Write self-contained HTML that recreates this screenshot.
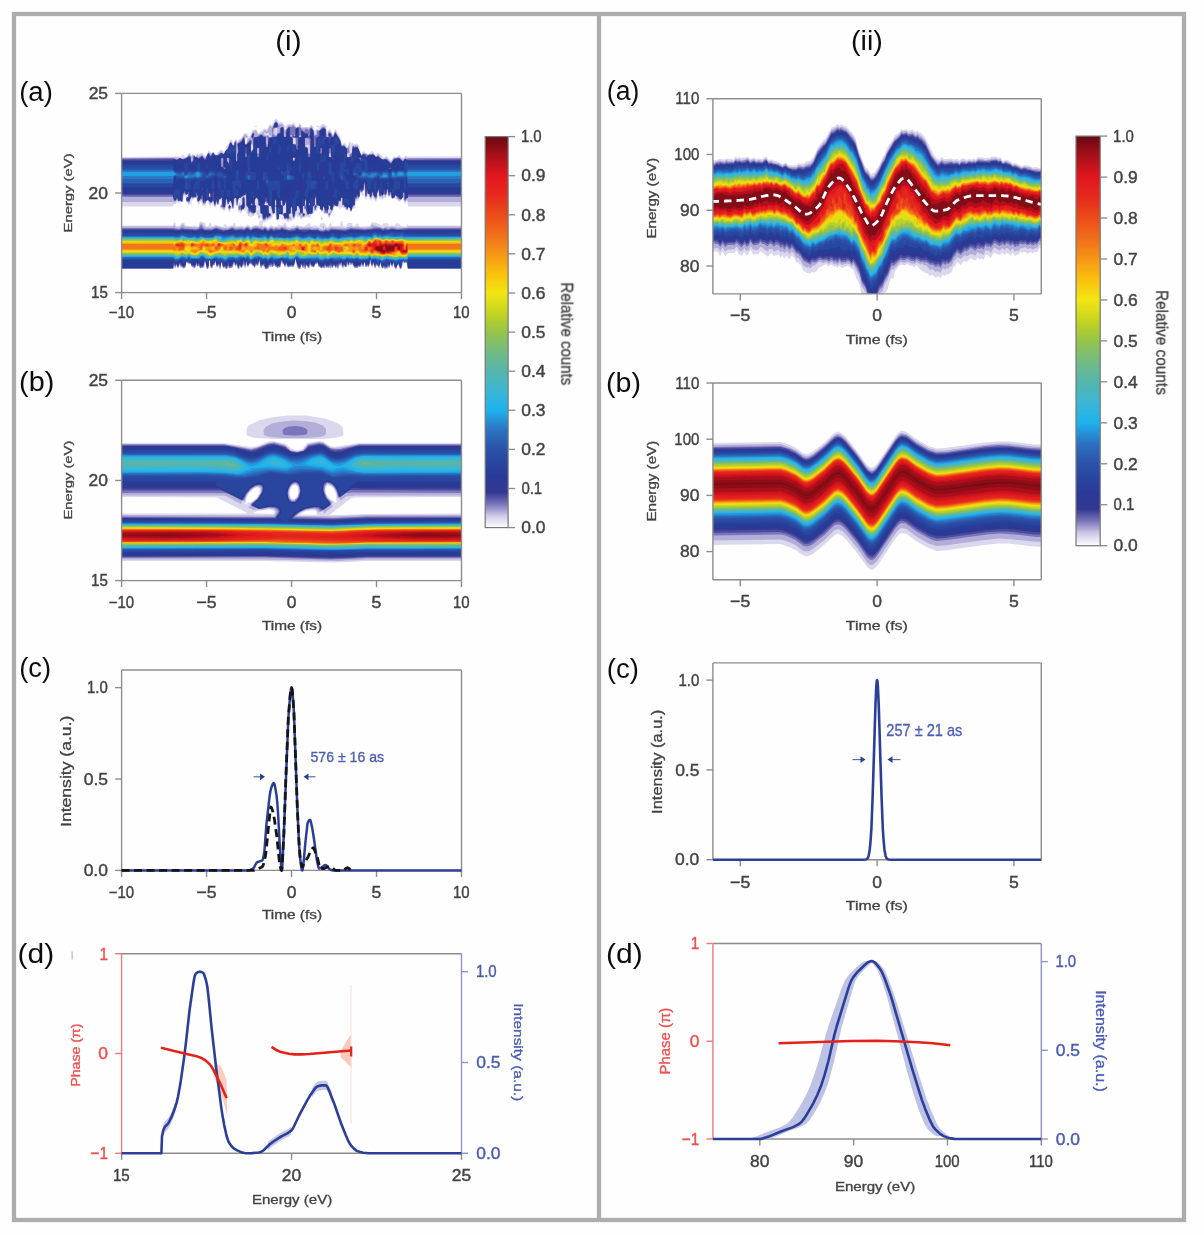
<!DOCTYPE html>
<html><head><meta charset="utf-8"><style>
html,body{margin:0;padding:0;background:#fff;width:1204px;height:1235px;overflow:hidden}
svg{display:block}
text{font-family:"Liberation Sans",sans-serif}
</style></head><body>
<svg width="1204" height="1235" viewBox="0 0 1204 1235">
<rect x="0" y="0" width="1204" height="1235" fill="#fefefe"/>
<defs><clipPath id="hiib"><rect x="712.9" y="383.0" width="328.40" height="196.70"/></clipPath><filter id="fhiib" x="-2%" y="-2%" width="104%" height="104%"><feGaussianBlur stdDeviation="0.7"/></filter></defs><g clip-path="url(#hiib)"><g filter="url(#fhiib)"><path fill="#dbd8ee" fill-rule="evenodd" d="M872.5 570l-2 -0.5 -3 -2 -10 -14 -11 -13.5 -4 -4 -4 -2 -2 0 -3 2 -9 8.5 -11 9 -4 2 -3 1 -3 -1 -8 -5.5 -9 -4 -6 -2 -70 1 -1 -12.5 0 -48 0 -35 1 -6.5 70 -1 6 1.5 9 4 8 6 3 0.5 3 -0.5 4 -2.5 11 -8.5 9 -9 3 -1.5 2 -0.5 3 1.5 4 3.5 12 15 9 13 3 2.5 2 0.5 2 -0.5 3 -2.5 19 -28.5 3 -3.5 3 -2 5 1.5 10 7 12 7 8 2.5 8 -0.5 40 -5.5 14 -1 11 0 24 3 11 0 1 6 0 35 0 49 -1 12.5 -11 -0.5 -25 -3 -10 0 -14 1.5 -40 5.5 -8 0.5 -8 -3 -12 -6.5 -10 -7.5 -5 -1 -2 1 -3 3 -19 28.5 -3 3 -2 1.5z"/><path fill="#b2add9" fill-rule="evenodd" d="M873.5 564.5l-3 0.5 -3 -2 -10 -14.5 -11 -13.5 -4 -4 -4 -2 -2 0.5 -3 1.5 -9 9 -11 8.5 -4 2.5 -3 0.5 -3 -0.5 -8 -6 -9 -4 -6 -1.5 -70 1 -1 -14 0 -42 0 -32 1 -7.5 70 -1 6 2 9 4 8 5.5 3 1 3 -1 4 -2 11 -9 9 -8.5 3 -2 2 0 3 1 4 3.5 12 15 9 13 3 2.5 2 1 2 -0.5 3 -3 19 -28 3 -4 3 -1.5 5 1 10 7.5 12 6.5 8 2.5 8 0 40 -5.5 14 -1.5 10 0 25 3 11 0.5 0.5 7.5 0.5 31 -0.5 43 -0.5 13.5 -11 -0.5 -25 -2.5 -10 -0.5 -14 1.5 -40 5.5 -8 0.5 -8 -2.5 -12 -7 -10 -7.5 -5 -1 -2 1 -3 3 -19 28.5 -4 4z"/><path fill="#7a74ba" fill-rule="evenodd" d="M872.5 560l-2 0 -3.5 -2.5 -9.5 -14 -9 -11 -5 -5.5 -4 -2.5 -3 0 -2.5 1 -9.5 9.5 -9 7 -4 3 -4 1.5 -4 -0.5 -9 -6.5 -9 -4 -4 -1 -71 1 -1 -12 0 -39 0 -29 1 -8.5 70 -1 10 3 6 3 7 5.5 3 0.5 2.5 -0.5 3.5 -2 11.5 -9 9.5 -9 2 -1.5 3 -0.5 3 1.5 4 3.5 11.5 14 9.5 13.5 3 3 2 0.5 2 -0.5 3 -2.5 18.5 -28 3.5 -4 3 -2 3 0.5 3 1 9.5 7.5 11.5 6.5 8 2.5 10 -0.5 40 -6 12 -1 10 0.5 22 2.5 14 0.5 0.5 9 0.5 28 -0.5 39 -0.5 12.5 -8 0 -21 -2.5 -15 -1 -13.5 1 -39.5 5.5 -11 1 -4 -1 -6 -3 -9 -5 -12 -8.5 -4 -0.5 -2.5 1.5 -3.5 4 -17.5 26 -2.5 3.5 -3 2z"/><path fill="#4a4c9f" fill-rule="evenodd" d="M872.5 557.5l-2 0 -3 -2 -10 -14.5 -11 -13.5 -4 -4 -4 -2 -2 0.5 -3 1.5 -9 9 -11 8.5 -4 2.5 -3 0.5 -3 -0.5 -8 -6 -9 -4 -6 -1.5 -70 1 -1 -48.5 0 -28 1 -8.5 70 -1 6 1.5 9 4.5 8 5.5 3 1 3 -1 4 -2 11 -9 9 -8.5 3 -2 2 0 3 1 4 3.5 12 15 9 13 3 2.5 2 1 2 -0.5 3 -3 19 -28.5 3 -3.5 3 -1.5 5 1 10 7.5 12 6.5 8 2.5 8 0 40 -6 14 -1 10 0 25 3 11 0.5 0.5 8.5 0.5 27 -1 49 -11 0 -25 -3 -10 0 -14 1 -40 5.5 -8 0.5 -8 -2.5 -12 -7 -10 -7 -5 -1.5 -2 1 -3 3 -19 28.5 -3 3.5 -2 1z"/><path fill="#303892" fill-rule="evenodd" d="M873.5 555l-3 0 -3 -2 -10 -14 -11 -13.5 -4 -4 -4 -2 -2 0 -3 2 -9 8.5 -11 9 -4 2 -3 1 -3 -1 -8 -5.5 -9 -4 -6 -2 -70 1 -1 -46 0 -25 1 -10 70 -1 6 1.5 9 4 7.5 5.5 3.5 1 3.5 -1 3.5 -2 10 -8 10 -9.5 3 -1.5 2 -0.5 3 1 4 4 12.5 15.5 7.5 11 3 3 3 1.5 2 -0.5 3 -2.5 19.5 -29.5 3.5 -3.5 2 -1 5 1 10 7.5 12 7 8 2.5 8 -0.5 39 -5.5 14 -1 12 0 22 2.5 13 0.5 0.5 10.5 0.5 24 -1 47 -11 -0.5 -25 -3 -10 0 -14 1.5 -40 5.5 -8 0 -8 -2.5 -12 -6.5 -10 -7.5 -5 -1 -2 1 -3 3 -19 28.5 -4 4z"/><path fill="#2a3a95" fill-rule="evenodd" d="M873.5 552.5l-3 0.5 -3 -2 -10 -14.5 -11 -13.5 -4 -4 -4 -2 -2 0.5 -3 1.5 -9 9 -11 8.5 -4 2.5 -3 0.5 -3 -0.5 -8 -6 -9 -4 -6 -1.5 -70 1 -1 -44 1 -34 70 -1 6 1.5 9 4 8 6 3 0.5 3 -0.5 4 -2.5 11 -8.5 9 -9 3 -1.5 2 -0.5 3 1 4 4 12 14.5 9 13 3 3 2 0.5 2 -0.5 3 -2.5 19 -28.5 3 -3.5 3 -2 5 1 10 7.5 12 7 8 2.5 8 -0.5 40 -5.5 14 -1.5 10 0.5 25 2.5 11 0.5 1 33.5 -1 44.5 -11 -0.5 -25 -2.5 -10 0 -14 1 -40 5.5 -8 0.5 -8 -2.5 -12 -7 -10 -7.5 -5 -1 -2 1 -3 3 -19 28.5 -4 4z"/><path fill="#283d99" fill-rule="evenodd" d="M872.5 551l-2 -0.5 -3 -2 -10 -14 -11 -13.5 -4 -4 -4 -2 -2 0 -3 2 -9 8.5 -11 9 -4 2 -3 1 -3 -1 -8 -5.5 -9 -4 -6 -2 -70 1 -1 -41.5 1 -33.5 70 -1 6 2 9 4 8 6 3 0.5 3 -1 4 -2 11 -9 9 -8.5 3 -1.5 2 -0.5 3 1 4 4 12 14.5 9 13 3 3 2 0.5 2 -0.5 3 -3 19 -28 3 -3.5 3 -2 5 1 10 7.5 12 6.5 8 3 8 -0.5 40 -5.5 14 -1.5 10 0.5 25 2.5 11 0.5 1 32.5 -1 42.5 -11 -0.5 -25 -3 -10 0 -14 1.5 -40 5.5 -8 0.5 -8 -3 -12 -6.5 -10 -7.5 -5 -1 -2 1 -3 3 -19 28.5 -3 3 -2 1.5z"/><path fill="#29449e" fill-rule="evenodd" d="M872.5 548.5l-2 0 -3 -2 -10 -14 -11 -14 -4 -4 -4 -1.5 -2 0 -3 1.5 -9 9 -11 8.5 -4 2.5 -3 1 -3 -1 -8 -6 -9 -4 -6 -1.5 -70 1 -1 -39.5 1 -32.5 70 -1 6 2 9 4 8 5.5 3 1 3 -1 4 -2 11 -9 9 -8.5 3 -2 2 0 3 1 4 3.5 12 15 9 13 3 2.5 2 1 2 -0.5 3 -3 19 -28 3 -3.5 3 -2 5 1 10 7.5 12 6.5 8 3 8 -0.5 40 -5.5 14 -1.5 10 0 25 3 11 0.5 0.5 31.5 -0.5 40 -11 0 -25 -3 -10 0 -14 1 -40 5.5 -8 0.5 -8 -2.5 -12 -7 -10 -7 -5 -1 -2 1 -3 3 -19 28 -3 3.5 -2 1z"/><path fill="#294ba3" fill-rule="evenodd" d="M872.5 546.5l-2 0 -3 -2 -10 -14.5 -11 -13.5 -4 -4 -4 -2 -2 0.5 -3 1.5 -9 9 -11 8.5 -4 2.5 -3 0.5 -3 -0.5 -8 -6 -9 -4 -6 -1.5 -70 1 -1 -37.5 1 -31.5 70 -1 6 1.5 9 4.5 8 5.5 3 1 3 -1 4 -2 11 -9 9 -8.5 3 -2 2 0 3 1 4 3.5 12 15 9 13 3 2.5 2 1 2 -0.5 3 -3 19 -28.5 3 -3.5 3 -1.5 5 1 10 7.5 12 6.5 8 2.5 8 0 40 -6 14 -1 10 0 25 3 11 0.5 0.5 30.5 -0.5 38 -11 -0.5 -25 -2.5 -10 0 -14 1 -40 5.5 -8 0.5 -8 -2.5 -12 -7 -10 -7.5 -5 -1 -2 1 -3 3 -19 28.5 -3 3.5 -2 1z"/><path fill="#2a52a8" fill-rule="evenodd" d="M873.5 544l-3 0.5 -3 -2.5 -10 -14 -11 -13.5 -4 -4 -4 -2 -2 0.5 -3 1.5 -9 8.5 -11 9 -4 2 -3 1 -3 -0.5 -9 -6.5 -9 -4 -5 -1.5 -70 1.5 -1 -35.5 1 -30.5 70 -1 6 1.5 9 4 8 6 3 1 3 -1 4 -2.5 11 -8.5 9 -9 3 -1.5 2 0 3 1 4 3.5 12 15 9 13 3 2.5 2 1 2 -0.5 3 -3 19.5 -29 2.5 -3 3 -1.5 5 1 10 7 12 7 8 2.5 8 -0.5 39 -5 15 -1.5 11 0 24 3 11 0 0.5 30 -0.5 36 -11 -0.5 -25 -2.5 -10 -0.5 -15 1.5 -39 5.5 -8 0.5 -4 -1 -6 -3 -10 -5.5 -10 -7.5 -5 -1 -2 1 -3 3 -19 28.5 -4 4z"/><path fill="#2b5fb3" fill-rule="evenodd" d="M872.5 543l-2 0 -3.5 -2.5 -9.5 -14 -11 -13.5 -4 -4 -4 -2 -2 0.5 -3 1.5 -9 8.5 -11 9 -4 2 -3 1 -3 -0.5 -8 -6 -9 -4 -6 -2 -70 1.5 -1 -34 1 -29.5 70 -1 5 1 10 4.5 7 5.5 4 1 3 -0.5 4 -2.5 10.5 -8.5 9.5 -9 3 -1.5 2 -0.5 3 1.5 4 3.5 12 14.5 9 13 3 3 2 0.5 2 -0.5 3 -2.5 19 -28.5 3 -3.5 3 -2 5 1 10 7.5 12 7 8 2.5 9 -0.5 40 -5.5 13 -1 10 0 24 2.5 12 0.5 0.5 29 -0.5 34.5 -11 -0.5 -25 -2.5 -10 -0.5 -14 1.5 -40 5.5 -8 0.5 -8 -3 -12 -6.5 -10 -7.5 -5 -1 -2 1 -3 3 -19 28.5 -3 3.5 -2 1z"/><path fill="#2c6cbe" fill-rule="evenodd" d="M872.5 541.5l-2 0 -3 -2 -10 -14 -11 -13.5 -4 -4 -4 -2 -2 0 -3 2 -9 8.5 -11 9 -4 2 -3 1 -3 -1 -8 -5.5 -9 -4.5 -6 -1.5 -70 1 -1 -32.5 1 -29 70 -1 6 2 9 4 8 5.5 3 1 3 -1 4 -2 11 -9 9 -8.5 3 -2 2 0 3 1 4 3.5 12 15 9 13 3 2.5 2 1 2 -0.5 3 -3 19 -28 3 -3.5 3 -2 5 1 10 7.5 12 6.5 8 3 8 -0.5 40 -5.5 14 -1.5 10 0 25 3 11 0.5 0.5 28 -0.5 33.5 -11 -0.5 -25 -3 -10 0 -14 1 -40 6 -8 0 -8 -2.5 -12 -6.5 -10 -7.5 -5 -1 -2 1 -3 3 -19 28.5 -3 3 -2 1z"/><path fill="#2a80cc" fill-rule="evenodd" d="M872.5 540.5l-2 0 -3 -2 -10 -14 -11 -14 -4 -4 -4 -1.5 -2 0 -3 1.5 -9 9 -11 8.5 -4 2.5 -3 0.5 -3 -0.5 -8 -6 -9 -4 -6 -1.5 -70 1 -1 -31.5 1 -28 70 -1 6 1.5 9 4 8 6 3 0.5 3 -0.5 4 -2.5 11 -8.5 9 -9 3 -1.5 2 0 3 1 4 3.5 12 15 9 13 3 2.5 2 0.5 2 -0.5 3 -2.5 19 -28.5 3 -3.5 3 -2 5 1.5 10 7 12 7 8 2.5 8 -0.5 40 -5.5 14 -1 10 0 25 3 11 0 0.5 27.5 -0.5 32 -11 0 -25 -3 -10 0 -14 1 -40 5.5 -8 0.5 -8 -2.5 -12 -7 -10 -7 -5 -1.5 -2 1 -3 3.5 -19 28 -3 3.5 -2 1z"/><path fill="#2499dd" fill-rule="evenodd" d="M871.5 539.5l-2 -0.5 -3 -3 -9 -13 -12 -14.5 -4 -3.5 -3 -1.5 -2 0.5 -3 1.5 -9 9 -11 8.5 -4 2.5 -3 0.5 -3 -0.5 -8 -6 -9 -4 -6 -1.5 -70 1 -1 -30.5 1 -27 70 -1 6 1.5 9 4 8 6 3 0.5 3 -0.5 4 -2.5 11 -8.5 9 -9 3 -1.5 2 -0.5 3 1 4 4 12 14.5 9 13 3 3 2 0.5 2 -0.5 3 -2.5 19 -28.5 3 -3.5 3 -2 5 1 10 7.5 12 7 8 2.5 8 -0.5 40 -5.5 14 -1.5 10 0.5 25 2.5 11 0.5 0.5 26.5 -0.5 31 -11 -0.5 -25 -2.5 -10 -0.5 -14 1.5 -40 5.5 -8 0.5 -8 -2.5 -12 -7 -10 -7.5 -5 -1 -3 2 -3 3.5 -19 28.5 -3 2.5 -2 0.5z"/><path fill="#1eb2ee" fill-rule="evenodd" d="M873.5 538l-3 0.5 -3 -2.5 -11 -15.5 -9 -11 -5 -5 -4 -2 -2 0 -3 2 -9 9 -10 7.5 -5 3.5 -3 0.5 -3 -0.5 -6.5 -5 -5.5 -3 -7 -3 -4 -1 -70 1 -1 -29 1 -26.5 70 -1 6 1.5 9 4 7.5 6 3.5 1 3 -1 4 -2.5 11 -8.5 9 -9 3 -1.5 2 0 3 1 4 3.5 11.5 14 9.5 14 3 2.5 2 1 2 -0.5 3 -3 19.5 -29 2.5 -3 3 -1.5 5 1 10.5 7.5 12.5 7 6 2 9 0 39 -5.5 15 -1.5 11 0 24 3 11 0 0.5 26 -0.5 30 -11 -0.5 -22 -2.5 -12 -0.5 -16.5 1.5 -39.5 5.5 -8 0.5 -6 -2 -11 -6.5 -12 -8.5 -5 -1 -2 1 -3 3 -19.5 29 -3.5 3.5z"/><path fill="#2ab4e4" fill-rule="evenodd" d="M872.5 537.5l-2 0 -3 -2 -10 -14 -12 -15 -4 -3.5 -3 -1 -3 0.5 -3 2 -8 8 -12 9.5 -6 2 -4 -1 -7.5 -5.5 -9 -4 -4.5 -1.5 -71 1 -1 -28.5 1 -26 70 -1 6 2 9 4 7 5 4 1.5 3 -1 4 -2 10.5 -8.5 9.5 -9 3 -2 2 0 3 1 4 3.5 12.5 15.5 8.5 12.5 3 3 2 0.5 2 -0.5 3 -3 18.5 -27.5 3.5 -4 3 -2 3 0 3 1.5 9 7 12 6.5 8 3 8 -0.5 41 -6 13 -1 10 0 24 3 12 0.5 0.5 25 -0.5 29.5 -15 -1 -21.5 -2.5 -9.5 0 -13 1 -39 5.5 -10 0.5 -4 -0.5 -6 -3 -9 -5 -12 -8.5 -4 -0.5 -3 1.5 -3 3.5 -17.5 26.5 -2.5 3 -3 2z"/><path fill="#36b5d9" fill-rule="evenodd" d="M873.5 536.5l-3 0.5 -3 -2 -10 -14 -11 -14 -4 -4 -4 -1.5 -2 0 -3 1.5 -9 9 -11 8.5 -4 2.5 -3 0.5 -3 -0.5 -8 -6 -9 -4 -6 -1.5 -70 1 -1 -28 1 -25 70 -1 6 1.5 9 4 8 6 3 0.5 3 -0.5 4 -2.5 11 -8.5 9 -9 3 -1.5 2 -0.5 3 1 4 4 12 14.5 9 13 3 3 2 0.5 2 -0.5 3 -2.5 19 -28.5 3 -3.5 3 -2 5 1 10 7.5 12 7 8 2.5 8 -0.5 40 -5.5 14 -1.5 10 0.5 25 2.5 11 0.5 0.5 24.5 -0.5 28.5 -11 0 -25 -3 -10 0 -14 1 -40 5.5 -8 0.5 -8 -2.5 -12 -7 -10 -7 -5 -1.5 -2 1 -3 3.5 -19 28 -4 4z"/><path fill="#41b6cc" fill-rule="evenodd" d="M872.5 536.5l-2 0 -3 -2 -10 -14 -11 -14 -4 -4 -4 -1.5 -2 0 -3 1.5 -9 9 -11 8.5 -4 2.5 -3 0.5 -3 -0.5 -8 -6 -9 -4 -6 -1.5 -70 1 -0.5 -27.5 0.5 -24.5 70 -1 6 1.5 9 4 8 6 3 0.5 3 -0.5 4 -2.5 11 -8.5 9 -9 3 -1.5 2 -0.5 3 1.5 4 3.5 12 14.5 9 13.5 3 2.5 2 0.5 2 -0.5 3 -2.5 19 -28.5 3 -3.5 3 -2 5 1 10 7.5 12 7 8 2.5 8 -0.5 40 -5.5 14 -1 10 0 25 2.5 11 0.5 0.5 24 -0.5 28 -11 0 -25 -3 -10 0 -14 1 -40 5.5 -8 0.5 -8 -2.5 -12 -7 -10 -7 -5 -1.5 -2 1 -3 3.5 -19 28 -3 3.5 -2 1z"/><path fill="#4bb6bc" fill-rule="evenodd" d="M873.5 535.5l-3 0.5 -3 -2 -10 -14 -11 -14 -4 -4 -4 -1.5 -2 0 -3 1.5 -9 9 -11 8.5 -4 2.5 -3 0.5 -3 -0.5 -8 -6 -9 -4 -6 -1.5 -70 1 -0.5 -27 0.5 -24 70 -1 6 1.5 9 4 8 6 3 0.5 3 -0.5 4 -2.5 11 -8.5 9 -9 3 -1.5 2 0 3 1 4 3.5 12 15 9 13 3 2.5 2 0.5 2 -0.5 3 -2.5 19 -28.5 3 -3.5 3 -2 5 1.5 10 7 12 7 8 2.5 8 -0.5 40 -5.5 14 -1 10 0 25 3 11 0 0.5 23.5 -0.5 27.5 -11 0 -25 -3 -10 0 -14 1 -40 5.5 -8 0.5 -8 -2.5 -12 -7 -10 -7 -5 -1.5 -2 1 -3 3.5 -19 28 -4 4z"/><path fill="#58b6a8" fill-rule="evenodd" d="M872.5 535.5l-2 0 -3 -2 -10 -14 -11 -14 -4 -4 -4 -2 -2 0.5 -3 1.5 -9 9 -11 8.5 -4 2.5 -3 0.5 -3 -0.5 -8 -6 -9 -4 -6 -1.5 -70 1 -0.5 -26.5 0.5 -23.5 70 -1 6 1.5 9 4 8 6 3 1 3 -1 4 -2.5 11 -8.5 9 -9 3 -1.5 2 0 3 1 4 3.5 12 15 9 13 3 2.5 2 1 2 -0.5 3 -3 19 -28.5 3 -3.5 3 -1.5 5 1 10 7 12 7 8 2.5 8 -0.5 40 -5.5 14 -1 10 0 25 3 11 0 0.5 23 -0.5 27 -11 0 -25 -3 -10 0 -14 1 -40 5.5 -8 0.5 -8 -2.5 -12 -7 -10 -7 -5 -1.5 -2 1 -3 3 -19 28.5 -3 3.5 -2 1z"/><path fill="#6aba8f" fill-rule="evenodd" d="M872.5 535l-2 -0.5 -3 -2 -10 -14 -11 -13.5 -4 -4 -4 -2 -2 0 -3 2 -9 8.5 -11 9 -4 2 -3 1 -3 -1 -8 -5.5 -9 -4 -6 -2 -70 1 -0.5 -25.5 0.5 -22.5 70 -1 6 1.5 9 4 8 6 3 0.5 3 -0.5 4 -2.5 11 -8.5 9 -9 3 -1.5 2 -0.5 3 1.5 4 3.5 12 14.5 9 13.5 3 2.5 2 0.5 2 -0.5 3 -2.5 19 -28.5 3 -3.5 3 -2 5 1.5 10 7 12 7 8 2.5 8 -0.5 40 -5.5 14 -1 10 0 25 3 11 0 0.5 22 -0.5 26.5 -11 -0.5 -25 -3 -10 0 -14 1.5 -40 5.5 -8 0.5 -8 -3 -12 -6.5 -10 -7.5 -5 -1 -2 1 -3 3 -19 28.5 -3 3 -2 1.5z"/><path fill="#7dbe71" fill-rule="evenodd" d="M873.5 533.5l-3 0.5 -3 -2 -10 -14.5 -11 -13.5 -4 -4 -4 -2 -2 0.5 -3 1.5 -9 9 -11 8.5 -4 2.5 -3 0.5 -3 -0.5 -8 -6 -9 -4 -6 -1.5 -70 1 -0.5 -25 0.5 -21.5 70 -1 6 1.5 9 4 8 6 3 0.5 3 -0.5 4 -2.5 11 -8.5 9 -9 3 -1.5 2 -0.5 3 1 4 4 12 14.5 9 13 3 3 2 0.5 2 -0.5 3 -2.5 19 -28.5 3 -3.5 3 -2 5 1 10 7.5 12 7 8 2.5 8 -0.5 40 -5.5 14 -1.5 10 0.5 25 2.5 11 0.5 0.5 21 -0.5 25.5 -11 -0.5 -25 -2.5 -10 0 -14 1 -40 5.5 -8 0.5 -8 -2.5 -12 -7 -10 -7.5 -5 -1 -2 1 -3 3 -19 28.5 -4 4z"/><path fill="#91c34e" fill-rule="evenodd" d="M873.5 533l-3 0 -3 -2 -9.5 -13.5 -12.5 -15 -3 -3.5 -4 -1.5 -3 0.5 -2 1.5 -9.5 9 -10.5 8.5 -3 1.5 -4 1.5 -4 -1.5 -7 -5 -9 -4.5 -6 -1.5 -70 1 -0.5 -24 0.5 -21 70 -1 6 2 9 4 7 5 4 1.5 4 -1.5 3 -1.5 10 -8 10 -9.5 3 -2 2 0 3 1 4 3.5 12 15 8.5 12.5 3.5 3.5 2 0.5 2 -0.5 3.5 -3.5 19.5 -29 3 -3 2 -1 5 1 10 7.5 12 6.5 8 3 8 -0.5 39 -5.5 14 -1.5 11 0 24 3 12 0.5 0.5 20 -0.5 25 -13 -0.5 -23 -3 -10 0 -14 1 -40 6 -8 0 -8 -2.5 -12 -6.5 -9 -7 -3 -1.5 -3 0 -2 1 -3 3 -19 28.5 -4 4z"/><path fill="#adcc34" fill-rule="evenodd" d="M873.5 532l-3 0 -3 -2 -10.5 -14.5 -10.5 -13 -4 -4 -4 -2 -2 0 -3 2 -9 8.5 -11 9 -4 2 -3 1 -3 -1 -8 -5.5 -9 -4.5 -6 -1.5 -70 1 -0.5 -23 0.5 -20 70 -1 5 1.5 10 4.5 8 6 3 0.5 3 -1 4 -2 11 -9 9 -8.5 3 -1.5 2 -0.5 3 1 4 4 12 14.5 9 13 3 3 2 0.5 2 -0.5 3 -3 19 -28 3 -3.5 3 -2 5 1 10 7.5 10 5.5 6 3 4 1 8 -0.5 39 -5.5 15 -1.5 10 0.5 25 2.5 11 0.5 0.5 19 -0.5 24 -11 -0.5 -25 -3 -10 0 -14 1 -40 6 -8 0 -8.5 -2.5 -11.5 -6.5 -10 -7.5 -5 -1 -3 1.5 -3 3.5 -18 27.5 -4 4z"/><path fill="#cad61f" fill-rule="evenodd" d="M873.5 530.5l-3 0.5 -3 -2 -10 -14.5 -11 -13.5 -4 -4 -4 -2 -2 0.5 -3 1.5 -9 9 -11 8.5 -4 2.5 -3 0.5 -3 -0.5 -8 -6 -9 -4 -6 -1.5 -70 1 -0.5 -22 0.5 -18.5 70 -1 6 1.5 9 4 8 6 3 0.5 3 -0.5 4 -2.5 11 -8.5 9 -9 3 -1.5 2 -0.5 3 1.5 4 3.5 12 15 9 13 3 2.5 2 0.5 2 -0.5 3 -2.5 19 -28.5 3 -3.5 3 -2 5 1.5 10 7 12 7 8 2.5 8 -0.5 40 -5.5 14 -1 10 0 25 3 11 0 0.5 18 -0.5 22.5 -11 0 -25 -3 -10 0 -14 1 -40 5.5 -8 0.5 -8 -2.5 -12 -7 -10 -7 -5 -1.5 -2 1 -3 3 -19 28.5 -4 4z"/><path fill="#e5e118" fill-rule="evenodd" d="M872.5 530l-2 -0.5 -3 -2 -10 -14 -11 -13.5 -4 -4 -4 -2 -2 0 -3 2 -9 8.5 -11 9 -4 2 -3 1 -3 -1 -8 -5.5 -9 -4 -6 -2 -70 1 0 -38 70 -1 6 2 9 4 8 5.5 3 1 3 -1 4 -2 11 -9 9 -8.5 3 -2 2 0 3 1 3.5 3.5 13 16 8.5 12 3 2.5 2 1 2 -0.5 3 -3 19 -28 3 -3.5 3 -2 5 1 10 7.5 12 6.5 8 3 8 -0.5 40 -5.5 14 -1.5 10 0 25 3 11 0.5 0 38 -12 -0.5 -24 -2.5 -10 -0.5 -14 1.5 -40 5.5 -8 0.5 -8 -3 -12 -6.5 -10 -7.5 -5 -1 -2 1 -3 3 -19 28.5 -3 3.5 -2 1z"/><path fill="#f4de12" fill-rule="evenodd" d="M872.5 529l-2 0 -3.5 -2.5 -9.5 -14 -9 -11 -5 -5.5 -4 -3 -3 0.5 -2.5 1 -9.5 9.5 -9 7 -6 4 -3 0.5 -3 -0.5 -9 -6.5 -13 -5 -71 1 0 -36.5 70 -1 4 1 7 3 6 3 6 4.5 3 1 3 -1 5 -3 10 -8 9 -9 3 -1.5 2 0 3 1 4.5 4.5 11 13 9.5 14 2 2 3 1.5 3 -1.5 2 -2 19.5 -29 3.5 -3.5 2 -1 5 1 12 8.5 11 6 6 2 7.5 0 38.5 -5.5 17 -1.5 13 0.5 22 2.5 11 0 0 36.5 -9 0 -21 -2.5 -14 -1 -13.5 1 -39.5 5.5 -11 1 -4 -1 -5 -2.5 -10 -5.5 -12 -8.5 -4 -0.5 -2.5 1.5 -3.5 4 -17.5 26 -2.5 3.5 -3 2z"/><path fill="#f7cf0f" fill-rule="evenodd" d="M871.5 528.5l-2 -0.5 -3 -3 -9 -13 -12 -14.5 -4 -3.5 -3 -1.5 -2 0.5 -3 1.5 -9 9 -12 9 -6 2.5 -4 -1 -7 -5.5 -9 -4 -6 -1.5 -70 1 0 -35.5 70 -1 6 1.5 9 4 7 5.5 4 1 3 -0.5 4 -2.5 11 -8.5 9 -9 5 -2 3 1.5 4.5 4 12 15 8.5 12.5 3 2.5 2 0.5 2 -0.5 3 -2.5 19.5 -29.5 3.5 -3.5 2 -1 5 1 11.5 8.5 11.5 6.5 6 2 9 -0.5 39 -5.5 15 -1 12 0 22 2.5 12 0.5 0 35.5 -11 -0.5 -25 -2.5 -10 -0.5 -14 1.5 -38 5.5 -10 0.5 -8 -2.5 -12 -7 -9 -7 -3 -1 -3 -0.5 -3 2 -3 3.5 -19 28.5 -3 2.5 -2 0.5z"/><path fill="#fac00c" fill-rule="evenodd" d="M873.5 527.5l-3 0.5 -3 -2 -10 -14.5 -11 -13.5 -4 -4 -4 -2 -2 0.5 -3 1.5 -9 9 -11 8.5 -4 2.5 -3 0.5 -3 -0.5 -8 -6 -9 -4 -6 -1.5 -70 1 0 -34.5 70 -1.5 6 2 9 4 7 5 4 1.5 3 -1 4 -2 11 -9 9 -8.5 3 -1.5 2 -0.5 3 1 4 4 12.5 15 8.5 12.5 3 3 2 0.5 2 -0.5 3 -3 19 -28 3 -3.5 3 -2 5 1 10 7.5 12 6.5 8 3 8 -0.5 40 -5.5 14 -1.5 11 0.5 23 2.5 12 0.5 0 34.5 -11 -0.5 -25 -2.5 -10 0 -14 1 -40 5.5 -8 0.5 -8 -2.5 -12 -7 -10 -7 -5 -1.5 -2 1 -3 3 -19 28.5 -4 4z"/><path fill="#f8af10" fill-rule="evenodd" d="M872.5 527.5l-2 0 -3 -2 -10 -14 -11 -14 -4 -4 -4 -1.5 -2 0 -3 1.5 -9 9 -11 8.5 -4 2.5 -3 1 -3 -1 -8 -6 -9 -4 -6 -1.5 -70 1 0 -34 70 -1 6 1.5 9 4 8 6 3 1 3 -1 4 -2.5 11 -8.5 9 -9 3 -1.5 2 0 3 1 4 3.5 12 15 9 13 3 2.5 2 1 2 -0.5 3 -3 19 -28.5 3 -3.5 3 -1.5 5 1 10 7 12 7 8 2.5 8 -0.5 40 -5.5 14 -1 10 0 25 3 11 0 0 34 -11 0 -25 -3 -10 0 -14 1 -40 5.5 -8 0.5 -8 -2.5 -12 -7 -10 -7 -5 -1 -2 1 -3 3 -19 28 -3 3.5 -2 1z"/><path fill="#f79e14" fill-rule="evenodd" d="M873.5 527l-3 0 -3 -2 -10 -14 -11 -13.5 -4 -4 -4 -2 -2 0 -3 2 -9 8.5 -11 9 -4 2 -3 1 -3 -1 -8 -5.5 -9 -4.5 -6 -1.5 -70 1 0 -33 70 -1 6 1.5 9 4 8 6 3 0.5 3 -0.5 4 -2.5 11 -8.5 9 -9 3 -1.5 2 -0.5 3 1.5 4 3.5 12 14.5 9 13 3 3 2 0.5 2 -0.5 3 -2.5 19 -28.5 3 -3.5 3 -2 5 1 10 7.5 12 7 8 2.5 8 -0.5 40 -5.5 14 -1.5 10 0.5 25 2.5 11 0.5 0 33.5 -11 -0.5 -25 -3 -10 0 -14 1 -40 6 -8 0 -8 -2.5 -12 -6.5 -10 -7.5 -5 -1 -2 1 -3 3 -19 28.5 -4 4z"/><path fill="#f58e17" fill-rule="evenodd" d="M872.5 527l-2 0 -3 -2.5 -10 -14 -11 -13.5 -4 -4 -4 -2 -2 0 -3 2 -9 8.5 -11 9 -4 2 -3 1 -3 -0.5 -8 -6 -9 -4 -6 -2 -70 1 0 -32.5 70 -1 6 1.5 9 4.5 8 5.5 3 1 3 -1 4 -2 11 -9 9 -8.5 3 -2 2 0 3 1 4 3.5 12 15 9 13 3 2.5 2 1 2 -0.5 3 -3 19 -28.5 3 -3.5 3 -1.5 5 1 10 7.5 12 6.5 8 2.5 8 0 40 -6 14 -1 10 0 25 3 11 0.5 0 32.5 -11 -0.5 -25 -2.5 -10 -0.5 -14 1.5 -40 5.5 -8 0.5 -8 -3 -12 -6.5 -10 -7.5 -5 -1 -2 1 -3 3 -19 28.5 -3 3.5 -2 1z"/><path fill="#f37e18" fill-rule="evenodd" d="M871.5 526.5l-2 -0.5 -3 -3 -9 -13 -12 -14.5 -4 -3.5 -3 -1.5 -2 0.5 -3 1.5 -9 9 -11 8.5 -4 2.5 -3 0.5 -3 -0.5 -8 -6 -9 -4 -6 -1.5 -70 1 0 -32 70 -1 6 1.5 9 4 8 6 3 0.5 3 -0.5 4 -2.5 11 -8.5 9 -9 3 -1.5 2 -0.5 3 1.5 4 3.5 12 14.5 9 13.5 3 2.5 2 0.5 2 -0.5 3 -2.5 19 -28.5 3 -3.5 3 -2 5 1.5 10 7 12 7 8 2.5 8 -0.5 40 -5.5 14 -1 10 0 25 3 11 0 0 32 -11 -0.5 -25 -2.5 -10 -0.5 -14 1.5 -40 5.5 -8 0.5 -8 -2.5 -12 -7 -10 -7.5 -5 -1 -3 2 -3 3.5 -19 28.5 -3 2.5 -2 0.5z"/><path fill="#f16e1a" fill-rule="evenodd" d="M873.5 525.5l-3 0.5 -3 -2 -10 -14 -11 -14 -4 -4 -4 -2 -2 0.5 -3 1.5 -9 9 -11 8.5 -4 2.5 -3 0.5 -3 -0.5 -8 -6 -9 -4 -6 -1.5 -70 1 0 -31.5 70 -1 6 2 9 4 8 5.5 3 1 3 -1 4 -2 11 -9 9 -8.5 3 -2 2 0 3 1 4 3.5 12 15 9 13 3 3 2 0.5 2 -0.5 3 -3 19 -28 3 -3.5 3 -2 5 1 10 7.5 12 6.5 8 3 8 -0.5 40 -5.5 14 -1.5 10 0 25 3 11 0.5 0 31 -11 0 -25 -3 -10 0 -14 1 -40 5.5 -8 0.5 -8 -2.5 -12 -7 -10 -7 -5 -1.5 -2 1 -3 3 -19 28.5 -4 4z"/><path fill="#ef601a" fill-rule="evenodd" d="M872.5 525.5l-2 0 -3 -2 -10 -14 -11 -14 -4 -4 -4 -1.5 -2 0 -3 1.5 -9 9 -11 8.5 -4 2.5 -3 1 -3 -1 -8 -6 -9 -4 -6 -1.5 -70 1 0 -30.5 70 -1 6 1.5 9 4 8 6 3 0.5 3 -0.5 4 -2.5 11 -8.5 9 -9 3 -1.5 2 0 3 1 4 3.5 12 15 9 13 3 2.5 2 0.5 2 -0.5 3 -2.5 19 -28.5 3 -3.5 3 -1.5 5 1 10 7 12 7 8 2.5 8 -0.5 40 -5.5 14 -1 10 0 25 3 11 0 0 30.5 -11 0 -25 -3 -10 0 -14 1 -40 5.5 -8 0.5 -8 -2.5 -12 -7 -10 -7 -5 -1 -2 1 -3 3 -19 28 -3 3.5 -2 1z"/><path fill="#ed531a" fill-rule="evenodd" d="M873.5 525l-3 0 -3 -2 -10 -14 -11 -13.5 -4 -4 -4 -2 -2 0 -3 2 -9 8.5 -11 9 -4 2 -3 1 -3 -1 -8 -5.5 -9 -4 -6 -2 -70 1 0 -29.5 70 -1 6 1.5 9 4 8 6 3 0.5 3 -0.5 4 -2.5 11 -8.5 9 -9 3 -1.5 2 -0.5 3 1 4 4 12 14.5 9 13 3 3 2 0.5 2 -0.5 3 -2.5 19 -28.5 3 -3.5 3 -2 5 1 10 7.5 12 7 8 2.5 8 -0.5 40 -5.5 14 -1.5 10 0.5 25 2.5 11 0.5 0 30 -11 -0.5 -25 -3 -10 0 -14 1.5 -40 5.5 -8 0 -8 -2.5 -12 -6.5 -10 -7.5 -5 -1 -2 1 -3 3 -19 28.5 -4 4z"/><path fill="#eb451b" fill-rule="evenodd" d="M872.5 525l-2 0 -3 -2.5 -11 -15 -10 -12.5 -4 -4 -4 -2 -2 0.5 -3 1.5 -9 8.5 -11 9 -4 2 -3 1 -3 -0.5 -8 -6 -9 -4 -6 -1.5 -70 1 0 -29.5 70 -1 5.5 1.5 9.5 4.5 8 5.5 3 1 3 -1 4 -2 11 -9 9 -8.5 3 -2 2 0 3 1 4 3.5 12 15 9 13 3 2.5 2 1 2 -0.5 3 -3 19 -28.5 3 -3.5 3 -1.5 5 1 10 7.5 11 6 5 2.5 4 0.5 8 0 39 -5.5 15 -1.5 12 0.5 22 2.5 12 0.5 0 29 -11 -0.5 -25 -2.5 -10 -0.5 -14 1.5 -40 5.5 -8 0.5 -8 -3 -12 -6.5 -10 -7.5 -5 -1 -2 1 -3 3 -19 28.5 -3 3.5 -2 1z"/><path fill="#e8381c" fill-rule="evenodd" d="M871.5 524.5l-2.5 -1 -3.5 -3.5 -8 -11.5 -13 -16 -3 -2.5 -3 -1.5 -3 0.5 -3 2.5 -8.5 8 -10.5 8.5 -3 2 -4 1 -3 -0.5 -7 -5.5 -6 -3 -10 -3 -70 1 0 -28.5 70 -1 4.5 1 10.5 4.5 8 6 3 0.5 3 -0.5 5 -3 10 -8 9 -9 3 -1.5 2 -0.5 3 1.5 4 3.5 11 13.5 9.5 14 2.5 2.5 3 1 2 -0.5 3.5 -3 18.5 -28 3.5 -4 2.5 -1.5 5 1 12 9 11 6 6 2 8 0 40 -6 15 -1 12 0 23 3 11 0 0 28.5 -13 -0.5 -23 -2.5 -10 -0.5 -13 1.5 -40 5.5 -9 0.5 -8 -2.5 -12 -7 -9 -7 -3 -1 -3 -0.5 -3 2 -3.5 4 -18.5 28 -3 2.5 -2 0.5z"/><path fill="#e62a1e" fill-rule="evenodd" d="M873.5 523.5l-4 0 -2 -1.5 -9.5 -13.5 -11 -14 -4.5 -4.5 -4 -2 -5 2 -10 9.5 -10 8 -3 2 -4 1 -4 -1 -7 -5.5 -4 -2 -8 -3 -4 -1 -69 1.5 0 -27.5 69 -1.5 4.5 1 7.5 3 4 2 7 5.5 4 1 4 -1 3 -2 10 -8 10 -9.5 5 -2 4 2 4 4 12 15 7 11 4 3.5 2 0.5 2 -0.5 3.5 -3.5 19.5 -29 3 -3 2 -1 5 1 10 7.5 12 7 7 2.5 9 -0.5 49 -6.5 17 0 21 2.5 13 0.5 0 27.5 -13 -0.5 -22 -2.5 -13 0 -13 1 -38 5.5 -10 0.5 -7 -2.5 -12 -7 -10 -7.5 -5 -1 -2 1 -3.5 3.5 -18.5 28 -4 4z"/><path fill="#e4221e" fill-rule="evenodd" d="M873.5 522.5l-3 0.5 -3 -2 -10 -14.5 -11 -13.5 -4 -4 -4 -2 -2 0.5 -3 1.5 -9 9 -11 8.5 -4 2.5 -3 0.5 -3 -0.5 -8 -6 -9 -4 -6 -1.5 -70 1 0 -26 70 -1 6 1.5 9 4 7 5.5 4 1 6 -2 12 -9.5 9 -9 3 -1.5 2 0 3 1 4 3.5 12 15 9 13 3 2.5 2 0.5 3 -1 4 -4.5 19 -28.5 3 -2.5 2 -0.5 5 2 9 6.5 10 6 6 2.5 4 1 10 -0.5 38 -5.5 14 -1 10 0 25 3 11 0 0 26 -11 -0.5 -25 -2.5 -10 0 -14 1 -40 5.5 -8 0.5 -8 -2.5 -12 -7 -10 -7.5 -5 -1 -2 1 -3 3 -19 28.5 -4 4z"/><path fill="#e31a1e" fill-rule="evenodd" d="M872.5 521.5l-2 0 -3 -2 -10 -14.5 -11 -13.5 -4 -4 -3 -1.5 -2 -0.5 -3 1.5 -10 9.5 -11 8.5 -4 2.5 -4 0.5 -3 -1 -7 -5.5 -9 -4 -6 -1.5 -70 1 0 -23.5 70 -1 6 1.5 9 4.5 8 5.5 3 1 3 -1 4 -2.5 11 -8.5 9 -9 3 -1.5 2 0 3 1 4 3.5 12 15 9 13 3 2.5 2 1 2 -0.5 3 -3 19 -28.5 3 -3.5 3 -1.5 5 1 10 7 12 7 8 2.5 8 -0.5 40 -5.5 14 -1 10 0 25 3 11 0.5 0 23 -11 0 -25 -3 -10 0 -14 1 -40 5.5 -8 0.5 -8 -2.5 -12 -7 -10 -7 -5 -1.5 -2 1 -3 3 -19 28.5 -3 3.5 -2 1z"/><path fill="#d7151d" fill-rule="evenodd" d="M873.5 519.5l-3 0.5 -3 -2 -10 -14 -11 -14 -4 -4 -3 -1.5 -2 0 -3 1 -10 9.5 -11 8.5 -4 2.5 -4 0.5 -3 -1 -7 -5.5 -9 -4 -6 -1.5 -70 1 0 -21 70 -1 6 2 9 4 8 5.5 3 1 3 -1 4 -2 11 -9 9 -8.5 3 -2 2 0 3 1 4 3.5 12 15 9 13 3 2.5 2 1 2 -0.5 3 -3 19 -28 3 -4 3 -1.5 5 1 10 7.5 12 6.5 8 2.5 8 0 40 -5.5 14 -1.5 10 0 25 3 11 0.5 0 20.5 -11 0 -25 -3 -10 0 -14 1 -40 5.5 -8 0.5 -8 -2.5 -12 -7 -10 -7 -5 -1.5 -2 1 -3 3.5 -19 28 -4 4z"/><path fill="#c0121c" fill-rule="evenodd" d="M872.5 518.5l-2 0 -3 -2 -10 -14 -11 -14 -4 -4 -3 -1.5 -2 0 -3 1 -10 9.5 -11 8.5 -4 2.5 -4 0.5 -3 -1 -7 -5.5 -9 -4 -6 -1.5 -70 1 0 -18.5 70 -1 6 2 9 4 8 5.5 3 1 3 -1 4 -2 11 -9 9 -8.5 3 -2 2 0 3 1 4 3.5 12 15 9 13 3 3 2 0.5 2 -0.5 3 -3 19 -28 3 -3.5 3 -2 5 1 10 7.5 12 6.5 8 3 8 -0.5 40 -5.5 14 -1.5 10 0.5 25 2.5 11 0.5 0 18 -11 0 -25 -3 -10 0 -13 1 -47 6 -4 0 -5 -2 -13 -7.5 -10 -7 -5 -1 -2 1 -3 3 -19 28 -3 3.5 -2 1z"/><path fill="#aa101a" fill-rule="evenodd" d="M872.5 516.5l-3 -0.5 -3 -2.5 -8.5 -12 -12 -15 -3.5 -3.5 -3 -2 -2 0 -3 1 -11 10.5 -10 8 -4 2 -4 1 -3 -1.5 -7 -5 -9 -4.5 -6 -1.5 -70 1 0 -14.5 69 -1.5 4 1 6 2 7 3.5 7 5 3 1 4 -1 3 -2 11 -9 9 -8.5 2 -1.5 3 -0.5 3 1 4 3.5 12 15 8 12 3 3 3 1.5 2 -0.5 3 -3 20 -29.5 3 -3 2 -1 5 1 10 7.5 12 6.5 8 3 9 -0.5 38 -5.5 15 -1.5 10 0.5 23 2.5 13 0.5 0 15 -12 -0.5 -24 -3 -11 0 -60 7 -4 -0.5 -4.5 -1.5 -12.5 -7 -10 -7.5 -5 -1 -2 1 -3 3 -19 28.5 -3 3 -2 1z"/><path fill="#900e16" fill-rule="evenodd" d="M873.5 513l-3 0 -3 -2 -10 -14 -11 -13.5 -4 -4.5 -3 -1.5 -2 0 -3 1 -10 9.5 -10 8 -4 2.5 -4 1.5 -3 -1 -8 -5.5 -9 -4.5 -6 -1.5 -70 1 0 -8 70 -1 6 1.5 9 4 8 6 3 0.5 3 -0.5 4 -2.5 11 -8.5 9 -9 3 -1.5 2 -0.5 3 1 4 4 12 14.5 9 13 3 3 2 0.5 2 -0.5 3 -2.5 19 -28.5 3 -3.5 3 -2 5 1 10 7.5 12 7 8 2.5 8 -0.5 40 -5.5 14 -1.5 10 0.5 25 2.5 11 0.5 0 8.5 -11 -0.5 -25 -3 -10 0 -14 1 -40 6 -8 0 -8 -2.5 -12 -7 -10 -7 -5 -1 -2 1 -3 3 -19 28.5 -4 4z"/><path fill="#760b12" fill-rule="evenodd" d="M911.5 477.5l-5 -3.5 -4 -1.5 -3 1.5 -3 3 -1 -0.5 4 -4.5 3 -1 3 0.5 3 2 4 3 -1 1zM844.5 477.5l-3 -2.5 -3 -1 -3 0.5 -4 3 -1 -1 4 -3 4 -1.5 5 3 1.5 1.5 -0.5 1zM830.5 478.5l-1 -1 1 -1 1 1 -1 1zM847.5 481l-3 -3.5 1 -0.5 3 3.5 -1 0.5zM895.5 478l-0.5 -0.5 0.5 -1 0.5 1 -0.5 0.5zM941.5 490.5l-6 0 -5 -1.5 -13 -7 -6 -4.5 1 -1 4 3 12 7 8 2.5 8 -0.5 40 -5.5 14 -1 10 0 24 2.5 12 0.5 0 1.5 -6 0 -29 -3 -12 0 -56 7zM829.5 479.5l-1 -1 1 -0.5 1 0.5 -1 1zM893.5 481l-0.5 -0.5 1.5 -2.5 0.5 0.5 -1.5 2.5zM828.5 480.5l-0.5 -1 0.5 -0.5 1 0.5 -1 1zM820.5 487.5l-1 1 -1 -1 9 -7.5 1 0.5 -8 7zM848.5 482l-0.5 -0.5 0.5 -1 0.5 1 -0.5 0.5zM892.5 482.5l-0.5 0 0.5 -1.5 0.5 0.5 -0.5 1zM800.5 493.5l-5 -4 -9 -4 -6 -1.5 -70 1 0 -1.5 70 -1 6 1.5 9 4 6 4.5 -1 1zM849.5 483.5l-1 -1 1 -0.5 0.5 0.5 -0.5 1zM851.5 486l-2 -2.5 1 -0.5 1 1.5 0.5 1 -0.5 0.5zM891.5 484.5l-0.5 -1 0.5 -1 0.5 1 -0.5 1zM890.5 486l-0.5 -0.5 0.5 -1 0.5 0 -0.5 1.5zM852.5 487.5l-1 -1 1 -1 0.5 1 -0.5 1zM889.5 487.5l-1 0 1 -1.5 0.5 0.5 -0.5 1zM856.5 492l-4 -4.5 1 -0.5 3 3.5 0.5 1 -0.5 0.5zM815.5 491.5l-1 1 -1 -1 5 -4 1 1 -4 3zM888.5 489l-0.5 -0.5 0.5 -1 0 1.5zM886.5 492l-1 -0.5 2 -2.5 0.5 0.5 -1.5 2.5zM809.5 495.5l-4 0.5 -5 -2.5 1 -1 3 2 2 0 3 -0.5 4 -2.5 1 1 -5 3zM857.5 493.5l-0.5 -1 0.5 -1 0.5 1 -0.5 1zM885.5 493.5l-0.5 -1 0.5 -1 0.5 1 -0.5 1zM858.5 495l-1 -1.5 1 -0.5 0.5 1.5 -0.5 0.5zM883.5 496l-0.5 -0.5 1.5 -2.5 0.5 0.5 -1.5 2.5zM859.5 496l-0.5 -0.5 0.5 -1 0.5 1 -0.5 0.5zM860.5 498l-0.5 -1.5 0.5 -0.5 0.5 1.5 -0.5 0.5zM881.5 499l-0.5 -0.5 1.5 -2.5 0.5 0.5 -1.5 2.5zM861.5 499.5l-0.5 -1 0.5 -1 0.5 1 -0.5 1zM862.5 501l-1 -1.5 1 -0.5 0.5 1.5 -0.5 0.5zM880.5 500.5l-0.5 0 0.5 -1.5 0.5 0.5 -0.5 1zM863.5 502.5l-0.5 -1 0.5 -1 0.5 1 -0.5 1zM879.5 502.5l-0.5 -1 0.5 -1 0.5 1 -0.5 1zM864.5 504l-1 -1.5 1 -0.5 1 1.5 -1 0.5zM878.5 504l-1 -0.5 1 -1.5 0.5 0.5 -0.5 1.5zM865.5 505l-0.5 -0.5 0.5 -1 0.5 1 -0.5 0.5zM877.5 505l-0.5 -0.5 0.5 -1 0.5 1 -0.5 0.5zM866.5 506.5l-1 -1 1 -1 0.5 1 -0.5 1zM872.5 509.5l-2 0 -3 -2 1 -1 2 1.5 2 0 4 -3 0.5 0.5 -2.5 3 -2 1zM867.5 507.5l-1 -1 1 -0.5 0.5 0.5 -0.5 1z"/></g></g>
<defs><clipPath id="hiia"><rect x="712.9" y="98.7" width="328.40" height="195.20"/></clipPath><filter id="fhiia" x="-2%" y="-2%" width="104%" height="104%"><feGaussianBlur stdDeviation="0.7"/></filter></defs><g clip-path="url(#hiia)"><g filter="url(#fhiia)"><path fill="#dbd8ee" fill-rule="evenodd" d="M882.5 297.5l-12 0.5 -8 -1 -1 -3 -2 -9.5 -3 -5.5 -3.5 -10 -1.5 0 -2 -2.5 -2 -0.5 -6 2 -2 -2.5 -2 2.5 -2 -2 -1 1 -1 -0.5 -2 -2 -3 2 -2 -2 -2 0.5 -4 2 -1 0 -3 4 -3 2 -1 -1.5 -2 2 -3 -0.5 -4 -2 -3 -6.5 -1 0 -1 -2 -2 0 -3 -5.5 -2 -1 -2 3.5 -3 -4 -2 3 -2 -3 -2 2 -2 -3.5 -1 1 -2 0 -1 1 -1 0 -1 -2.5 -1 0 -2 0.5 -1 2 -1 0.5 -7 -5.5 -2 3 -2 0.5 -1 -0.5 -2 1 -3 -5 -2 3.5 -2 2 -2 -3.5 -1 0.5 -1 3 -1 0.5 -1 -1.5 -1 0.5 -3 -5 -2 3 -5 0 -2 0.5 -2 2.5 -3 -4.5 -2 4.5 -1 -0.5 -2 -4 -2 0.5 -1 -1 -4 4.5 -1 -11.5 0 -42 0 -37 1 -5 2 -1 2 1.5 5 -1.5 5 0.5 2 -1 2 0.5 3 -0.5 2 1.5 2 -3.5 2 1.5 2 -1 2 1 1 -0.5 3 0 2 -1 3 2.5 3 -1.5 3 1.5 2 -0.5 4 0.5 2 -2 2 -0.5 2 3.5 3 -0.5 6 2 5 3 3 -2 3 2.5 4 0.5 4 -0.5 2 -2 2 1 2 -1 1 1 2 -2 5 -1.5 2 -2.5 1 -0.5 4 -9.5 6 -8 2 -1.5 6 -11 2 -0.5 4 -3 2 1.5 2 -1 5 2 6.5 7.5 2.5 4 3 11.5 5 13.5 2 4 3 2.5 2 4 1 0.5 3 -1.5 5 -7.5 3 -7.5 2 -2.5 2 -6 4 -6.5 2 -2 2 -4.5 5 -4 2 -3 2 1 3 -1 2 2 4 -1.5 3 2.5 2 -1.5 2 2 2 0.5 4 5 9 18 4 3.5 1 0 2 -2.5 3 2 7 -0.5 2 1 4 -0.5 2 1.5 2 -2 3 0 2 1.5 2 -1 4 0.5 1 -1 2 1 3 -2.5 7 1 2 -0.5 2 0.5 2 -1.5 5 0 2 1.5 2 -1 2 3.5 1 0.5 2 -1.5 4 1.5 3 2.5 3 -0.5 6 3 3 -1 6 1 2 1.5 4 -0.5 3 1 4 -2 1 0.5 1 4.5 0 34 0 36 -1 10 -1 -1 -2 0 -1 -2 -1 -0.5 -2 4.5 -1 0.5 -1 -1 -3 2 -2 -1.5 -3 2 -2 -2 -2 0 -1 1 -2 -1 -1 0.5 -1 2.5 -2 -0.5 -1 1.5 -1 -0.5 -1 -2.5 -1 0 -2 2.5 -2 -2 -2 -0.5 -2 2 -2 -2.5 -3 2.5 -3 -1 -2 -1.5 -2 2 -2 4 -1 -2.5 -3 -1 -1 0 -2 5 -2 -1.5 -2 1 -2 -2 -2 3 -5 -2 -4 3.5 -1 -1 -2 0.5 -3 3.5 -3 -3 -3 5 -1 0 -2 5.5 -2 0.5 -1 2 -2 -1 -1 2 -3 -1.5 -2 4 -2 -2 -3 1 -3 -2.5 -2 1 -4 -3 -2 -0.5 -5 -3.5 -2.5 -4 -0.5 0 -2 2.5 -1.5 -1.5 -3.5 -0.5 -2 -1.5 -3 1.5 -4 -1 -5.5 6.5 -1.5 6.5 -1 1.5 -1 -1 -1 1 -3 10.5 -3 4.5 -1 3 -1 0.5z"/><path fill="#b2add9" fill-rule="evenodd" d="M877.5 297.5l-7 0.5 -4 -1 -1 -5 -4 -6 -2 -9 -6 -12 -2 1.5 -2 -2.5 -2 -0.5 -6 1.5 -2 -2.5 -2 3 -2 -2 -1 1 -1 -0.5 -2 -2 -3 2 -2 -2 -3 1 -4 -1.5 -6 4.5 -1 -0.5 -2 3 -2 -1.5 -1 0.5 -4 -1.5 -3 -5.5 -2 -2.5 -2 0 -3 -5 -2 -1.5 -2 3 -2.5 -3.5 -0.5 0 -2 2.5 -2 -2.5 -2 1.5 -2 -3 -4 2 -1 0 -1 -2.5 -3 0 -2 2.5 -7 -5 -2 3 -2 0.5 -2 -0.5 -1 0.5 -3 -4 -2 4 -2 1 -2 -3 -3 3.5 -2 -1 -3 -4 -2 2.5 -3 0.5 -4 0 -2 2 -3 -4 -2 4 -3 -4 -2 1 -1 -1 -4 4 -1 -12.5 0 -37 0 -33 1 -7.5 2 -0.5 2 1.5 2 -1 3 -1 5 1 2 -1.5 2 1 3 -0.5 2 1 2 -3 2 1 2 -0.5 2 1 4 -1 2 -1 3 2.5 3 -1.5 3 2 2 -1 4 1 2 -2 2 -0.5 2 3 3 -0.5 2 1.5 5 0.5 4 2.5 3 -2 3 3 4 0.5 4 0 2 -2 5 1 2 -1.5 5 -1.5 3 -3 4 -10 6 -7.5 2 -1.5 6 -11.5 2 -0.5 4 -2.5 2 1 2 -1 5 2.5 7 8 2 3.5 3 11 7 18 3 2.5 1.5 3 1.5 1.5 2 -0.5 3 -4 14 -27 4 -6.5 5 -4.5 2 -3 2 0.5 3 -0.5 2 2 4 -1 3 2.5 2 -1.5 2 2 2 1 4 5 6 13 3 4.5 4 3 1 0 2 -2 3 1.5 7 -0.5 2 1 4 -0.5 2 1.5 2 -2 3 0 2 1 2 -1 4 0.5 1 -1 2 1 3 -2.5 7 1.5 4 -0.5 2 -1 5 0 2 1 2 -0.5 2 3 1 0 2 -1 5 2 2 2 3 -0.5 6 3 3 -1 6 1 2 1.5 4 0 3 0.5 4 -1.5 1 0 0.5 6 0.5 31 -0.5 32 -0.5 10.5 -1 -1 -1 0.5 -1 -0.5 -1 -2 -1 0 -3 4 -1 -0.5 -3 1.5 -2 -1.5 -3 1 -2 -1.5 -2 0 -1 1 -2 -0.5 -2 3 -2 -0.5 -1 1 -1 0 -1 -2.5 -1 -0.5 -2 2.5 -3 -3 -1 0 -2 2 -2 -2 -3 2.5 -5 -3 -2 2 -2 4 -1 -2.5 -1 -0.5 -1 0.5 -2 -1 -2 5 -2 -1.5 -2 0 -2 -1.5 -2 3.5 -1 0 -1 -1 -3 -0.5 -4 2.5 -1 -1 -1 0 -4 3.5 -3 -2 -4 4.5 -2 5 -2 0 -1 2.5 -2 -1 -1 2 -2 -1.5 -1 0 -2 4.5 -3 -2 -2 1 -3 -3 -1 0 -1 1.5 -4 -5 -2 0 -2 -1.5 -2 0.5 -4 -2.5 -2 2.5 -1 -1 -2 0 -4 -2 -3 1.5 -4 -1 -7 7.5 -2 0 -4 10.5 -3 5 -2 6 -3 2.5 -2 4z"/><path fill="#7a74ba" fill-rule="evenodd" d="M876.5 297.5l-6 0 -1.5 -0.5 -1.5 -1.5 -2 -7.5 -3.5 -5 -2.5 -10 -6 -11 -2 2.5 -2 -3 -2 -0.5 -2 1.5 -1 -0.5 -3 0.5 -2 -2.5 -2 3 -2 -2 -1 1 -3 -2 -3 1.5 -2 -1.5 -3 0.5 -4 -1 -4 3 -2 0 -1 -1 -2 3 -7 -3.5 -3 -5 -1 -0.5 -1 -1.5 -2 -0.5 -4 -5.5 -1 -0.5 -2 2.5 -3 -4 -2 3.5 -2 -3 -2 1.5 -2 -3 -3 -0.5 -1 2 -1 0 -2 -2.5 -2 0 -2 2.5 -3 -2.5 -2 0 -2 -2 -2 2.5 -5 1 -3 -4 -2 4.5 -2 0.5 -2 -2.5 -3 3.5 -5 -4.5 -2 2 -7 0 -2 2 -3 -3.5 -2 3.5 -3 -3 -2 0 -1 -1 -2 2.5 -1 -0.5 -1 2 -1 -45 0 -31 1 -7.5 2 -1 2 1.5 2 -1.5 4 -0.5 4 1 2 -1.5 2 1 3 -0.5 2 0.5 2 -2.5 2 1 2 -0.5 2 1 6 -2 3 2.5 3 -1.5 3 1.5 2 -0.5 4 0.5 2 -2 2 -0.5 2 3 3 0 2 1 5 1 4 2.5 3 -2 3 2.5 4 1 4 0 2 -2 5 1 3 -1.5 4 -1 3 -3.5 4.5 -10.5 5.5 -6.5 2 -1.5 6 -11.5 2 -0.5 4 -3 2 1 1 -1 6 3 6 7 3 5 3 10.5 6 16 1 2 3 2.5 2 4 1 0 2 0 3 -4 3 -5 3 -7 2 -2.5 3 -7.5 7 -11.5 5 -4.5 2 -3.5 2 1 3 -1 2 2 4 -1 3 3 2 -1.5 2 2.5 2 0.5 3.5 4 6.5 14 6 7.5 2 -0.5 2 -2 3 2 7 -1 2 1 4 -0.5 2 1.5 2 -2 3 0 2 1 2 -1.5 4 0.5 1 -0.5 2 0.5 3 -2 7 1 11 -1.5 2 1.5 2 -0.5 2 2.5 1 0.5 2 -1.5 5 2 2 2 3 -0.5 6 3 3 -1 8 2.5 7 1 4 -2 1 0.5 0.5 7.5 0.5 28 -1 38.5 -1 -1 -2 0.5 -1 -2 -1 -0.5 -3 4.5 -1 -1 -3 1.5 -2 -1.5 -3 1.5 -2 -1.5 -3 0.5 -2 -0.5 -1 0 -1 2.5 -2 -1 -1 1.5 -1 0 -1 -2.5 -1 0 -2 1.5 -2 -2 -2 -0.5 -2 2 -2 -1.5 -3 2 -5 -3 -4 5 -1 -2 -2 1 -2 -1.5 -2 4 -2 -1.5 -2 1 -2 -1 -2 2.5 -1 0 -1 -1.5 -3 -1 -4 3.5 -1 -1 -1 0.5 -4 4 -3 -2.5 -1 0.5 -1.5 3 -1.5 1 -2 4.5 -3 2.5 -2 -0.5 -1 1.5 -2 -1.5 -1 0.5 -2 4 -2 -2.5 -3 1.5 -2 -2 -2 -0.5 -1 0.5 -4 -3 -2 0.5 -2 -1 -2 0.5 -4 -2.5 -2 2.5 -1 -1 -2 0 -4 -2 -4 1.5 -3 -1 -7 6.5 -2 -0.5 -3.5 9.5 -3.5 6.5 -2 5.5 -3 2.5 -3 8z"/><path fill="#4a4c9f" fill-rule="evenodd" d="M875.5 297l-5.5 0 -2.5 -4 -2 -7 -3.5 -5 -3.5 -13 -5 -8 -2 2.5 -2 -2.5 -2 -1 -2 1.5 -1 -0.5 -3 0.5 -2 -2.5 -2 2.5 -2 -1.5 -1 1 -1 -0.5 -2 -2 -3 2 -2 -1.5 -3 1 -4 -1.5 -4 3 -2 0 -1 -1 -3 3 -6 -3.5 -3 -5 -2 -2 -2 -0.5 -3 -5 -2 -1.5 -1 2.5 -1 0 -3 -3.5 -2 2.5 -2 -2.5 -2 1 -2 -2.5 -3 -0.5 -2 2.5 -2 -3 -2 0.5 -2 2 -3 -2 -2 0 -2 -2 -2 2.5 -5 1 -1 -0.5 -2 -3.5 -2 4 -2 1 -2 -3 -2 3.5 -1 0 -5 -4 -2 2 -7 0 -2 1.5 -3 -3 -2 3.5 -3 -3.5 -1 0.5 -2 -1 -4 3.5 -1 -43.5 0 -27 1 -9.5 2 -1 2 2 2 -2 2 0.5 2 -1 4 1 2 -1 2 0.5 3 -0.5 2 0.5 2 -2.5 2 1 2 -0.5 2 1 4 -0.5 2 -1.5 3 2.5 3 -1.5 3 1.5 2 -0.5 4 0.5 3 -2.5 1 0 2 3 3 0 2 1 1 -0.5 4 1.5 4 2 3 -1.5 3 2.5 4 1 4 0 2 -1.5 5 1 2 -1.5 5 -1 3 -3.5 4 -9.5 6 -8 2 -1 6 -11.5 2 0 4 -3.5 2 1 1 -1 6 2.5 7 9 2 3.5 3 10.5 6 16 1 2 3 2.5 2 4 1 0 2 0 3 -3.5 6 -12.5 2 -2.5 3 -8 7 -11.5 5 -4.5 2 -3 2 0.5 3 -0.5 2 2 4 -1 3 2.5 2 -1 2 2.5 2 1 4 5 6 12.5 6 7.5 2 -0.5 2 -2 3 2 7 -1.5 2 1 2 -0.5 2 0 2 1.5 2 -2 5 1 2 -1.5 4 0.5 1 -0.5 2 0.5 3 -2 1 0.5 10 0.5 2 -1 5 -0.5 2 1.5 2 -1 2 3 3 -1 5 2 2 2 3 -0.5 6 3 3 -1 4 1.5 2 0 2 1 7 1 4 -2 1 0.5 0.5 8.5 0.5 26 -1 36.5 -1 -1 -2 0.5 -1 -2 -1 0 -2 3.5 -1 0.5 -1 -1 -3 1.5 -2 -1.5 -3 2 -2 -2 -3 0.5 -2 -1 -1 0.5 -1 2 -2 -0.5 -2 1 -2 -2.5 -2 1.5 -2 -2 -2 0 -2 2 -2 -2 -3 2 -5 -3 -4 5.5 -1 -1.5 -4 -1 -2 3.5 -2 -1 -2 0.5 -1 -1.5 -1 0.5 -2 2.5 -1 0 -1 -1.5 -3 -0.5 -4 3 -1 -1 -1 0.5 -4 4.5 -3 -3 -1 0.5 -1.5 2.5 -1.5 1.5 -2 4.5 -3 3.5 -2 -1.5 -1 1.5 -2 -1 -1 0 -2 4 -2 -2 -3 1 -3 -2 -2 0.5 -4 -3 -6 0 -4 -2.5 -2 2.5 -1 -1 -2 0 -3 -2 -5 1.5 -3 -1 -7 6 -2 -1 -4 12 -2 2.5 -3.5 8 -2.5 2 -3 9 -1 1z"/><path fill="#2e3993" fill-rule="evenodd" d="M871.5 297l-1 0 -1 -4 -2 -3 -2.5 -7 -2.5 -3 -3 -12.5 -6 -9.5 -2 2.5 -2 -2.5 -2 -1 -2 1.5 -1 -2 -1 1.5 -2 0.5 -2 -2.5 -2 2.5 -2 -1.5 -1 1 -3 -2.5 -3 1.5 -2 -1 -3 1.5 -4 -1.5 -4 2.5 -2 0 -1 -1 -3 3 -6 -3.5 -3 -5 -2 -2 -2 0 -3 -5 -2 -2 -2 2 -3 -3.5 -2 3 -2 -2.5 -2 0.5 -2 -2 -2 -0.5 -1 0 -2 2.5 -2 -3 -2 0.5 -2 1.5 -2.5 -1.5 -2.5 0 -2 -1.5 -2 1.5 -5 1.5 -1 -0.5 -2 -3.5 -3 5 -1 0.5 -2 -3 -2 3 -1 0 -5 -4 -2 2.5 -7 0 -2 1 -3 -3 -2 3.5 -1 0 -2 -3.5 -1 0.5 -2 -0.5 -4 3 -1 -41.5 1 -35.5 2 -1 2 2 2 -2 2 0.5 2 -1 4 1 2 -1 7 0.5 2 -2.5 2 1 2 -0.5 2 1 4 -0.5 2 -1.5 3 2.5 3 -1.5 3 1.5 2 -0.5 4 0.5 3 -2.5 1 0 2 3 3 -0.5 2 1.5 1 -0.5 5 1.5 3 2 3 -2 3 2.5 1 0 3 1.5 4 0 2 -1.5 5 1 2 -1 5 -1.5 3 -3.5 4 -9 6 -8 2 -1.5 6 -11 2 -0.5 4 -3.5 2 1.5 1 -1.5 6 2.5 4 6.5 3 3 2 3.5 3 10.5 6 16 1 1.5 3 2.5 2 4.5 3 -0.5 3 -3 6 -12.5 2 -2.5 3 -8 7.5 -12.5 4.5 -4 2 -3 2 0.5 3 -0.5 2 2 4 -0.5 3 2.5 2 -1 2 2.5 2 1 4 5 6 12.5 6 7 2 0 2 -2.5 3 2 7 -1 2 0.5 2 -0.5 2 0 2 1.5 2 -2 5 0.5 2 -1 4 0.5 1 -1 2 1 2 -2 2 0.5 10 0.5 2 -1.5 5 0 2 1.5 2 -1 2 2.5 3 -0.5 5 1.5 2 2 3 0 6 3 3 -1 4 1.5 2 -0.5 5 2 4 0 4 -1.5 1 0.5 1 33.5 -1 35 -1 -1 -2 0 -1 -1.5 -1 -0.5 -2 4 -1 0 -1 -0.5 -3 1.5 -2 -2 -1 1.5 -2 0.5 -2 -2 -3 0.5 -2 -0.5 -2 1.5 -2 -0.5 -2 1.5 -1 -2 -1 -0.5 -2 1 -2 -1.5 -2 0 -2 1.5 -1 0 -1 -2.5 -2 3 -1 0 -5 -3 -4 5.5 -1 -1.5 -2 0 -2 -1.5 -2 4 -5 -2.5 -2 1 -1 2 -2 -1 -3 -0.5 -2 1 -2 2 -1 -1 -1 0 -4 4.5 -3 -2.5 -1 0.5 -2 3.5 -1 0 -2 5 -3 3 -2 -1 -1 1.5 -2 -1.5 -1 0 -2 3.5 -2 -1 -2 0.5 -4 -1.5 -2 0 -5 -4 -1 1.5 -4 0 -4 -2.5 -2 2 -3 -0.5 -3 -2 -4 1.5 -3 -1.5 -2 0.5 -2 3 -4 3 -2 -1.5 -3 7 -1 5 -2 2 -3 8 -4 4 -2 7.5 -2 2 -3 1.5z"/><path fill="#283c97" fill-rule="evenodd" d="M871.5 293l-1 0 -1 -4.5 -2 -3 -2 -5.5 -2.5 -3 -2 -6 -1.5 -8.5 -5 -8.5 -1 0 -1 2 -5 -3 -3 -1 -2 3 -2 -2 -1 -2 -2 3 -2 -1 -1 0.5 -3 -2 -5 1 -3 1.5 -3 -1.5 -3 1 -2 1.5 -2 0 -1 -1 -3 3 -2 0 -2 -2 -2 -0.5 -3 -5.5 -2 -2 -2 0 -5 -7 -2 2 -3 -3.5 -2 2.5 -2 -2.5 -2 1 -2 -3 -2 0 -2 2 -1 0 -1 -2 -1 -0.5 -4 2.5 -7 -3 -3.5 2.5 -3.5 0.5 -1 -0.5 -2 -3 -2 3 -2 0.5 -2 -1.5 -2 3 -6 -3 -5 1.5 -4 0 -2 1 -3 -3 -2 3.5 -2 -3 -1 -0.5 -2 1.5 -1 -0.5 -2 1 -1 0 -1 1 -1 -37.5 1 -35 2 -1 2 1.5 2 -1.5 2 0.5 2 -1 4 1 2 -1 7 0.5 2 -2 2 0.5 2 -0.5 2 1 4 -0.5 2 -1.5 3 2.5 3 -1.5 3 1.5 2 -1 4 1 3 -2.5 3 2.5 3 0 2 1 1 -0.5 5 1.5 3 2 3 -1.5 2 1.5 5 2 4 0.5 2 -1.5 5 1.5 2 -1.5 5 -1.5 3 -3 5 -10.5 5 -6.5 2 -1.5 6 -11 2 -0.5 4 -3.5 2 1 2 -0.5 5 2 4 6.5 2 1.5 3 5.5 8 23.5 2 4 2.5 2 2.5 5 3 -0.5 3 -3.5 8 -14.5 6 -13.5 6 -9 3 -2 2 -3.5 1 0 1 0.5 3 -0.5 2 2 4 0 3 2.5 2 -0.5 2 2.5 2 0.5 4 5.5 6 12 6 7 2 -0.5 2 -2 3 2 4 -0.5 3 -1 2 1 2 -1.5 4 2 2 -2 5 0.5 2 -1 7 0 2 -2 2 1 4 -0.5 6 0.5 2 -1 5 0 2 1.5 2 -1 2 2.5 3 -1 5 2 2 1.5 3 0 6 3 3 -1 11 3 6 0 2 -1 1 0.5 1 32 -1 33 -1 -1.5 -2 0 -1 -1.5 -1 -0.5 -2 4 -7 -1.5 -3 2.5 -2 -1.5 -5 -0.5 -2 1.5 -2 -1 -2 1 -1 -1.5 -1 -0.5 -2 2 -2 -2.5 -2 0 -2 1.5 -2 -2.5 -2 2.5 -1 0.5 -3 -1 -2 -2 -4 5.5 -1 -2 -2 0.5 -2 -1.5 -2 3.5 -6 -2 -2 2 -6 -1 -3 2.5 -1 -0.5 -5 5 -2.5 -2.5 -1.5 0.5 -3 3.5 -2 4.5 -3 3 -2 -1 -1 1.5 -2 -1.5 -3 3 -2 -1 -3 1 -3 -2 -2 0.5 -5 -4.5 -5 2.5 -2 -1 -2 -2 -4 1 -2 -1.5 -1.5 -0.5 -1.5 -1.5 -2 0 -2 2.5 -4 -0.5 -3 5 -3 -2.5 -1 0 -1 1.5 -2.5 6.5 -4.5 9.5 -2 7 -3 0.5 -3 10 -3 1.5 -2 2.5z"/><path fill="#29469f" fill-rule="evenodd" d="M871.5 288.5l-1 0 -5.5 -14.5 -3 -5 -2.5 -10.5 -6 -9 -1 2.5 -2 -0.5 -2 -2.5 -2 1.5 -4 0 -2 -1.5 -1 -3.5 -1 0.5 -1 2.5 -2 -1 -2 1 -2 -1 -4 2 -7 1 -1 -1 -4 2.5 -3 -1 -3 3 -2 0 -4.5 -3 -2.5 -4.5 -4 -2.5 -3 -5 -2 -1.5 -2 1.5 -3 -3.5 -2 1.5 -2 -1.5 -1 2 -1 -0.5 -2 -3 -2 0 -2 1.5 -1 -0.5 -1 -1.5 -3 -0.5 -1 2 -1 0.5 -4 -3 -1 0.5 -2 -1 -4 3.5 -3 0 -3 -3 -2 2.5 -3 0 -1 -0.5 -2 3 -1 0 -5 -3 -5 1.5 -6 1 -3 -3 -2 2 -3 -2 -2 1.5 -1 -0.5 -2 1 -1 -0.5 -1 1 -1 -34.5 1 -34 2 -0.5 2 1.5 2 -1.5 2 0.5 2 -1 4 1 2 -1 6 0.5 1 0 2 -2 2 0.5 2 -0.5 2 1 4 -0.5 2 -1.5 3 2 3 -1 3 1.5 2 -1 4 1 3 -3 3 3 3 -0.5 2 1 1 0 3 0.5 5 2.5 3 -1.5 2 2 2 0 3 2 4 0.5 2 -1.5 5 2 2 -1.5 5 -1.5 2 -3 2 -1.5 3 -7 6 -9 2 -1 6 -11 2 -1 4 -3.5 2 1.5 1 -0.5 2 0 4 2 4 6.5 2 1.5 4 8.5 8 22.5 1 2 2 1.5 3 5.5 3 -0.5 6 -8 8.5 -19.5 8.5 -13 3 -2.5 2 -3 2 0.5 2 -1 1 0 2 2 4 0.5 3 2.5 2 -0.5 4 3 1 2.5 3 3 6 12 2 1.5 1 2 3 3 2 0 2 -2 3 1 3 0 1 0.5 3 -1 2 0.5 2 -1.5 4 1.5 2 -1.5 5 0 2 -0.5 7 0 2 -2 2 1 4 -0.5 6 0.5 2 -1 5 0 2 1 2 -0.5 3 2.5 2 -1 5 1.5 2 2 3 -0.5 6 3 3 -1 11 3.5 6 0 2 -1.5 1 1 0.5 30.5 -0.5 30.5 -5 -3.5 -2 4.5 -1 0 -1 -1 -5 -1 -2 1 -1 1.5 -1 0 -1 -1.5 -5 -1 -2 2 -2 -1.5 -2 1 -2 -1.5 -2 1.5 -2 -2.5 -2 0 -2 1.5 -3 -2 -1 2.5 -1 0 -3 -1 -2 -1.5 -4 4.5 -1 -1.5 -1 -0.5 -1 1 -2 -1.5 -2 2.5 -4 0 -2 -1.5 -2 3 -1 0 -1 -1.5 -4 -1 -2 2.5 -3.5 1 -3.5 4.5 -2 -2.5 -2 0.5 -2 2.5 -1 0.5 -1 2.5 -4 5 -2 -1 -1 1.5 -2 -1.5 -3 4 -2 -2 -3 3 -3 -3.5 -2 0 -2 -2.5 -4 0 -3 -3 -2 -1 -1 0 -1 1.5 -2 -0.5 -1 0.5 -4 -2 -1 1 -2 -2.5 -3 1 -1 1.5 -3 0.5 -1 -1 -2 1 -2 3.5 -2 -0.5 -2 -1.5 -3 10.5 -4 7 -2 7 -2 0.5 -1.5 1.5 -2.5 7.5 -5 5z"/><path fill="#2a50a7" fill-rule="evenodd" d="M871.5 284l-1 0.5 -2 -4 -3 -9 -4.5 -8.5 -1.5 -7.5 -3 -4.5 -2 -4 -1 -1 -2 3.5 -3 -5 -2 0.5 -2 -2.5 -1 2 -1 0 -3 -3.5 -4 0 -2 4 -1 -1 -1 -3 -1 0 -2 3.5 -2 -0.5 -3 2.5 -3 0.5 -1 -0.5 -3 2.5 -4 -0.5 -2 2.5 -1 0.5 -6 -2.5 -3 -5 -4 -3 -3 -4.5 -2 -1.5 -1 1 -1 -0.5 -3 -3 -2 1 -2 -1 -1 2 -3 -3 -3 -0.5 -2 1.5 -1 -1.5 -2 0 -1 -1.5 -2 3 -4 -3 -3 -0.5 -2 2.5 -5 2 -1 -0.5 -2 -3 -2 2.5 -2 0.5 -2 -2 -2 4 -1 -0.5 -1 -1.5 -4 -1.5 -2 1 -4 -1 -1 1.5 -1 0 -1 -0.5 -2 1.5 -3 -3 -2 2 -3 -1.5 -2 1.5 -2 -1.5 -2 0 -1 1.5 -1 -31 1 -32.5 2 -0.5 2 1 2 -1 4 -0.5 3 1 3 -1 3 1 4 -1 2 -1.5 2 1 2 -1 2 1 1 -1 3 0.5 2 -1.5 3 2.5 3 -1.5 3 1.5 3 -1.5 3 1 3 -2.5 3 2.5 3 -0.5 2 1.5 4 0 5 3 2 -2 1 0 2 2 2 0 2 2.5 5 0.5 2 -1.5 5 2.5 2 -2 5 -1 2 -4 2.5 -2 2.5 -6 6 -8.5 2 -1.5 4 -8 3 -4 5 -3.5 2 1.5 3 -0.5 4 2.5 4 6 2 2 4.5 9 1.5 6.5 6 15.5 6 8.5 3 0 6 -8 9.5 -21.5 7.5 -11.5 3 -2 2 -3 2 0 2 -1 5 3 2 0 3 2 2 0 4 3 3 3.5 7 14 2 1 1 2.5 3 3 2 0 2 -2.5 7 1.5 5 -0.5 2 -1.5 4 1 3 -1.5 11 -0.5 2 0.5 2 -2.5 3 1.5 3 -1 6 1 2 -1.5 5 0.5 2 1 2 -1 3 2.5 2 -0.5 5 1 2 2 3 -0.5 5 3 4 -0.5 6 1.5 4 1.5 7 0 2 -1 1 1 0.5 29 -0.5 28.5 -1 -1 -2 -0.5 -2 -2 -2 4 -1 0 -5 -1.5 -2 1 -3 0.5 -1 -1.5 -5 -1.5 -2 2.5 -2 -0.5 -2 0.5 -2 -2 -3 0.5 -3 -2 -3 1.5 -2 -1.5 -2 2 -3 0 -3 -1.5 -3 4 -4 -3 -3 2.5 -5 -3 -3 5.5 -1 0 -1 -2.5 -5 0 -2 3 -4 0 -2 4.5 -1 -2 -3 -1 -1 2.5 -1 1 -1 0 -5 7 -2 0 -1 1.5 -2 -1 -3 3 -3 -1.5 -2 3 -1.5 -3 -3.5 -0.5 -2 -3 -2 -0.5 -2 0.5 -2 -2 -6 -1.5 -2 0.5 -1 -1.5 -1 0 -1.5 1 -3.5 -3.5 -3 3.5 -1.5 0 -1.5 -2 -1 0 -2 3 -4 2.5 -3 -1.5 -3.5 11 -3.5 6 -2 6.5 -3 2.5 -3 8 -3 1.5 -2 2.5z"/><path fill="#2c62b5" fill-rule="evenodd" d="M870.5 281l-9 -19.5 -3 -10.5 -1 -0.5 -4 -6.5 -2 2 -2 -4 -5 -2.5 -1 1 -1 -0.5 -7 -2.5 -2 3 -3 -1 -2 2 -2 -0.5 -3 2.5 -4 0.5 -3 3 -1 0 -3 -1 -2 3.5 -7 -3.5 -5 -7 -2 0 -3 -5 -2 -1 -2 0.5 -3 -3.5 -2 1 -2 -1 -1 1.5 -1 0 -2 -2.5 -3 -0.5 -2 1.5 -1 -1.5 -3 -0.5 -2 1.5 -3 -2 -2 0.5 -2 -1.5 -1 0.5 -1 2 -5 2 -1 0 -2 -3.5 -2 2.5 -2 0.5 -2 -1.5 -2 2.5 -6 -2 -6 0.5 -5 2 -3 -3 -2 2 -1 0 -2 -1.5 -2 1 -2 -0.5 -2 0 -1 1 -1 -30 1 -30 2 -1 2 1.5 2 -1.5 4 0 3 1 3 -1 4 0.5 3 -0.5 2 -1.5 2 1 2 -1.5 2 1.5 1 -1 3 0 2 -1 3 2 4 -1.5 2 1.5 3 -1 3 1 3 -3 3 2.5 3 -0.5 2 1.5 4 0 5 3 2 -2 1 0.5 2 1.5 2 0.5 2 2 5 1 2 -1.5 2 1.5 3 1 3 -2 4 -1 2 -3.5 2 -1.5 9 -15 2 -1.5 4 -9 3 -3 5 -3.5 2 1 3 -0.5 3 3 1 0 4 6 3 3 3 6.5 2 8 6 14.5 6 9.5 3 0 3 -3.5 4 -6.5 9.5 -21.5 6.5 -9.5 4 -3.5 1 -2 2 0 2 -1 1 0 2 2 9 3.5 4 3 3.5 4.5 6 12 6.5 7 2 0 2 -2.5 7 2 5 -1 2 -1.5 4 1 2 -1.5 3 -0.5 5 0 4 -1 2 1 2 -2 2 1 4 -1 6 1 2 -1 5 0 2 1 3 -0.5 2 2.5 2 -0.5 5 0.5 2 2 3 -0.5 5 3 4 -0.5 11 3.5 6 0 2 -1 1 0.5 0.5 28 -0.5 26 -1 -1 -2 0 -2 -2.5 -2 4 -1 0 -5 -1.5 -3 2 -3 -2 -4 -1 -1 0 -2 2 -2 -0.5 -2 0.5 -2 -2 -3 0 -3 -1.5 -3 1.5 -1 -2 -1 0 -2 2.5 -3 0 -2 -2 -4 4.5 -1 -1.5 -3 -1.5 -1 0 -2 2.5 -5 -2 -3 3 -1 0.5 -1 -1.5 -7 2.5 -4 0.5 -2 3 -4 -1.5 -8 10.5 -2 -0.5 -1 2 -2 -1.5 -3 4 -3 -2 -2 0.5 -5 -1.5 -4 -4 -2 1 -2 -1.5 -2 0.5 -4 -2.5 -2 0.5 -1.5 -1.5 -1.5 0.5 -4 -3 -5 0 -7 6.5 -4 0 -4 11.5 -4 6.5 -1 4.5 -3.5 3.5 -2.5 7 -6 4z"/><path fill="#2c79c7" fill-rule="evenodd" d="M870.5 278.5l-9 -19.5 -3 -10 -5 -6.5 -2 2 -2 -4 -5 -3 -3 0.5 -6 -2.5 -2 2.5 -7 1.5 -3 2.5 -4 0.5 -4 3 -3 -1.5 -2 3.5 -7 -3 -5 -7 -2 0 -4 -6 -3 1 -3 -4 -2 0.5 -2 -0.5 -1 1.5 -1 -0.5 -2 -3 -3 0.5 -2 1.5 -2 -2 -1 0 -3 1.5 -2 -1.5 -3 0 -2 -1.5 -1 0 -2 3 -3 0 -1 1 -1 0 -2 -3 -2 2.5 -2 0.5 -2 -2 -2 3 -6 -2 -6 0.5 -2 1 -1 -0.5 -2 1.5 -3 -2.5 -2 1.5 -1 0 -2 -1.5 -2 1 -4 -0.5 -1 0.5 -1 -28 1 -29 2 -0.5 2 1.5 2 -1.5 4 -0.5 3 1 3 -0.5 4 0.5 5 -2 2 1 2 -1.5 2 1.5 1 -1 3 0 2 -1.5 3 2.5 4 -2.5 2 2.5 3 -1.5 3 1 4 -2.5 3 2 2 -0.5 2 1.5 4 0 5 3.5 2 -2.5 1 0.5 2 2 2 0.5 2 2 2 -0.5 3 1.5 2 -2 2 2 3 1 4 -2.5 3 0 2 -4 2 -1.5 6 -10 5 -6.5 5 -10.5 7 -4.5 4 -0.5 5 3.5 4 6.5 2.5 2 1.5 4.5 2 2.5 5 17 5 9.5 4 5.5 3 0 3 -3 4 -7 10 -22 6 -9 4 -3 1 -2.5 4 -1 3 2 3 0 10 7 3 3.5 5.5 11 7.5 8.5 2 0 2 -2.5 7 2 5 -1 2 -2 4 1 2 -1.5 3 -0.5 5 0.5 4 -1 2 1 2 -2 3 0.5 3 -1 2 1 4 0 7 -1 2 1 3 0 2 2 7 0 2 2 3 -0.5 4 3 5 -0.5 6 1.5 4 2 7 0 2 -1 1 0.5 0.5 27 -0.5 25 -1 -1 -2 0 -2 -3 -2 4 -6 -1 -3 1.5 -7 -3 -1 0 -2 2 -2 -1 -2 1 -2 -3 -3 0.5 -3 -1 -3 0.5 -1 -1 -1 0 -2 2.5 -3 -0.5 -2 -2 -4 5 -1 -1.5 -3 -1.5 -1 0 -2 2.5 -5 -2 -3 3 -3 -1 -6 2.5 -4 0.5 -2 3 -4 -1.5 -8 10.5 -2 -0.5 -1 1 -2 -0.5 -3 3.5 -3 -1.5 -7 -1 -2 -1 -2 -3 -2 0.5 -4 -1 -2 -1.5 -4 0 -4 -2.5 -1 0 -2 -2 -5 0 -5 3.5 -2 3 -4 -0.5 -4.5 11.5 -3.5 7 -2 5 -3 3.5 -2 6 -6 4z"/><path fill="#229fe1" fill-rule="evenodd" d="M871.5 276.5l-1 0.5 -2 -5 -2 -3 -2 -6.5 -3 -5 -2 -8 -3 -5.5 -3 -3.5 -2 2.5 -4 -6 -3 -1.5 -3 0.5 -6 -2 -2 2 -4 0.5 -7 4.5 -3 0.5 -4 3 -3 -1.5 -2 3.5 -7 -3.5 -5 -7 -2 0 -4 -6 -3 1 -3 -4.5 -2 1 -2 -1.5 -1 0.5 -3 -1.5 -3 0.5 -2 1.5 -2 -2 -4 1.5 -2 -2 -3 0.5 -2 -1.5 -1 0 -1.5 2.5 -1.5 1 -2 -1 -2 1.5 -2 -3 -4 3 -2 -2.5 -2 3.5 -6 -2 -2 1 -7 0 -2 1.5 -3 -2 -3 1 -2 -1.5 -2 1 -1 -0.5 -2 0.5 -1 -0.5 -1 0 -1 -26 1 -28 2 -0.5 2 1.5 2 -1.5 4 0 4 1 2 -1 4 0.5 5 -1.5 2 1 2 -2 2 1.5 1 -0.5 3 -0.5 2 -1 3 2 4 -2 2 2 3 -1.5 3 1 4 -3 2 2.5 1 0 2 -0.5 2 1.5 4 0 5 3.5 2 -2 1 0 2 2 2 0.5 2 2 2 0 3 1 2 -1.5 2 2 4 0.5 3 -2 3 0 2 -3.5 2 -1.5 1.5 -5 9.5 -12 5 -11 1 -1 2 0.5 1 -2 3 -1.5 4 -0.5 4.5 3.5 4.5 7 2 1 4 8 5 16.5 4 7.5 1 3.5 2 1 2 4.5 2 -1.5 1 0 3 -3 3 -5 8 -18.5 9 -15 4 -2.5 2 -3 3 -0.5 3 1.5 3 0.5 2 2 1 0 1.5 3 2.5 0.5 3 2 5.5 8.5 2.5 5 4 4.5 1 2.5 3 2 2 0 2 -2 7 1.5 3 -1.5 2 0 2 -2 4 1.5 3 -2 2 -0.5 5 0.5 4 -1 2 1 3 -2 2 0.5 3 -1 2 1 5 0.5 6 -2 2 1.5 3 0 2 2 7 0 2 2 3 -0.5 4 3 5 0 5 1 5 2 7 0 2 -0.5 1 0.5 0.5 25.5 -0.5 23.5 -1 -1 -2 0 -2 -2.5 -2 3.5 -7 -1 -2 2 -5 -3 -3 -0.5 -2 2 -2 -1.5 -2 0 -2 -1.5 -3 0 -3 -1 -3 1 -2 -1 -2 2.5 -3 -1 -2 -1.5 -4 5 -4 -3 -1 0 -2 2 -6 -1 -2 2 -3 -0.5 -6 2.5 -3 0 -3 3.5 -4 -1 -3 2.5 -5 7 -5 0.5 -3 3.5 -6 -2 -4 0 -4 -4.5 -2 0.5 -4 -1 -2 -2 -4 0.5 -7 -4.5 -5 -0.5 -5 3.5 -2 3 -4 0.5 -10 23.5 -3 3.5 -2 5.5 -5 3.5z"/><path fill="#27b3e6" fill-rule="evenodd" d="M871.5 275.5l-1 0 -2 -5 -2 -2.5 -2 -7 -3 -5 -2 -7.5 -3 -6 -3 -3 -2 2 -1 -2.5 -3 -3 -3 -2 -4 0 -1 -2 -2 2 -2 -0.5 -6 2 -7 4.5 -3 0.5 -4 3 -3 -2 -2 3 -1 0.5 -2 -2 -4 -1 -5 -7.5 -2 0 -3 -5 -2 -1.5 -1 1.5 -1 -0.5 -3 -3.5 -2 0.5 -2 -1 -1 0.5 -3 -2 -2 0 -3 2.5 -2 -3 -4 1.5 -2.5 -1.5 -2.5 0.5 -2 -1.5 -4 4 -2 -1.5 -2 1.5 -2 -2.5 -4 2.5 -2 -2 -2 3 -1 0.5 -2.5 -0.5 -2.5 -1.5 -5 1.5 -3 -0.5 -3 1 -3 -1.5 -3 1 -2 -2 -5 1.5 -1 -0.5 -1 0.5 -1 -25.5 1 -27 2 -0.5 2 2 3 -2 7 1 2 -1 3 0.5 6 -1.5 2 1 2 -1.5 2 1 2 -1 2 0.5 2 -1.5 3 2 4 -2 2 2 3 -1.5 3 1 4 -3 2.5 2.5 2.5 -0.5 2 1.5 4 0 5 3.5 2 -2 1 0 6 4.5 5 1 2 -1 5 2.5 4 -2 2 1.5 3 -5 2 -1.5 2 -5.5 3 -2.5 6 -8.5 6 -12.5 2 0.5 2 -2.5 2 -1 4 -0.5 4 2.5 5 8 2 1 1 3 3 4.5 6 19.5 2 3 2 5.5 2 1 2 4.5 2 -1.5 2 -0.5 2 -2.5 4 -6.5 2 -6 8.5 -17.5 5.5 -8.5 4 -3 2 -3 3 -0.5 3 2 3 0.5 5 5.5 5 2 12 19.5 4 3 2 0 2 -1.5 7 1 3 -2 2 0 2 -1.5 4 1.5 2 -2 2 -1 6 0.5 4 -1 2 1 2 -2 3 0.5 3 -1 2 1.5 5 0 6 -2 2 1.5 3 0 2 2 7 0 2 2.5 3 -1 4 3 5 0 5 1 4 2 11 0 0.5 24.5 -0.5 22 -3 -0.5 -2 -2.5 -2 3 -3 0.5 -5 -1.5 -3 0.5 -5 -1.5 -1 0 -2 1.5 -6 -3 -3 0.5 -3 -1 -2 0.5 -2 -1 -3 2.5 -3 -1 -2 -1.5 -4 4.5 -3 -1 -1 -1.5 -6 2.5 -3 -1.5 -4 2 -5 -0.5 -2 2.5 -4 0.5 -2 3.5 -5 -1 -7 9 -5 0.5 -3 3.5 -4 -0.5 -2 -1 -4 0 -3.5 -4 -4.5 -0.5 -4 -2.5 -4 0 -6 -5 -2 0.5 -1 -0.5 -3 0 -5 3.5 -3 3.5 -3 0 -6 15 -4 8 -3 4 -2 5.5 -5 4z"/><path fill="#39b6d7" fill-rule="evenodd" d="M870.5 274.5l-1.5 -4.5 -1.5 -1 -1 -2 -1.5 -6 -3 -5 -2.5 -9 -3 -6 -2 -2 -3 1 -4 -5 -6 -1.5 -2 -2.5 -2 2 -8 1.5 -7 4.5 -3 0 -4 3.5 -3 -2 -2 2.5 -1 0.5 -6 -3.5 -5 -6.5 -2 0 -5 -7 -2 1 -3 -3 -5 0 -3 -1.5 -2 -0.5 -3 2 -2 -2 -4 1 -3 -1 -2 0.5 -2 -1.5 -4 3 -2 -0.5 -2 1 -2 -2.5 -4 3 -2 -2 -2 3 -1 0 -2 0 -3 -2 -5 2 -3 -0.5 -3 1 -3 -2 -3 1.5 -2 -2 -2 1 -1 -0.5 -2 1 -1 -1 -1 0.5 -1 -23.5 1 -27.5 2 -0.5 2 2.5 3 -2 7 0.5 2 -1 3 1 4 -0.5 2 -1 2 0.5 2 -1 1 0.5 5 0 2 -1.5 3 2.5 4 -2.5 2 2 3 -1.5 3 1 4 -3 3 2.5 2 -0.5 2 1.5 4 -0.5 5 3.5 2 -1.5 1 0 6 4 4 1 3 -0.5 5 2.5 4 -1.5 2 1 3 -5 2 -1 2.5 -7 2.5 -2 7 -10 5 -10.5 2 1 4 -4 1 1.5 1 0.5 1 -2 1 0 2 2 2 0.5 4 6.5 3 2.5 3.5 7 6 19 2.5 4 2 5 2 1.5 2 4.5 2 -2 2 -0.5 2 -2.5 2 -4 2 -2.5 6 -14.5 10 -17.5 4 -3 2 -3 3 0 3 1.5 3 1 2 1.5 3 4 2 0 3 2 4 5.5 7 13 6 4 3 -2 7 1 7 -3.5 4 1.5 3 -2.5 3 0.5 2 -1 2 0.5 4 -1 2 1 2 -2 3 0.5 3 -1 2 1 5 0 6 -1.5 3 1.5 2 0 2 1.5 6 0 3 2.5 3 -0.5 4 3 5 -0.5 9 3.5 5 -0.5 4 1 2 -1 0.5 24 -0.5 21.5 -3 -0.5 -2 -2.5 -2 3 -3 0 -5 -1 -3 0 -5 -1.5 -1 0 -2 1.5 -2 -1.5 -2 0.5 -2 -1.5 -8 -0.5 -2 -1 -3 2.5 -5 -2.5 -4 4 -5 -2 -1 1 -4 1.5 -3 -1.5 -3 1.5 -5 -0.5 -5 3 -2 0 -2 3.5 -4 -1 -1 0.5 -7 9 -5 0 -3 3.5 -4 -0.5 -2 -1.5 -4 0.5 -3 -3 -2 -0.5 -3 0 -4 -3 -4 0 -6 -5 -6 0 -3 2 -5 5 -3 0 -7 16.5 -3 6 -2.5 2.5 -2.5 6.5 -6 5z"/><path fill="#4bb6bc" fill-rule="evenodd" d="M871.5 272l-1 0.5 -1 -3.5 -1 -2 -1 1 -1 -2.5 -1 -5.5 -5 -9 -1 -5.5 -3 -7.5 -2 -0.5 -2 1.5 -1 0 -4 -5.5 -6 -1 -2 -2.5 -2 2.5 -4 1 -2 -0.5 -9 5 -2 0.5 -1 -1 -4 4 -3 -2 -3 3 -4.5 -2.5 -6.5 -7 -2 -0.5 -5 -6.5 -2 0.5 -3 -2.5 -5 0 -5 -2 -3 2 -2 -2.5 -4 1.5 -2 -1 -3 0 -2 -1 -4 3 -2 -1 -2 1.5 -2 -2.5 -4 2.5 -2 -1.5 -2 3 -1 0 -2 0 -3 -2 -5 1.5 -3 -0.5 -3 1.5 -3 -2 -3 1.5 -2 -2.5 -2 1.5 -5 0 -0.5 -23 0.5 -26.5 2 -0.5 2 2 3 -1.5 7 0.5 2 -1 3 1 4 -0.5 2 -1.5 2 1 2 -1 6 0.5 2 -1.5 3 2 4 -2 2 2 3 -1.5 3 0.5 4 -3 3 3 2 -0.5 2 1.5 4 -1 5 4 2 -2 1 0 2 2 7 3.5 4 -1 5 3 4 -1.5 2 1.5 3 -5 2 -1.5 3 -7.5 3 -2.5 7 -10 4 -9 2 0.5 4 -3.5 1 1.5 1 0 1 -1.5 1 0 2 1.5 1 -0.5 1 1 4 7 6 8 6 19 5 10 2 1.5 2 4.5 2 -1.5 2 -0.5 2.5 -4 1.5 -3 2 -3 6 -13.5 10 -18 6 -6 3 -0.5 3 2.5 4 1 3.5 4.5 2.5 0.5 3 2.5 2 3.5 2 1.5 7 13.5 6 4 3 -2.5 7 1 3 -2 2 0 3 -1.5 3 1.5 3 -2.5 3 0.5 8 -2 2 1 2 -2 3 1 3 -1.5 3 1.5 4 0 6 -1.5 3 1.5 2 -0.5 2 2 2 -0.5 4 0 3 2.5 3 -0.5 4 3 5 0 4 2 5 1 5 -0.5 4 1 2 -0.5 0.5 23 -0.5 21 -3 -1 -2 -2 -2 3 -3 0 -5 -1.5 -3 0.5 -5 -1.5 -3 1.5 -2 -1.5 -2 0 -2 -1.5 -8 0 -2 -1 -3 2.5 -6 -2 -3 3.5 -5 -2.5 -1 1.5 -4 1 -3 -1.5 -3 1.5 -5 0 -5 2.5 -2 0.5 -2 3.5 -4 -1.5 -1 0.5 -7 9 -2 -0.5 -1 1 -2 -0.5 -3 3.5 -10 -2 -5 -3.5 -2 1 -1 0 -4 -3.5 -4 0 -6 -5 -2 0.5 -1 -0.5 -3 0.5 -3 1.5 -5 4.5 -3 0 -10 22.5 -3 3 -2.5 6 -4.5 4z"/><path fill="#61b89b" fill-rule="evenodd" d="M870.5 270l-2 -4.5 -1.5 -0.5 -2 -8 -3.5 -6 -5 -15 -2 -1 -2 3 -1 -0.5 -4 -5.5 -2 0.5 -4 -1 -2 -2.5 -2 2 -2 0 -1 1 -3 0 -9 5 -2 0 -1 -1.5 -3 3 -4 0 -3 3 -3 -1.5 -5 -4 -3 -4 -2 -0.5 -5 -6.5 -2 0.5 -3 -2.5 -5 0 -5 -2 -1 -0.5 -2 2.5 -1 -2.5 -3 0 -2 1.5 -5 -1 -2 -1 -4 3 -2 -0.5 -2 1 -2 -2 -4 2 -2 -1.5 -3 3 -2 0 -3 -1.5 -5 1.5 -3 -1 -3 1.5 -3 -2 -3 1.5 -2 -2 -5 1.5 -1 -1 -1 0.5 -0.5 -22 0.5 -25.5 2 -0.5 2 2.5 3 -2 7 0.5 2 -1 3 1.5 4 -1 2 -1.5 2 1 2 -1 6 0.5 2 -0.5 3 1.5 4 -2 2 2 3 -2 3 0.5 4 -3 3 3.5 4 0.5 4 -1 5 3.5 2 -1.5 1 0 2 2 7 3.5 4 -0.5 5 3 4 -1.5 2 1.5 3.5 -6 1.5 -0.5 3 -7.5 2 -1 8 -11 4 -8.5 6 -4 1 1.5 1 0 1 -1.5 1 0 2 1.5 1 -0.5 1 1 3 5.5 7 9.5 8 24.5 4.5 5 2.5 5 4 -1 2 -3 7.5 -14 2.5 -7 10 -18 3 -2.5 3 -3.5 3 -0.5 3 2.5 4 1 4 5 2 0 3 2.5 2 4 2 1 7 13.5 6 4 3 -1.5 2 1 1 -1 2 1 5 -3 2 0 3 -2 3 1.5 3 -2.5 3 1 5 -2 5 0.5 2 -1.5 3 1 3 -2 4 1.5 9 -1.5 2 1.5 3 -0.5 2 2 2 -0.5 4 0 3 2.5 3 -0.5 5 3.5 4 -0.5 4 2 5 1 3 -0.5 6 1.5 2 -1 0.5 22 -0.5 20 -3 -0.5 -2 -2.5 -2 3 -3 0 -5 -1.5 -3 0.5 -5 -1.5 -3 1.5 -2 -1.5 -2 0 -2 -1.5 -3 1 -3 -1 -2 0.5 -2 -1.5 -3 2.5 -6 -2.5 -3 4 -3 -1 -2 -2 -1 1.5 -4 1.5 -3 -1.5 -4 2 -5 -0.5 -4 3 -2 0 -2 3.5 -4 -1.5 -1 0.5 -7 9 -2 -0.5 -1 1 -2 -0.5 -3 3 -4 0 -3 -2 -3 0 -5 -4 -2 1.5 -1 0 -3 -2.5 -7 -2.5 -4 -3.5 -2 1 -1 -1 -3 0.5 -8 6.5 -2 -2 -1 0.5 -10 23 -3 3 -3 7 -5 3z"/><path fill="#7abd76" fill-rule="evenodd" d="M871.5 267.5l-1 0.5 -1 -3 -2 -2 -2.5 -7 -3.5 -6 -5 -15 -3 -3 0 3 -1 2 -1 -0.5 -4 -5.5 -2 0.5 -2 -0.5 -3 -1.5 -1 -1.5 -2 1.5 -2 0.5 -1 1 -3 -0.5 -8 4.5 -4 -1 -3 3 -4 0.5 -3 3 -3 -1 -8 -8 -2 -1 -5 -7 -2 1 -3 -2.5 -5 -0.5 -5 -1.5 -3 0.5 -1 -1 -3 0 -2 1.5 -5 -1 -2 -1 -2 2 -6 1.5 -2 -2 -4 2 -2 -1 -3 3 -2 0 -3 -2 -5 1.5 -3 -0.5 -3 1 -3 -2 -3 1.5 -2 -2 -5 1.5 -1 -1 -1 0.5 -0.5 -22 0.5 -23.5 2 -0.5 2 2.5 3 -2 7 1 2 -1 3 1 6 -2 2 1 2 -1.5 6 1 2 -1 3 1.5 4 -2 2 2 3 -2 3 0.5 4 -2.5 3 3 4 0.5 4 -1 5 3.5 2 -1.5 1 0 8 5.5 2 0.5 3 -1 5 3.5 4 -1.5 2 1 5 -5.5 3 -8 2 -1 6 -8 6 -11 6 -4.5 1 1 1 0 2 -1 2 2 1 -1 1 1.5 10 14.5 8 24.5 4 4.5 2 4 4 2 2 -2 3 -7 6 -9.5 2 -7 6 -10.5 4 -8 3 -2 3 -3.5 2 1 2 -1 2 2 4 1 4 5 2 0.5 3 2.5 2 3.5 2 1.5 7 13 6 4 3 -1.5 2 1 1 -0.5 2 0.5 5 -3.5 5 -2 3 1.5 3 -2.5 3 1 5 -2 5 1 2 -2 3 1.5 3 -2.5 4 2 1 -1 4 0.5 2 -1.5 4 2 3 -1 2 2 2 -0.5 4 0 3 2.5 3 -0.5 5 3.5 4 -1 4 2.5 5 1 3 -0.5 3 0 2 1 3 -0.5 0.5 21 -0.5 19.5 -3 -1 -2 -2 -2 2.5 -1 0.5 -16 -2.5 -2 1 -2 -2.5 -2 1 -2 -1 -3 0.5 -3 -1 -2 0.5 -2 -1.5 -3 2 -6 -2 -3 4 -1 -1.5 -2 0.5 -2 -2 -2 2 -3 1 -3 -1.5 -4 2 -5 -0.5 -4 3 -2 0 -2 3.5 -4 -1.5 -3 2.5 -5 7 -2 -0.5 -1 1 -2 -1 -3 3.5 -4 -0.5 -3 -2 -3 0 -5 -4 -2 1 -3 -2 -3 0 -2 -1.5 -3 -1 -3 -2.5 -7 0 -3 1.5 -3 3.5 -1 0 -1 -1.5 -3 0.5 -6 13 -4 11.5 -3 2 -3 6.5 -4 2.5z"/><path fill="#94c448" fill-rule="evenodd" d="M872.5 265l-2 1 -3 -4.5 -3 -8.5 -3 -4.5 -4 -13.5 -4 -5 -1 2 0 3 -1 0.5 -4 -7 -2 2 -2 -0.5 -3 -1.5 -1 -1.5 -5 3 -3 -0.5 -5 2.5 -1 -1 -2 2.5 -1 0 -1 -1.5 -1 0.5 -4 3 -4 1 -3 2.5 -3 -0.5 -8 -8 -2 -1 -5 -7 -2 1 -4 -2.5 -10 -2.5 -2 1 -1 -1 -3 0 -2 1.5 -5 -0.5 -2 -1.5 -2 2 -1 -0.5 -2 1.5 -3 0.5 -2 -2 -2 1.5 -4 0 -2 2 -3 0.5 -2 -2 -2 0 -4 2 -3 -1 -3 1 -3 -2 -3 1.5 -2 -1.5 -5 1.5 -2 -1 -0.5 -21 0.5 -22.5 2 -0.5 2 2.5 3 -2 7 1 2 -1 1 0.5 1 1.5 3 -1.5 1 0.5 3 -2 2 1 2 -1 6 0.5 2 -0.5 3 1.5 4 -2 2 2 3 -2.5 3 0.5 4 -2.5 4 3.5 3 0 3 -1.5 5 3.5 4 -1 9.5 6 0.5 2 0.5 -2 2.5 -0.5 5 3.5 3 -1.5 3 1 5 -5.5 3 -7 6 -6.5 1 1 0 -1.5 -0.5 -1 2.5 -4.5 2 -2.5 3.5 -7 3.5 -2 1 0 1 -1 4 -0.5 2 2 1 -0.5 1 1 10 15 8 24 7 9.5 3 1 1 0.5 1.5 -3 1 -3 4.5 -9 3.5 -5 1.5 -6 6.5 -11 3.5 -7.5 4 -3 2 -3 2 1.5 2 -1 4 3 2 0 1 0.5 2.5 4.5 2.5 1 1 2.5 1 -1 1 0.5 2 4.5 1 0 1 1.5 5 7.5 2 4.5 6 4 3 -1.5 2 1 4 -0.5 4 -3 4 -2 4 1.5 3 -3 3 1 4 -1 1 -1 5 1 2 -2 3 1.5 3 -2.5 4 2 2 -1 3 0.5 2 -1.5 3 2 2 0 2 -1 2 2 1 -0.5 5 0 3 2.5 2 0.5 1 -1 5 3.5 4 -1 4 3 4 0.5 3 -0.5 4 0 2 1 3 -0.5 0.5 20 -0.5 18.5 -2 0 -3 -2.5 -2 2.5 -3 0 -5 -2 -3 1 -6 -1.5 -2 0.5 -2 -3 -2 2.5 -2 -1.5 -3 1 -3 -1.5 -2 0.5 -2 -1.5 -2 2 -1 0 -3 -0.5 -3 -2 -3 4 -1 -1.5 -2 1.5 -2 -3 -2 2.5 -4 1 -2 -1 -3 1 -2 -2.5 -8 5.5 -2 0 -2 3 -2 -2 -2 0.5 -3 2.5 -5 7.5 -2 -1 -1 1 -2 -0.5 -3 3 -4 -0.5 -3 -1.5 -3 0 -5 -4.5 -2 1.5 -1 -0.5 -2 -2.5 -3 -0.5 -2 -2 -3 0 -1 -2 -2 0.5 -3 -0.5 -3 0.5 -2 -0.5 -3 2.5 -2 2.5 -2 -2.5 -3 1.5 -6 13 -4 11.5 -3.5 3 -2.5 5.5 -3 1.5z"/><path fill="#bcd128" fill-rule="evenodd" d="M871.5 264.5l-1 0 -3 -5 -2.5 -7.5 -3.5 -5.5 -3.5 -11.5 -2 -2 -2 -4 -0.5 -0.5 -1 0.5 -1 4 -3 -5 -2 -0.5 -1 1.5 -2 -1 1.5 -1 -1.5 -4 -1 0.5 -1 4 -1 0 -1 -2.5 -1 0 -1 2 -2 0 -1 1 -1 -2.5 -2 -0.5 -3 1 -1 3.5 -2 -1 -1 0.5 -1 3 -1 0 -1 -2 -3 3 -6 2 -3 3 -2 0 -3 -3.5 -3 -1.5 -3 -4 -2 -0.5 -4.5 -6.5 -2.5 0.5 -6 -3.5 -5 -0.5 -3 -1.5 -2 0.5 -1 -0.5 -2 0.5 -1 -0.5 -3 1.5 -4 -0.5 -2 -1 -2 2 -1 -1 -1 0.5 -1 1.5 -3 0.5 -2 -2 -2 1 -1 -0.5 -2 1.5 -1 -0.5 -3 2.5 -3 -2.5 -4 0 -3 2.5 -3 -1 -4 1 -0.5 -1.5 -2.5 -1 -2 2 -2 -1.5 -5 1.5 -2 -0.5 0 -42 1 0 2 2.5 7 -2 3 1 3 -0.5 2 2 3 -2 1 1 1 0 1 -2 1 -0.5 1 1 3 -1 6 1 2 -1 3 1 4 -2 2 2.5 3 -3 5 0.5 2 -2 3 3 4 1 3 -2.5 1 0.5 1 1 0 1.5 1 1 6 -1.5 8 5.5 2 3.5 3 -3.5 5 5 3 -2.5 3 1 3 -3.5 2 -1.5 3 -7.5 2 -1 2 -3 2 -1.5 1 1 1 -2 1 -6 3 -3 3 -6.5 3 -2 1 1 2 -2.5 2 0 3 2.5 1 -0.5 1 0.5 9 13.5 4 10 4 14 3.5 6 0.5 3.5 1 0.5 1 -2 2 3 3 1.5 2 -1 1 -1 1 -4.5 5 -10.5 2 -1 2 -7.5 2 -2.5 5 -9 3 -8 6 -5 2 1.5 2.5 -1 1.5 3.5 1 0.5 1 0 2 -1.5 1 0.5 2 4 2 1 2 4 1 -1.5 1 0.5 1 5.5 1 0.5 1 -0.5 1 0.5 2 4 3 3 2 5 7 4 2 -1.5 4 0.5 2.5 -1 3.5 -3 4 -1.5 2 1.5 3 -0.5 2 -2.5 3 0.5 6 -1.5 4 0.5 2 -1.5 3 1.5 1 0 1 -2.5 1 -0.5 3 2 3 -1 3 1 2 -2.5 1 0.5 2 2.5 4 -1 2 2 1 -1 5 0 4 3.5 1 0.5 2 -0.5 4 2.5 4 -1.5 4 3 5 1 2 -1 2 1.5 1 -1.5 3 1 3 -0.5 0 36.5 -3 -0.5 -2 -1.5 -2 1.5 -3 1 -5 -3 -3 1.5 -2 -1.5 -2 0.5 -4 -1 -2 -2.5 -2 2.5 -2 -1.5 -3 1.5 -3 -1.5 -2 0.5 -2 -1.5 -2 1.5 -2 -0.5 -2 0.5 -3 -2 -3 3 -1 -1 -2 2 -2 -3.5 -2 2.5 -4 2 -2 -2 -3 1.5 -2 -3.5 -8 6.5 -2 0 -2 2 -2 -1.5 -3 1 -7 9.5 -1 -0.5 -2 0.5 -2 -0.5 -3 3 -4 -0.5 -2 -1.5 -4 0 -1.5 -1.5 -0.5 -1.5 -3 -1.5 -2 1.5 -1 -0.5 -1.5 -3 -2.5 -0.5 -1 0.5 -3 -2 -3 -4 -1 0 -1 1 -2 -1.5 -1 0 -3 2.5 -2 -2.5 -2 3.5 -1 0.5 -1 -2.5 -2 3.5 -3 -0.5 -1 1.5 -4 10 -2 2.5 -4.5 13 -6.5 8.5 -3 2zM739.5 222.5l0 -1 0.5 0.5 -0.5 0.5z"/><path fill="#e0df19" fill-rule="evenodd" d="M871.5 263.5l-1 0 -1 -1.5 -4 -11 -3 -4.5 -4.5 -12.5 -2 -2 -1.5 -4 -3 -1 -1 -4 -3 3.5 -1 0 -1 -6.5 -2 2 -1.5 0 -0.5 2 -1 0.5 -0.5 -2.5 1 -2 -1.5 -1.5 -2 4.5 -1 0.5 -3 -1.5 -4 0.5 -5 5 -1 2 -1 0.5 -1.5 -2 -2.5 4 -6 1 -3 3.5 -2 0 -3 -3.5 -2.5 0 -3.5 -5 -2 -0.5 -4 -6.5 -3.5 0 -5.5 -3.5 -5 -1 -1 -0.5 0 -1 -3 1 -3 -1 -2 0 -1.5 0 -0.5 2 -1 0 -6 -1.5 -2 2 -1 -1 -2 2.5 -3 0.5 -2 -2 -2 0.5 -1 -0.5 -2 1.5 -1 -0.5 -2 2 -1 0.5 -3 -2.5 -2 0.5 -2 -0.5 -3 3 -2 -1 -3 0 -1 -1 -4 -1 -2 2.5 -2 -1.5 -7 1.5 0 -40 1 0 2 2.5 6 -2 4 1.5 3 -0.5 2 2 3 -2 1 1 3 -2.5 1 1 3 -2 1 1.5 3 -1 2 1.5 2 -2 3 1 4 -1.5 2 2.5 3 -3 2 2 2 -2 1 0.5 1 -0.5 1 -2 1 0.5 1 2.5 3 -0.5 2 2 3 -2.5 2 3.5 3 0 3 -1.5 2 1 5 4.5 1 -0.5 1 1 2 3.5 3 -4 4 5.5 2 2 1 -0.5 1 -3.5 1 0 1 2 1 0 3 -5 2 -1 3 -7.5 1 0.5 4 -5.5 2 -0.5 1 -1.5 1 -5.5 1.5 -3 3.5 -4 2 -0.5 1.5 -3.5 1.5 0.5 3 -2.5 6 3 8 12 5 11 3.5 12 4.5 11 1 0.5 1 -1 2 2.5 3 0.5 3 -1.5 6 -14.5 1 -1 1 0.5 2.5 -9 4.5 -6.5 4 -9 1 -0.5 0 -3 5 -4.5 2 1.5 3 -1.5 2 4 2 0.5 2 -1.5 1 1 4 4.5 1 3 4 6 2 0.5 3.5 4.5 1.5 4 1 -0.5 2 4.5 4 0.5 3 3 3 -3.5 3 1.5 1 -1.5 4 0.5 1 -2.5 4 -2 2 1.5 3 -0.5 2 -3 4 1 4 -1.5 5 0 2 -1 4 1.5 1 -2.5 1 -0.5 1 1 4 2.5 1 -0.5 -1.5 -1 0.5 -0.5 4 0.5 2 -2.5 4 3 1 0.5 2 -2 1 2 1 0.5 2 -1 4 -0.5 4.5 4 2.5 -0.5 4 2.5 4 -1 3 2 6 2 2 -1 2 1.5 2 -2 2 1 3 -1 0 35 -1 -1 -2 1 -2 -2 -2 1.5 -3 0.5 -5 -2.5 -3 1.5 -1 -1.5 -5 0 -2 -1 -2 -2 -2 2 -3 -1.5 -2 2 -3 -2 -2 0.5 -2 -1.5 -2 1.5 -2 -0.5 -2 0.5 -3 -1 -3 2 -1 -1 -1 0.5 -1 2 -2 -3.5 -6 4.5 -1 -0.5 -1 -2 -1 0 -1 2 -1 -0.5 -1 -2.5 -1 -0.5 -3 1.5 -2 3 -5 1.5 -2 2 -2 -1.5 -3 1 -5 7 -2 1.5 -2 0 -1 1 -2 -2.5 -3 5 -9 -2 -2.5 -3 -3.5 -2 -2 2 -1 -0.5 -1 -3.5 -5 0.5 -3.5 -5.5 -5.5 -2.5 -3 1.5 -3 -3.5 -3 3 -1 -1 -2 0.5 0 5 -1 0.5 -1 -1.5 -1 0.5 -12 25.5 0 3 -9 10.5zM819.5 181l0 -1.5 -1 0 0 2.5 1 -1zM915.5 221l0 -1.5 -1 0 -0.5 1.5 1.5 0zM898.5 222.5l0 -0.5 0 0.5zM851.5 229.5l-0.5 -1.5 0.5 -0.5 0 2z"/><path fill="#f5d711" fill-rule="evenodd" d="M870.5 262.5l-5 -13 -3 -5 -4 -10.5 -1.5 -2 -1.5 -4 -1 -1.5 -2 0 -2 -5.5 -2 -0.5 -3 -4.5 -1 0.5 -1 4.5 -1 0 -1 -4 0.5 -3 -1.5 -1.5 -3 1.5 0.5 2 -0.5 3 -1 0.5 -1 -2.5 -4 4 -3 -0.5 -3 3.5 -5 3.5 -2 2.5 -1 0 -2 1.5 -3 0 -3 3.5 -2 0 -3 -3 -2 1 -2 -4 -2 -2.5 -2 0 -4 -6 -2 0 -3 -1.5 -2 -2 -4 -0.5 -4 -2.5 -1 0 -2 1.5 -3 -2 -4 0.5 -2 1 -5 -0.5 -2 1.5 -2 0 -1 1.5 -3 0.5 -2 -3 -2 2 -1 -0.5 -2 1 -1 -0.5 -2 2.5 -1 0 -3 -2 -4 0 -4 2.5 -9 -2 -2 2 -2 -2 -7 2.5 0 -38.5 1 0.5 2 2.5 6 -2 10 2.5 2 -1.5 1 0.5 3 -2 1 1 3 -1.5 1 1.5 3 -1.5 2 1 2 -1.5 1 1 2 0 2 0 2 -2 2 2 3 -2 2 1.5 2 -2 2 0.5 1 -1.5 2 2 1 0.5 2 -1 2 1.5 3 -1 2 2 3 0.5 4 -1 6 5 1 0 3 3.5 2 -1 1 -2 2 3.5 4 3 3 -1 2 0.5 2 -4 3 -2 2 -5.5 1 -1 1 1.5 1 -0.5 3 -7.5 3 -2.5 1.5 -5.5 2 -4 2.5 -2.5 2 -0.5 4 -4.5 3 -0.5 5 3.5 8 11.5 5 10.5 3.5 12.5 4 9 2.5 1.5 1 2.5 2 -1 2 1 4 -3.5 5 -11.5 2 -1.5 2 -7.5 8 -15 7 -10.5 2 1.5 2 -1 1 0.5 2 3 2 1 2 -0.5 3 2 7 11 5 5.5 2 4.5 1 0 1 3 5 1 2 2.5 1 0.5 2 -2 1 -1.5 1 0 2 2 1 -2.5 1 0 2 1.5 3 -3 3 -1.5 2 1 3 -0.5 2 -3 3 1 12 -3 2 1 2 0 1.5 -0.5 0.5 -1.5 0.5 1.5 4.5 1.5 5 -2 1 -1.5 5 3.5 2 -2 2 2 3.5 -1.5 1.5 1.5 2 0 3 2.5 3 -0.5 4 2.5 6 1.5 3 -0.5 4 2 2 -0.5 2 1 2 -1.5 2 1 3 -1 0 33 -1 -1.5 -2 1 -2 -2 -2 1.5 -3 0.5 -5 -2.5 -3 1.5 -1 -1.5 -7 -1 -2 -1.5 -2 1 -4 -1.5 -1 2 -4 -2.5 -3 -0.5 -1 0 -1 2 -6 -1 -4 2 -2 -1 -1 2 -2 -3 -3 1.5 -3 3 -2 -3 -1 0.5 -1 1 -1 0 -1 -2 -2 0 -2.5 1 -1.5 2.5 -1 0.5 -1 -0.5 -5 3.5 -4 -2 -6 8.5 -5 2.5 -2 -2 -3 4.5 -2 -1 -2 0.5 -4 -1 -6 -6 -2.5 1 -0.5 1.5 -1 -1.5 1 -1 -2 -2 -2 0 -2 2 -1 -0.5 -1 -3.5 0.5 -2 -0.5 -3 -1 -0.5 -2 2.5 -6 -6 -4 -1.5 -3 4 -3 1 -4 5 -9.5 22.5 -4.5 6 0.5 1 -2 4 -6.5 6.5zM904.5 217l0 -1 1 0 -1 1zM847.5 223.5l0 -1.5 0 1.5z"/><path fill="#f9b80e" fill-rule="evenodd" d="M870.5 261l-5 -13 -2.5 -4 -3.5 -10 -2.5 -3 -0.5 -4 -4 -3 -2 -4 -5 -5.5 -1 -0.5 -1 0.5 -3 -3.5 -5 2.5 -4 5 -1 0.5 -1 -1.5 -1 1 -10 10.5 -3 1.5 -3 0 -3 3.5 -3 -0.5 -2 -2 -1 0.5 -1 0 -2 -4 -2 -2.5 -2 0 -4 -6 -2 0.5 -5 -4.5 -4 0 -4 -2.5 -1 0 -2 2 -3 -2 -4 0 -3 1.5 -4 -0.5 -2 1.5 -1 -1 -2 2 -3 0.5 -2 -3 -2 2 -3 0.5 -1 -1.5 -0.5 1 -1.5 2.5 -1 0 -3 -1.5 -4 0 -4 2 -9 -2 -2 2 -2 -2 -7 2.5 0 -36 3 2.5 7 -1.5 3 1 3 -0.5 3 1 2 -1 2 0 1 -1 1 -0.5 1 1 3 -1.5 2 1.5 2 -1 2 0.5 2 -1.5 2 1 3 -0.5 2 -1.5 2 2 3 -2 2 1 2 -1.5 1 0.5 2 -1 3 1.5 2 -1 2 1.5 3 -1 2 2 3 1 3 -1.5 1 0.5 4 2.5 2 2.5 1 0 3 3 2 -0.5 1 -1.5 2 3 4 3 3 -1.5 2 1 3 -5 2 -1 2 -5 1 -1 1 1 1 -0.5 3.5 -8.5 2.5 -1.5 2.5 -7.5 2.5 -4 3 -1 4 -4.5 4 0 3 1.5 8 12 5.5 11 1.5 5.5 6.5 16.5 2 1 1.5 3 1 0.5 2 -0.5 1 0.5 1 -1 6 -8 1 -4.5 3 -3.5 2.5 -8.5 7 -14 7.5 -10 2 1 2 -1.5 1 0.5 2 3 6 2.5 9 13 3.5 3.5 4.5 8.5 5 1.5 2 2 4 -3 3 1 2 -1.5 2 1 6 -5 2 1.5 3 -0.5 2 -3 3 0.5 12 -2.5 2 1 6 -0.5 3 1.5 6 -2.5 5 2 2 -1.5 2 1.5 3 -1 2 1.5 2 -0.5 3 2.5 3 0 3 1.5 7 2 3 0 4 1.5 4 1 2 -1.5 2 1 3 -0.5 0 30.5 -1 -1 -2 1 -2 -2.5 -2 1.5 -3 0.5 -5 -2 -3 1 -2 -1.5 -6 -0.5 -2 -1.5 -2 1 -4 -2 -1 1 -7 -2 -3 2 -2 -1 -3 0 -4 2 -2 -0.5 -1 1 -2 -2.5 -3 1 -3 3 -2 -2 -3 1 -1 -1 -3 -1 -3 3 -3 1 -4 3 -4 -2 -6 8 -2 2 -2 0 -1 1 -2 -2 -3 4 -2 -0.5 -2 0.5 -4 -1 -5.5 -6 -2.5 0.5 -3 -3 -3 -1 -1 3 -1.5 -2.5 1 -2 -1.5 -4 -3 0 -6 -5 -4 -1 -3 4 -4 2 -2 4 -2 1 -9 22 -4.5 6 -1.5 6 -2 1.5 -2 -0.5 -0.5 2 -1.5 2zM843.5 218l-1 -1 0 -1 1 0 0 2z"/><path fill="#f69616" fill-rule="evenodd" d="M870.5 259l-5 -12 -2.5 -4 -3.5 -9 -2.5 -5 -0.5 -3.5 -4 -3 1 -1.5 -1 -1 -4 -2.5 -4 -5 -1 0.5 -2 -2.5 -2 -0.5 -4 2 -2 3 -3 0 -12 13 -3 1.5 -3 0.5 -3 3.5 -3 -0.5 -2 -2.5 -1 1 -1 -0.5 -2 -4 -2 -2 -2 0 -4 -6 -2 0 -5 -4 -4 0 -4 -3 -1 0 -2 2.5 -2 -2 -4 -0.5 -3 1.5 -2 -0.5 -2 0.5 -1 -0.5 -2 1.5 -2 -0.5 -1 1.5 -3 1 -2 -3 -4 2 -2 -1.5 -1.5 3 -1.5 1 -3 -1.5 -4 -0.5 -4 2.5 -8 -2 -3 1.5 -2 -1.5 -7 2 0 -33.5 4 1.5 3 -1 2 0.5 1 -0.5 3 0.5 2 -0.5 4 1.5 5 -2.5 3 0.5 1 -1 3 1 2 -1 2 0.5 2 -1.5 2 1 3 0 2 -1.5 2 1.5 3 -2 2 1.5 2 -2 1 0.5 3 -0.5 2 1 2 -1 2 2 3 -1.5 2 2 3 1 3 -1.5 1 0.5 2 2 2 0.5 6 5.5 2 0 1 -1.5 2 3 4 3 3 -1.5 2 0.5 3 -4.5 2 -1 3 -6 1 1 1 -0.5 1 -3.5 3 -5.5 2 -1.5 5 -11 3 -1.5 4 -4.5 4 0.5 3 1.5 8 12 5.5 11 1 5 7 16 2.5 2 2 3.5 4 -1 6 -8 0.5 -3.5 3.5 -5 2.5 -7 7.5 -16 5 -6 2 -3 2 0.5 2 -1 1 0.5 2 2.5 6 3 9 13 3 2.5 5 9.5 4 1 3 2.5 4 -3 3 1 2 -1.5 2 1 6 -5.5 2 1.5 3 -0.5 2 -3 3 0.5 12 -2.5 2 1 6 -0.5 3 1.5 6 -2 5 1.5 2 -1.5 2 1.5 3 -0.5 2 1 2 -0.5 3 2.5 3 0 3 2 7 1.5 3 0 4 1.5 4 1 2 -1.5 2 1 3 -0.5 0 29.5 -1 -1 -2 0.5 -2 -2 -2 1.5 -3 0.5 -5 -2.5 -3 1.5 -2 -2 -2 0 -1 -1.5 -2 1.5 -1 0 -2 -2 -3 1.5 -3 -2 -1 0.5 -2 0 -5 -2 -3 2.5 -2 -1.5 -3 0 -3 2 -2 -0.5 -2 1 -2 -2.5 -3 1.5 -3 2 -2 -1.5 -3 0.5 -4 -1.5 -2.5 1 -1 2 -4.5 2 -2 2.5 -4 -2.5 -5.5 8 -2.5 2 -2 0 -1 1 -2 -2 -3 4 -2 -0.5 -2 0.5 -4 -1 -6 -6.5 -2 1 -4 -4.5 -2 -1.5 -1 0 -2 -3.5 -6 -2 -3 -3.5 -4.5 -0.5 -2.5 4 -4 2 -2 3.5 -2 0.5 -1.5 6 -3.5 6 -0.5 3 -3.5 8.5 -4.5 5.5 -1.5 6 -2 1.5 -2 -1 -2 3.5zM917.5 223.5l0 -1 0 1z"/><path fill="#f27619" fill-rule="evenodd" d="M870.5 257.5l-13 -28.5 0 -3 -1 -2 -1 0 -1.5 -2 -0.5 -3.5 -1 -1 -1 1 -5 -4.5 -2 -3 -1 1 -2 -2 -2 -0.5 -4 1 -2 3 -3 0 -12 13.5 -6 2 -3 3.5 -1 0 -2 -0.5 -1 -2 -1 -0.5 -1 1 -1 0 -2 -4.5 -2 -2 -2 0.5 -4 -6.5 -2 0 -5 -4 -4 0 -4 -3 -1 0 -2 2.5 -2 -2 -4 -0.5 -3 1.5 -2 -0.5 -2 1 -1 -0.5 -2 1 -2 -0.5 -1 1.5 -3 1 -2 -3 -4 2.5 -2 -2 -2 4 -1 0 -3 -1 -4 -0.5 -4 2 -8 -1.5 -3 1.5 -2 -1.5 -7 2 0 -31 1 -0.5 3 0.5 3 -1 3 1 5 -1 4 1.5 5 -2 3 0.5 1 -1.5 1 0 1 1.5 3 -1 2 0.5 2 -2 2 1 3 0 2 -1.5 2 1.5 3 -2 2 1.5 2 -2 1 1 2 -1 3 1 2 -1 2 2 3 -1.5 2 2 3 1 3 -1.5 1 0.5 2 2 2 0.5 6 5.5 2 0 1 -1 2 2.5 4 3 3 -1 2 0.5 3 -4.5 2 -1 2 -5 1 -1 2 0 2 -5 4 -5.5 5 -11 1 -1 2 0 4 -4.5 4 0.5 4 2 7 11 5 10.5 1.5 5 6.5 16 2.5 2 2.5 5.5 1 -1.5 2 0 1 -1 6 -7.5 1 -4.5 4 -6 1.5 -6 7.5 -15 5 -6 2 -3.5 2 1 2 -1.5 1 0.5 2 2.5 6 3.5 8.5 12.5 3.5 2.5 5 9.5 3 1 1 1.5 3 1.5 4 -3.5 3 1 2 -1.5 2 1 6 -5.5 2 2 1 -1 2 0 2 -3 3 0.5 12 -2.5 2 1 6 -0.5 2 1.5 6 -2 3 0 3 1.5 2 -1.5 2 1.5 3 -0.5 2 1 2 -0.5 3 3 3 -0.5 3 2 7 2 3 -0.5 1 1 7 1.5 2 -1.5 2 1.5 3 -0.5 0 28 -1 -1.5 -2 1 -2 -2.5 -2 2 -3 0 -5 -2 -3 1.5 -1 -2 -3 -0.5 -1 -1.5 -3 2 -2 -2 -3 1 -3 -2 -1 0.5 -2 0 -5 -1.5 -3 2.5 -2 -1.5 -3 0 -4 2 -1 -1 -2 1 -2 -2 -3 1 -3 2 -4 -1.5 -3 0.5 -2 -1.5 -3.5 1 -1 1 0.5 1 -4 2 -2 3 -4 -3 -7 10 -4 1 -2 -2 -3 4 -2 -0.5 -2 0.5 -4 -1 -6 -6.5 -2 1 -4 -5.5 -3 -0.5 -2 -3 -6 -3 -2 -2.5 -2 -1 -4 0.5 -3 4.5 -4 2 -1 2 -1 1 -1 -1 -2 8 -4 5.5 0 3.5 -1 3 -2 4.5 -2 2.5 -1 0.5 -2 3 -1 5.5 -2 1 -2 -1 -2 3.5z"/><path fill="#ee5a1a" fill-rule="evenodd" d="M870.5 255.5l-1 -0.5 -1.5 -5 -10 -21 -0.5 -4 -1 -2 -1 0 -1 -1.5 -1 -4.5 -1 -1 -2 0 -1.5 -2 -2.5 -1 -2 -3 -1 0.5 -4 -2 -3 1 -1 -1 -2 3.5 -2 0 -3 1.5 -1 -1 -1 1.5 0 2 -4 6 -1 0 -2 3 -4 2.5 -3 0.5 -3 4 -1 0 -2 -1 -1 -2 -3 0.5 -1.5 -3.5 -2.5 -2.5 -1 0.5 -1 -0.5 -4 -6 -2 0 -5 -4.5 -4 0.5 -4 -3 -1 0 -2 2.5 -2 -2 -4 -0.5 -4 1.5 -1 -0.5 -2 1 -1 -1 -2 1.5 -1 -1 -2 2 -3 1 -2 -3 -4 2 -2 -1.5 -2 3.5 -1 0.5 -7 -2 -4 2.5 -4 -1 -1 -1 -4 0.5 -2 1 -2 -1.5 -7 2 0 -29.5 4 0.5 3 -1.5 2 1.5 6 -1 4 1.5 5 -2.5 2 1 3 -1 1 1 3 -1.5 2 0.5 2 -1.5 2 1 3 -0.5 2 -1.5 2 1.5 3 -2 2 1.5 2 -2 1 1 2 -1 3 1 2 -1 2 2 3 -1.5 2 2 3 1 3 -1.5 1 0.5 2 2.5 2 0 6 6 3 -1 2 2.5 3 2 6 0.5 3 -5 1 -0.5 1 0 2 -6 1 -0.5 2 0 2 -4.5 4 -6 5 -10.5 1 -1 2 -0.5 4 -4 4 0 4.5 3 10.5 18.5 2 6.5 7 17 2 1.5 3 6 2 -2 1 0.5 1 -1 3 -4.5 3 -3 1.5 -5.5 3.5 -5 2 -6.5 7 -15.5 5.5 -6 1.5 -2.5 2 0.5 2 -1 1 0.5 4 3.5 4 2.5 8 12 3.5 2.5 5.5 10 7 4 4 -3.5 3 0.5 2 -1 1 1 1 0 6 -5.5 2 1.5 1 -1 2 0.5 2 -3 3 0.5 12 -3 2 1.5 6 -1 2 1.5 6 -2 4 0.5 2 1.5 2 -1.5 2 1 3 -0.5 2 1 2 -0.5 3 3 3 -0.5 3 2 7 2 3 -0.5 1 1 7 1 2 -1 2 1.5 2 -0.5 1 0 0 26.5 -1 -1 -2 1 -2 -2.5 -2 1.5 -3 0.5 -5 -2 -3 1 -1 -2 -3 -0.5 -1 -1 -3 1.5 -2 -2 -1 0 -2 1.5 -3 -2.5 -1 1 -2 -0.5 -2 -1 -3 -0.5 -3 2.5 -2 -1.5 -3 0 -4 2 -1 -0.5 -2 0.5 -2 -2 -6 3 -4 -1.5 -2 1 -3 -1.5 -4 1 -4 4 -2 3 -4 -3 -7 9.5 -4 0.5 -1 -1 -1 -0.5 -3 4 -2 -0.5 -2 0.5 -4 -1 -6 -6.5 -2 1 -4 -6.5 -2 -0.5 -1 1 -1.5 -2.5 -4.5 -3.5 -2 -0.5 -2 -2.5 -2 -1 -2 1.5 -2 -0.5 -2 3 -3 2.5 -4 3 -1 0 -1.5 3 -0.5 5 -4.5 6 0 4 -2.5 6 -2 2.5 -1 0 -1 1.5 -2.5 8 -1.5 1 -2 -1.5 -2 3z"/><path fill="#ea3e1c" fill-rule="evenodd" d="M870.5 254l-1 -0.5 -3 -8.5 -3 -5 -4.5 -11 -1.5 -5.5 -1 -2 -1.5 -0.5 -1.5 -5.5 -2 -2 -2 -3.5 -2 -1 0 -1 -1 0 0 1 -1 1 -2 0 -4 -3 -3 1 -1 -4 -1 0.5 -1 6.5 -6 -1 -1 1 -1 4.5 -3 4 -1 -0.5 -2.5 5 -3.5 2.5 -4 1.5 -2 3 -1 0 -2 -0.5 -1 -2 -3 0 -1 -3 -3 -2.5 -1 0.5 -1 -0.5 -3 -5.5 -1 -1 -2 0 -1 -2 -2 -0.5 -2 -1.5 -4 0 -5 -3 -2 2.5 -2 -2 -4 -0.5 -4 1.5 -1 -0.5 -2 1 -2 -0.5 -1 1 -2 0 -1 1 -3 1 -2 -2.5 -4 2 -2 -1.5 -3 3.5 -7 -1.5 -4 2.5 -4 -1 -1 -1 -3 0 -3 1.5 -2 -1.5 -2 1 -4 0 -1 1 0 -28 4 0 3 -1 2 1 6 -1 4 1.5 5 -2 2 0.5 3 -0.5 1 0.5 3 -1 2 0.5 2 -2 1 1 4 -0.5 2 -1 2 1 3 -1.5 2 1 2 -2 6 1 2 -1 2 2 3 -1.5 2 2 3 1 3 -1.5 3 3 2 0 6 6 3 -1 2 2.5 3 2 6 0.5 3 -4.5 2.5 -1.5 2 -6 2.5 0 6 -10 5 -11 1 -1 2 0 4 -4.5 4 0.5 4 2 11 19 1.5 6 7 17 2.5 2.5 3 6 2 -2 2 -0.5 3 -5 3 -3 2 -5.5 2 -2.5 3 -8.5 8 -17 5 -5 1 -2.5 2 0.5 2 -1 9 7 8 12 3 1.5 5.5 10 7.5 4.5 4.5 -3.5 3.5 1 3 -0.5 6 -5.5 2 1.5 1 -1 2 0.5 2 -3 3 0.5 12 -3 2 1.5 6 -0.5 2 1.5 7 -2.5 3 0.5 2 1.5 2 -1.5 2 1 3 -0.5 2 1 2 -0.5 3 3 3 -1 3 2.5 7 2 3 -0.5 1 1 7 1 2 -1 2 1.5 3 0 0 25 -1 -1 -2 1 -2 -3 -2 2 -3 0.5 -3 -1.5 -5 0 -1 -1.5 -3 -0.5 -1 -1 -3 1.5 -2 -2 -1 0 -2 1.5 -3 -2.5 -3 0.5 -2 -1 -3 -0.5 -3 2 -2 -1.5 -3 0.5 -3 1.5 -2 -0.5 -2 1 -2 -2 -3 0.5 -3 2 -4 -1 -2 0.5 -3 -1.5 -4 1.5 -2 1.5 -1.5 0.5 -2.5 4.5 -4 -3 -7 10 -1 0.5 -3 -0.5 -2 -1 -3 3.5 -2 -0.5 -3 0.5 -5 -2 -3 -4.5 -4 -1.5 -2 -4 -5 -4.5 -2 0 -1 -2 -3.5 -1.5 -1.5 -3.5 -1 2 -2 -3 -2 3.5 -1 -0.5 -1 -3.5 1.5 -2 -1.5 -2.5 -2 8 -1 -0.5 -1 -2.5 -1 1.5 0 3.5 2 0 1 0.5 -3 3 -3 0.5 -2.5 2.5 -1.5 4 0 3.5 -4.5 6.5 -1 5 -2 5 -4 4 -2.5 8 -1 0.5 -2 -0.5 -2 2zM845 196l-0.5 0.5 0.5 -0.5zM833.5 203l0 -2.5 -1 1.5 1 1zM847.5 212.5l-1 -1.5 0 -1.5 1.5 0.5 -0.5 2.5z"/><path fill="#e5261e" fill-rule="evenodd" d="M874.5 251.5l-3 -0.5 -1 1 -1 -2 -2 -6 -3.5 -5 -7 -18 -1.5 -0.5 -1 -2 -1 -6 -3 -7.5 -1 1 -3 -4 -0.5 -7 -0.5 -2.5 -1 -0.5 -1 4 0 6 0 1 2 1 -0.5 4 -1.5 1.5 -1.5 -1.5 0 -7 -2.5 -5 -1 -0.5 -0.5 7.5 -0.5 1 -2 -1 -1.5 -5 -1.5 0 -1 5 1.5 2 -0.5 2.5 -2 -1.5 -1 -3 -1.5 5 -2 2 -1 4 -2.5 3 -1 -0.5 -2 6 -4 3 -4 1 -2 3.5 -1 0 -6 -3.5 -4 -4.5 -2 0 -3 -5 -4 -3.5 -2 0 -2 -2 -4 0.5 -5 -3.5 -2 2.5 -2 -1.5 -4 -0.5 -3 1.5 -2 -0.5 -2 1 -2 -1 -1 1.5 -1 -0.5 -2 1.5 -3 0.5 -2 -2 -4 2 -2 -2 -3 3.5 -7 -1 -6 2 -3 -2 -6 1.5 -2 -1.5 -2 1.5 -4 -0.5 -1 1 0 -26.5 4 0 3 -1 1 1 2 0 5 -1 4 1.5 5 -2 2 1 2 -1 3 0.5 3 -1 1 0.5 2 -1 5 0 2 -1.5 3 1 2 -1.5 2 1.5 2 -2 6 1 2 -1 2 1.5 3 -1.5 5 3 3 -1.5 1 0.5 2 2.5 2 0.5 2 2.5 1 0 3 3 3 -0.5 4 3.5 6 1.5 1 -0.5 4 -5 1 0.5 0.5 -1 2.5 -6.5 1 0.5 1.5 -1 6 -10 4.5 -10 1 -1 2 0 4 -4.5 4 0 4 2 9.5 18.5 1.5 1 1.5 6 6.5 16 3 3 3 6.5 2 -2 1 0.5 2 -1.5 2 -4.5 3.5 -4 1.5 -5 2.5 -3 2.5 -7.5 8 -17.5 4.5 -4 1.5 -2.5 4 -1.5 9 7.5 8 11.5 3 2 5 9 4 3.5 4 2 5 -3.5 3 1 3 -0.5 6 -6 2 1.5 1 -0.5 2 0 2 -3 3 1 3 -1.5 6 -0.5 3 -1.5 2 1.5 6 -0.5 2 1.5 7 -2 5 1.5 2 -1.5 2 1.5 3 -1 2 1 2 0 3 2.5 3 -1 3 2.5 7 2 3 0 1 0.5 7 1 2 -1 2 2 3 0 0 23.5 -1 -1 -2 0.5 -2 -2.5 -2 2 -3 0 -3 -1 -5 -0.5 -1 -1 -3 -1 -1 -1 -3 2 -3 -2.5 -2 1.5 -3 -2.5 -3 0.5 -2 -1 -4 0 -2 2 -2 -2 -3 0.5 -3 1.5 -2 -0.5 -2 1 -2 -2 -3 0.5 -3 2 -4 -1 -2 1 -3 -2 -3 1 -3 2 -2 0.5 -2 4.5 -2 -2 -2 -0.5 -8 10 -5 -1.5 -3 3.5 -4 0.5 -2 -1 -1 -1 -3 -0.5 -5 -6.5 -2 0 -1.5 -3.5 -2.5 -2 -2 -4 1 -1 -1 1 -1 -0.5 -1 -3 -1 -0.5 -1 2.5 -2 -0.5 -1.5 -4 -1.5 -1 -1 -5 -1 -0.5 -1 2.5 -1 0 -1 -2.5 -3 0.5 -1 -2.5 -1 -0.5 -0.5 2 1.5 1 -1 5 -2.5 1 -0.5 6 -2 1 -4 6 -0.5 3 0 3 -4.5 6 -1 5 -1.5 5 -1.5 2 -2 0.5 -4 10z"/><path fill="#e2161e" fill-rule="evenodd" d="M874.5 249.5l-2 -0.5 -1 -2.5 -1.5 0.5 -1.5 -5 -4 -3.5 -3.5 -11.5 -2.5 -4 0 -3 -2 -3 -1 1 -0.5 -4 -3.5 -11 -1 -1.5 -1 1 -1 -1.5 -0.5 -4 -2 -5 -1.5 -1.5 -1 0 -2 -3.5 -1.5 0 -2.5 2 -4 6 -2 -1.5 -1 1 -2.5 3.5 -2 10 -2.5 6.5 -1 0.5 -1 -1 -1 0.5 -1 6 -1 1.5 -2 0 -3 2.5 -2 -0.5 -3 5 -4 -2.5 -1 -1.5 -3.5 -3 -3.5 -1 -3 -5.5 -4 -4 -2 1 -4 -3 -2 1 -5 -3.5 -3 1.5 -3 -0.5 -1 -1.5 -1 0 -1.5 2.5 -2.5 0.5 -1 -1 -2 1 -2 -2 -1 2 -2 0 -1 1.5 -3 1 -1 -2 -1 0 -4 1 -2 -1.5 -3.5 3.5 -1.5 0.5 -5 -1.5 -5 3 -1 0 -3 -3.5 -5 2 -3 -1 -2 1 -4 0 -1 1 0 -24 7 -1.5 1 1.5 2 0 5 -1.5 3 2 2 0 4 -2.5 2 1 4 0.5 3 -1.5 2 0.5 5 -2 2 0 2 -1 3 1 2 -1.5 2 2 2 -2.5 6 0.5 2 -1 2 2 3 -1.5 5 3 3 -1.5 3 3 2 0.5 2 3 1 -0.5 1 1 2 2.5 3 -1 5 4.5 4 1 2 -1 3 -4 1 -0.5 1 1 1 -1.5 1 -5.5 1 -1.5 2 1 0.5 -1.5 3.5 -6 2 -2 5 -12 1 -1 2 0.5 4.5 -4.5 3.5 -0.5 4 2 6 13 3 5.5 2 1.5 0.5 3.5 3.5 9 3 5 1 4.5 1 2 1.5 0.5 0 3 3.5 4 2 -2 1 0 3 -2 1 -4 4.5 -5 1.5 -5 1 -0.5 6 -16 1.5 -2.5 3.5 -8 4 -3 2 -3.5 4 -1.5 6 5 6 7 3 6.5 2 1.5 3 1 3.5 8 6.5 6 4 0.5 2 -2.5 3 -1 2 1.5 1 0 2 -1 6 -6 2 2 1 -1.5 2 1 2 -4 3 1.5 5 -2.5 5 0 2 -1 2 1.5 6 -0.5 3 2 5 -2.5 4 0.5 2 1 2 -1.5 1 1 3 0 2 1.5 0.5 -1 2.5 -0.5 3 3.5 2 -2 4 3 2 0 2 1.5 14 2 2 -1 2 2 3 0 0 21.5 -3 -1 -1 -1.5 -1 -0.5 -2 2.5 -4 -0.5 -2 -1 -5 -1 -1 -1.5 -4 -1.5 -3 2 -2 -2.5 -3 2.5 -2 -2.5 -3 -1.5 -3 -0.5 -2 1.5 -2 -0.5 -2 1.5 -2 -2.5 -2 1.5 -2 -1 -1 2 -1 0.5 -4 0 -2 -1 -5 -0.5 -0.5 2 -1.5 0.5 -3 -1.5 -2 1 -4 -2 -7 3.5 -1.5 1.5 -0.5 3.5 -2 -2 -3 -1 -1 2.5 -3 2.5 -1.5 3.5 -1.5 2 -5 -3 -2 2 -5 3.5 -2 -1 -1 -2.5 -2 0.5 -1 -0.5 -3.5 -4 -1.5 -3.5 -5 -2 -1 -8.5 -1 -1.5 -1 0.5 -3 -3 -1.5 -3 0.5 -3 -1 -1 -2 2 -2 -3 -1 -3 -2 -2.5 -1 0 -2.5 2.5 -0.5 5.5 -1 -0.5 -1 -3.5 -1.5 0.5 -1.5 3 1 3.5 -3 8.5 -2 1 -3.5 7 -5 12 -2.5 10 -1 1.5 -3 0.5 -2.5 4 -0.5 1 1 1 0 1 -1 2.5zM1006.5 185.5l-1 -0.5 1.5 0 -0.5 0.5zM841.5 195l-1 -2 1 -0.5 0 2.5zM836.5 202.5l0 -4.5 1 0 0 1 0 3 -1 0.5zM874 245l-1.5 -1 -1 1 2.5 0z"/><path fill="#b5111b" fill-rule="evenodd" d="M870.5 242l-7 -10.5 -1 -4.5 -4 -10 -4 -8 -3.5 -11 -5.5 -10 -2 -1 -2 -2.5 -5 1.5 -7 6.5 -4.5 9.5 -1.5 6 -1 1 -1 0 -3.5 7 -9.5 9 -3 -0.5 -7 -6 -2 -0.5 -7 -8.5 -3 0 -3 -3 -2 1.5 -5 -3.5 -3 1.5 -5 -1.5 -2 2.5 -3 -1.5 -2 1.5 -2 -2 -2 2.5 -3 -0.5 -2 2 -6 0.5 -2 -1.5 -2 2 -3 1 -5 -1.5 -5 3 -1 0 -3 -2.5 -6 1 -2 -2 -2 2 -5 0 0 -19 4 1.5 3 -2 8 0 5 1.5 4 -2 2 1 2 -0.5 2 0.5 11 -2.5 1 0.5 2 -2 2 1 3 -1 2 1 4 -2.5 6 0.5 2 1 3 -1 5 3 3 -1.5 5 3.5 2 3 5 3.5 1 0.5 1 -1.5 4 4 4 2 2 -0.5 7 -5.5 2 -8.5 1 3 1 -0.5 3 -4 8 -18 3 0 1 -2 3 -2.5 5 -2 2.5 3 13.5 27 8 20 4 4 2 -1 2 1 8 -13 12.5 -30 1.5 -2.5 3 -1.5 2 -3.5 2 -0.5 2 -2.5 3 4.5 3 1 1 3 4 4 3 6 6 6.5 7 10 3 1 3 0 6 -2.5 2 1.5 2 -0.5 3 -3 2 -1 2 -3 4 1.5 1 -0.5 2 -3.5 3 1 8 -3.5 6 2 2 -0.5 2 -1 4 2.5 5 -1.5 2 -1.5 3 0.5 2 1.5 2 -1.5 6 2.5 2 -1.5 1 0 3 3 3 -1 3 2.5 9 2.5 4 -0.5 5 1.5 2 -1 2 2 3 0.5 0 16 -2 0.5 -3 -3 -2 3 -1 0 -3 -1 -2 -1.5 -4 0 -3 -1.5 -6 -0.5 -2 -2 -2 1 -4 -2 -5 -1 -2 1 -2 -0.5 -1 1 -1 0.5 -2 -2 -2 0.5 -2 -0.5 -2 3.5 -1 0.5 -1 -2 -2 1 -1 -1 -2 1 -2 -2.5 -7 3 -3 -2 -3 0 -4 2.5 -3 -0.5 -2 4 -1 0.5 -4 -1.5 -2.5 2.5 -4.5 7 -5 -1.5 -2 2 -6 2.5 -5 -5 -1 0.5 -1 -1 -3 -5.5 -1 -0.5 -1 0.5 -1 -1 -2.5 -8 -3.5 -4 -3 -7 -3 -1.5 -1 -3 -2.5 -2.5 -4.5 0 -3 4.5 -2 0 -1 0.5 -1.5 7 -1.5 2 -10.5 26 -1.5 7 -6 7 -3 0.5 -2 1.5z"/><path fill="#830c14" fill-rule="evenodd" d="M870.5 237.5l-4 -5.5 -3 -9.5 -9 -18.5 -5 -13 -7 -10.5 -1 -0.5 -5 2.5 -1 -1 -8 10.5 -5 12.5 -1 0.5 -2 4 -4 5.5 -1 0.5 -1 -1 -1 3 -2 2 -1 1.5 -3 1 -6 -4 -3 -3.5 -2 -0.5 -2 -3.5 -4 -3.5 -3 -0.5 -3 -4 -1.5 0 -0.5 2.5 -0.5 -1.5 -2.5 0.5 -2 -3 -3 2.5 -2 -1 -2.5 0 -1.5 -1.5 -1 0 -2 1 -1 -0.5 -2 2.5 -2 -1.5 -2 2.5 -3 -1 -2 2 -2 0.5 -2 1 -2 -0.5 -2 -2 -2 3 -1 0.5 -3 -0.5 -2 0.5 -2 -2 -4 3 -5 -1 -5 0.5 -1 -0.5 -2 -2.5 -3 2.5 -4 -1.5 0 -12 4 2 3 -2.5 4 -0.5 7 2 5 -0.5 2 0.5 2 -1 4 0 1 1 2 -2.5 2 1 3 -1 2 1.5 3 -3.5 3 1 2 -1.5 3 2 1.5 -3.5 1.5 -0.5 6 1 2 1.5 3 -2 2 1.5 2 0.5 2 2 2 -2 1 0.5 5 5.5 6 5 1 0 1 -1 3 2.5 5 2.5 3 0 1 1 1 -0.5 3 -5.5 3.5 -2 -0.5 -2.5 3 -3.5 2 -1 2 -5.5 6.5 -13.5 2.5 0.5 2 -4.5 1 0 3 -2 1 3.5 1 0.5 1 -1 2 1 3 3.5 3.5 6.5 3.5 10 4 5.5 7.5 19.5 2.5 1 2 4 2 -1.5 1.5 1.5 1.5 0 6 -12 1.5 -1 3.5 -11 2 -2.5 1 -4.5 6 -13.5 2 -2.5 2.5 -1 1.5 -2.5 1 -1 2 1 2 -2 4.5 4.5 1.5 3.5 3 2.5 2 5 2 2 1 4 3 1 3 5.5 3 1.5 3 6.5 6 -1.5 6 -2.5 2 2 1 0.5 3 -2 5 -7 1 -0.5 3 2 1 -0.5 2 -4 2 1.5 1 0 7 -4 2 1 3 0 1 1 2 0.5 3 -1.5 4 2.5 5 -1.5 2 -2.5 3 1 2 2.5 2 -2.5 5 2.5 4 -1.5 2 2 4 0 4 3.5 8 1.5 2 0 2 -1 2 2.5 3 1 2 -2.5 2 2 3 1 0 10.5 -1 -2.5 -2 0 -2 -2 -2 4.5 -4 -1 -2 -2.5 -5 1.5 -3 -2 -4 -0.5 -4 -3.5 -1 2 -2 -2 -6 0.5 -4 -2 -2.5 2 -2.5 -3 -2 -0.5 -1 0.5 -3 4.5 -1 0 -1 -2.5 -2 1.5 -1 -1.5 -2 0 -1 -2 -1 0 -1 2.5 -7 1 -2 -1 -4 -1 -3 4 -1 0.5 -2 -1.5 -3 4.5 -2 0.5 -2 -1.5 -2 0 -5 7 0.5 1 -0.5 1 -5 -1.5 -5 4.5 -4 -1.5 -4 -3.5 -5 -7.5 -1 -1 -1 0.5 -3 -7 -3 -3.5 -3 -6 -4 -3.5 -1 -2.5 -3 -2.5 -4 -0.5 -2 3.5 -4 2 -12 31.5 -2.5 4.5 -1.5 5.5 -2 1.5 -3 5 -1 0.5 -2 -0.5 -2 2.5z"/><path d="M711.5,201.3 L712.6,201.3 L713.7,201.3 L714.9,201.3 L716.0,201.3 L717.1,201.3 L718.2,201.3 L719.3,201.2 L720.4,201.2 L721.5,201.2 L722.6,201.2 L723.7,201.1 L724.8,201.1 L725.9,201.0 L727.0,201.0 L728.1,200.9 L729.3,200.9 L730.4,200.8 L731.5,200.8 L732.6,200.7 L733.7,200.7 L734.8,200.6 L735.9,200.5 L737.0,200.5 L738.1,200.4 L739.2,200.3 L740.3,200.2 L741.4,200.2 L742.5,200.1 L743.6,200.0 L744.8,199.9 L745.9,199.9 L747.0,199.8 L748.1,199.6 L749.2,199.5 L750.3,199.3 L751.4,199.1 L752.5,198.9 L753.6,198.6 L754.7,198.4 L755.8,198.1 L756.9,197.8 L758.0,197.5 L759.2,197.3 L760.3,197.0 L761.4,196.7 L762.5,196.5 L763.6,196.2 L764.7,196.0 L765.8,195.7 L766.9,195.5 L768.0,195.4 L769.1,195.2 L770.2,195.1 L771.3,195.0 L772.4,194.9 L773.6,194.9 L774.7,195.0 L775.8,195.1 L776.9,195.4 L778.0,195.8 L779.1,196.2 L780.2,196.7 L781.3,197.3 L782.4,198.0 L783.5,198.7 L784.6,199.4 L785.7,200.2 L786.8,201.0 L787.9,201.8 L789.1,202.5 L790.2,203.3 L791.3,204.1 L792.4,204.8 L793.5,205.5 L794.6,206.3 L795.7,207.2 L796.8,208.2 L797.9,209.2 L799.0,210.2 L800.1,211.2 L801.2,212.1 L802.3,212.9 L803.5,213.5 L804.6,213.9 L805.7,214.1 L806.8,214.1 L807.9,213.9 L809.0,213.5 L810.1,213.0 L811.2,212.3 L812.3,211.6 L813.4,210.7 L814.5,209.8 L815.6,208.8 L816.7,207.8 L817.8,206.7 L819.0,205.6 L820.1,204.0 L821.2,202.0 L822.3,199.8 L823.4,197.3 L824.5,194.9 L825.6,192.4 L826.7,190.1 L827.8,188.1 L828.9,186.4 L830.0,185.1 L831.1,183.8 L832.2,182.6 L833.4,181.4 L834.5,180.3 L835.6,179.3 L836.7,178.6 L837.8,178.1 L838.9,177.9 L840.0,178.1 L841.1,178.6 L842.2,179.5 L843.3,180.7 L844.4,182.0 L845.5,183.5 L846.6,185.0 L847.8,186.6 L848.9,188.0 L850.0,189.7 L851.1,191.6 L852.2,193.6 L853.3,195.8 L854.4,197.9 L855.5,200.1 L856.6,202.2 L857.7,204.4 L858.8,206.7 L859.9,209.0 L861.0,211.3 L862.1,213.5 L863.3,215.5 L864.4,217.4 L865.5,219.4 L866.6,221.4 L867.7,223.3 L868.8,224.8 L869.9,225.7 L871.0,225.8 L872.1,225.5 L873.2,225.0 L874.3,224.2 L875.4,223.3 L876.5,222.2 L877.7,221.1 L878.8,220.0 L879.9,218.4 L881.0,216.4 L882.1,214.1 L883.2,211.5 L884.3,208.8 L885.4,206.1 L886.5,203.5 L887.6,201.1 L888.7,198.9 L889.8,196.6 L890.9,194.4 L892.1,192.2 L893.2,190.1 L894.3,188.2 L895.4,186.5 L896.5,185.1 L897.6,183.7 L898.7,182.3 L899.8,181.0 L900.9,179.8 L902.0,178.9 L903.1,178.2 L904.2,177.9 L905.3,178.0 L906.4,178.6 L907.6,179.5 L908.7,180.7 L909.8,182.1 L910.9,183.6 L912.0,185.2 L913.1,186.7 L914.2,188.2 L915.3,189.6 L916.4,191.0 L917.5,192.5 L918.6,194.0 L919.7,195.6 L920.8,197.1 L922.0,198.6 L923.1,200.0 L924.2,201.3 L925.3,202.5 L926.4,203.8 L927.5,205.1 L928.6,206.3 L929.7,207.5 L930.8,208.7 L931.9,209.6 L933.0,210.4 L934.1,210.9 L935.2,211.1 L936.4,211.1 L937.5,211.0 L938.6,210.9 L939.7,210.8 L940.8,210.7 L941.9,210.6 L943.0,210.4 L944.1,210.2 L945.2,210.0 L946.3,209.7 L947.4,209.4 L948.5,208.7 L949.6,207.8 L950.7,206.7 L951.9,205.5 L953.0,204.2 L954.1,203.0 L955.2,201.9 L956.3,200.9 L957.4,200.3 L958.5,199.8 L959.6,199.4 L960.7,198.9 L961.8,198.5 L962.9,198.1 L964.0,197.7 L965.1,197.4 L966.3,197.0 L967.4,196.7 L968.5,196.5 L969.6,196.2 L970.7,196.0 L971.8,195.9 L972.9,195.8 L974.0,195.7 L975.1,195.7 L976.2,195.7 L977.3,195.7 L978.4,195.7 L979.5,195.7 L980.6,195.7 L981.8,195.7 L982.9,195.7 L984.0,195.7 L985.1,195.7 L986.2,195.7 L987.3,195.7 L988.4,195.7 L989.5,195.7 L990.6,195.7 L991.7,195.7 L992.8,195.7 L993.9,195.7 L995.0,195.7 L996.2,195.7 L997.3,195.7 L998.4,195.7 L999.5,195.7 L1000.6,195.7 L1001.7,195.7 L1002.8,195.7 L1003.9,195.8 L1005.0,195.8 L1006.1,195.9 L1007.2,196.0 L1008.3,196.2 L1009.4,196.3 L1010.6,196.5 L1011.7,196.7 L1012.8,196.9 L1013.9,197.2 L1015.0,197.4 L1016.1,197.7 L1017.2,198.0 L1018.3,198.3 L1019.4,198.6 L1020.5,198.9 L1021.6,199.2 L1022.7,199.6 L1023.8,199.9 L1024.9,200.2 L1026.1,200.5 L1027.2,200.9 L1028.3,201.2 L1029.4,201.5 L1030.5,201.8 L1031.6,202.1 L1032.7,202.4 L1033.8,202.7 L1034.9,203.0 L1036.0,203.3 L1037.1,203.5 L1038.2,203.7 L1039.3,204.0 L1040.5,204.1 L1041.6,204.3 L1042.7,204.5" fill="none" stroke="#fff" stroke-width="2.8" stroke-dasharray="7.5,5"/></g></g>
<defs><clipPath id="hib"><rect x="121.6" y="380.3" width="339.90" height="200.30"/></clipPath><filter id="fhib" x="-2%" y="-2%" width="104%" height="104%"><feGaussianBlur stdDeviation="0.7"/></filter></defs><g clip-path="url(#hib)"><g filter="url(#fhib)"><path fill="#dbd8ee" fill-rule="evenodd" d="M323 439l-47 0 -20 -1 -8.5 -2 -1 -2 0 -4 1 -3 2 -2 10.5 -5 13.5 -3 15.5 -1.5 18 0 18 3 12.5 4.5 3 2 2.5 3 0.5 6 -1 2 -8.5 2 -11 1zM350 562l-17 0.5 -71 -1.5 -143 0 -1 -4 0 -22 0 -17 1 -4.5 124 0 4.5 -0.5 -30.5 -15.5 -98 -0.5 -1 -8 0.5 -45 0.5 -1 105 0 27 4 6.5 -1 10.5 -4.5 5 -0.5 13 3 6 5 5 1.5 5.5 -1.5 4.5 -6 12 -2 4 0.5 7 4.5 4 1 25 -4 105 0 1 3 0 18 0 29 -1 4 -110 0.5 -4 1.5 -20.5 16 8.5 0 29 -1 97 -0.5 1 2.5 0 11 0 29 -1 5 -98 0 -16 1zM294.5 499l2.5 -2.5 1.5 -3.5 -0.5 -5 -1 -2 -2 -1 -2 0.5 -2 2 -1.5 4.5 0.5 4 1 2 1.5 1 2 0zM336.5 502l0.5 -1 -1 -1 0.5 -5 -1.5 -4 -2 -3.5 -2.5 -1.5 -3.5 -0.5 -1 2.5 -0.5 2 1.5 5.5 4 4.5 3 1 1 1.5 1.5 -0.5zM247.5 504l-1.5 -1 5.5 -1 6 -5 2 -4 0.5 -3 -1 -2 -2 -0.5 -3 1 -5 4.5 -3 5.5 0.5 3.5 -0.5 1 -1 0 1 1 1.5 0zM274 514l0 -3 -4 -1.5 -11 1 -6 2.5 5 0.5 16 0.5zM318.5 515l-1.5 -0.5 -1 -3.5 -3 -1 -7 1 -6 3 1 0.5 17.5 0.5z"/><path fill="#b2add9" fill-rule="evenodd" d="M307 438l-24 0 -13.5 -1 -5.5 -2 -0.5 -5 2 -3 6.5 -3.5 10 -2 11 -1 12 0.5 10 1.5 8 3 3 3.5 0 5 -2 2 -5 1 -12 1zM338 561l-75 -1.5 -144 0 -0.5 -3.5 -0.5 -21 0.5 -15 0.5 -5 155 0.5 2 -3.5 -1 -2 -3 -1.5 -4 0 -6 1.5 -5 -0.5 -3 0.5 -5 -2 -0.5 -1 2 -1 -0.5 -2 6.5 -5 4 -6 0.5 -4 -1 -1.5 -2 -1 -4 1 -4 3.5 -3 4 -2 6 -3 0.5 -1 2.5 -15 -8 -3 -0.5 -104 0 -1 -31.5 0.5 -17 0.5 -3 105 0 27 4.5 5 -1 12 -4.5 6 -1 11 3 5.5 5 6.5 1.5 6 -1.5 5 -6 11 -2 4 0.5 8 5 3 0.5 6 -0.5 19 -3.5 105 0 1 3 0 17 -1 31.5 -109 0 -9 1 -6 4.5 0 -2 -2.5 -1 -1 -5 -2.5 -5 -3 -3 -3 -1 -2 1 -1 2 0 5 2.5 6 5 4 -0.5 3 1 1 -9 7.5 -0.5 -2.5 -4.5 1.5 -3 -3 -5 -0.5 -8 2 -4 2.5 -2 2.5 37 0.5 33 -1.5 97 0 1 5 0 15 0 21 -1 3.5 -98 0 -28 1.5zM294 500l3.5 -3 1.5 -5 -0.5 -5 -1.5 -2 -2 -1 -2 0.5 -2.5 2.5 -1.5 6 1 5 2 2 2 0z"/><path fill="#7a74ba" fill-rule="evenodd" d="M304 435l-10 0.5 -9 -0.5 -2 -1 -0.5 -4 2.5 -2 4 -1.5 7 -0.5 6 1 3 1 2.5 2 -0.5 4 -3 1zM347 559l-16 0.5 -67 -2 -145 0.5 -1 -23 1 -18.5 156 0.5 3 -5 -1 -2.5 -3 -1.5 -5 -0.5 -10 1.5 -7.5 -3 -0.5 -2 6.5 -5 4 -7 0.5 -4 -1 -1.5 -2 -1 -4 0.5 -4 3 -4.5 5 -2.5 6 -2 0.5 -13.5 -6.5 -3.5 -1 -106 0 -1 -29 1 -19.5 106 0 26 5 6 -1.5 12 -4.5 5 -0.5 11 3 5.5 5 6.5 1 6 -1 3 -3 2 -3 11 -2 4 0.5 7 4.5 4 1 6 0 19 -4.5 105 0 1 19.5 -1 29 -112 -0.5 -6 0.5 -6 4.5 -2 -0.5 -1.5 -6 -3 -5 -3.5 -2.5 -3 -0.5 -2.5 3 -0.5 5 3 7 4.5 5 -1.5 2.5 -5 3.5 -3 1.5 -2 0.5 -1.5 -2 -3.5 -1 -9 1 -7 3.5 -5 4.5 40 1 33 -1.5 97 0 1 18.5 -1 23 -98 0 -19 1zM294.5 501l3.5 -3.5 2 -6.5 -1 -5 -2 -2.5 -2 -0.5 -3 1 -1.5 2 -2 4 -0.5 3 0.5 4 1.5 2.5 2 1.5 2.5 0z"/><path fill="#4a4c9f" fill-rule="evenodd" d="M348 558l-18 0.5 -68 -2 -143 0.5 -1 -22 1 -17.5 156 0.5 3.5 -4 1 -3 -0.5 -1.5 -1.5 -1.5 -3 -1 -6 0 -9.5 2 -7 -3.5 0 -1.5 6 -5 4 -6.5 1 -4.5 -1 -2.5 -2 -1 -3.5 0.5 -6.5 3.5 -4 5 -2.5 5.5 -1.5 1 -17 -8.5 -4 -1 -102 0 -0.5 -26.5 0.5 -18.5 106 0 26 5 6 -1.5 11 -4.5 5.5 -0.5 11.5 3 6 4.5 6 1 7 -1.5 4.5 -5 10.5 -2 4 0.5 8 5 4 1 7 -1 17 -4 105 0 1 18.5 -1 26.5 -114 -0.5 -2 1 -8 6 -1.5 -1 -0.5 -3.5 -3 -6 -4 -3.5 -4 -1 -3 2 -1 5 1 5 2 4 4.5 5 -0.5 2 -6 4.5 -2 0.5 -3 -2.5 -4 -0.5 -10 2 -7.5 4 -5 5 0.5 0.5 41 0.5 33 -1.5 97 0 1 17.5 -1 22 -97 0 -19 1zM294.5 502l2.5 -2 2 -3 1.5 -6 -0.5 -4 -1 -2.5 -2 -2 -2 -0.5 -2.5 1 -2.5 2 -2 4 -0.5 4 0.5 5 1 2 2.5 2 3 0z"/><path fill="#303892" fill-rule="evenodd" d="M353 557l-21 0.5 -67 -1.5 -146 0 -1 -21 1 -17 158 1 -0.5 -2 2.5 -3.5 1 -2.5 -1.5 -3 -3.5 -1.5 -6 0 -10 2 -7 -3.5 7 -7 3.5 -5 1 -6 -1.5 -2 -2 -1 -4.5 1 -5.5 3.5 -4 4.5 -4 7 -22 -11 -2 -0.5 -99 0 -0.5 -24.5 0.5 -18 106 0 10 1.5 16 4.5 5 -1 12 -5 6 -1 8 2 10 5.5 5 0.5 7 -2 4 -3.5 11 -2.5 4.5 1 8.5 5.5 4 0.5 6 -0.5 12.5 -4.5 5.5 -1 104 0 1 18 -1 24.5 -100 0 -12 -0.5 -12 8.5 -1 -0.5 -2 -6.5 -3 -4.5 -3 -2.5 -4 -1 -2 0.5 -1.5 2 -0.5 6 2 7 5.5 7 -1 1 -6.5 4.5 -4 -2.5 -3 -0.5 -4 0.5 -7 1.5 -8.5 4.5 -3.5 3 -1.5 3 42.5 1 33 -1.5 97 -0.5 1 17 -1 21 -98 0 -13 1zM295.5 502l3.5 -4.5 1.5 -3.5 0.5 -4 -2 -6 -2 -2 -2 -0.5 -3 1 -2 2.5 -2 4 -1 5 1 4 1.5 3 2.5 1.5 3.5 -0.5z"/><path fill="#2a3a95" fill-rule="evenodd" d="M344 556l-79 -1.5 -146 0.5 -1 -20 1 -16 159 1 0.5 -1 -1.5 -1 0 -1 2.5 -3 1 -3 -1 -3 -3.5 -1.5 -7 -0.5 -10 2.5 -6.5 -3.5 6.5 -6.5 4 -7 1 -2.5 -0.5 -3 -1.5 -2 -2 -0.5 -5 1 -5 3.5 -4 5 -4 6.5 -27 -13.5 -96 0 -0.5 -22 0.5 -17 107 0 8 1.5 17 5.5 5 -1 11.5 -5 5.5 -1.5 5 0.5 13 5.5 5 1 6 -1 5 -2.5 6 -2 8 -1.5 3 1.5 8 5 4 1 6 -1 13 -5 7 -1 102 0 1 17 -1 22 -72 0 -28 0.5 -9 -1.5 -15 11.5 -3 -7.5 -3 -4.5 -4 -3 -4 -0.5 -3 3 -0.5 6 2.5 7.5 5 6.5 -0.5 1 -6.5 4 -3 -2 -4 -0.5 -5 0 -7 2 -9 5.5 -3 3 -1.5 3 43.5 1 33 -1.5 97 -0.5 1 16 -1 20 -99 0 -21 1zM293.5 503l2.5 -1.5 3 -2.5 1 -3 1 -5 -0.5 -4 -1 -3 -2 -2 -2.5 -1 -3 1 -2.5 3 -1.5 3 -1 5 1.5 7 1.5 2 3.5 1z"/><path fill="#283d99" fill-rule="evenodd" d="M457 554l-92 -0.5 -30 1 -68 -1.5 -148 1 -1 -19 1 -15 161 0.5 1 -0.5 -3.5 -2 0 -1 2.5 -3 1 -3 -1 -3 -4 -2 -6 -0.5 -11 2.5 -6.5 -3 7 -6 4 -7 0.5 -6 -3 -3 -4 0.5 -7 4 -5 6.5 -3 5 -26 -13 -1 -2.5 -96 0 -0.5 -19.5 0.5 -15.5 107 0 8 1 13 5.5 5 1 5 -1.5 11 -5.5 5 -1 6 1 11 5 6 0.5 5.5 -0.5 13.5 -5 6 -0.5 3 1 8 5.5 5 1 5 -1 13 -5.5 7 -1 102 0 1 15.5 -1 19.5 -72 -0.5 -27 1 -7 -1 -2 0.5 -16 12.5 -2.5 -7 -3.5 -4.5 -4 -3.5 -4 -0.5 -2 1.5 -1 2 -0.5 6 1.5 6 5.5 8 -0.5 0.5 -6 4.5 -3 -2.5 -4 -0.5 -6 0.5 -7 2 -8.5 5.5 -3 3 -1.5 3 0 1 43 1 35 -1.5 96 -0.5 1 15 -1 19 -7 0zM295 503l2 -1.5 2.5 -3.5 2 -7 -1.5 -7 -2 -2 -3 -1.5 -3 1 -2 2.5 -2.5 4 -1 6 0.5 3 2 4.5 3 1.5 3 0z"/><path fill="#29449e" fill-rule="evenodd" d="M346 553l-80 -1.5 -147 1 -0.5 -17.5 0.5 -14.5 97 0 67 1 1 -0.5 -6 -3 0 -1 3.5 -5 0 -3 -2.5 -3 -3 -1 -7 0 -10 3 -6 -3 7.5 -7 4 -8 0 -4 -1.5 -2.5 -3 -1 -4 0.5 -6 4 -6.5 8 -1.5 4 -25.5 -13 -1.5 -5 -96 0 -0.5 -17 0.5 -14 107 0 8 1 13 6 4 0.5 5 -0.5 12 -6 5 -1 6 1 8.5 4 6.5 1 6 -0.5 15 -4.5 6 -1 3 1 8 6 4 0.5 6 -0.5 14 -6 7 -1.5 101 0.5 0.5 14 -0.5 17 -72 0 -27 0.5 -6 -0.5 -19 14.5 -2 -6.5 -4 -5 -5 -4 -4 0.5 -2.5 2.5 -1 6 2 7 5.5 8 -5 4 -3 -1.5 -6 -1 -6 0.5 -6 2 -9 5.5 -3.5 3.5 -2.5 4.5 -1.5 0.5 47.5 1 34 -2 96 -0.5 1 14.5 -1 17.5 -99 -0.5 -19 1zM295.5 503l4 -4 1 -2 1.5 -4 0 -4 -2 -6 -2 -2 -3 -1 -3 1 -3.5 4 -2 5 0 6 1 4 1.5 2 2 1.5 3 0 1.5 -0.5z"/><path fill="#294ba3" fill-rule="evenodd" d="M239 480l-5 0.5 -9 -1 -25 -1 -81 0 -0.5 -14.5 0.5 -12.5 107 -0.5 8 1.5 9.5 4.5 7.5 1.5 5 -1 12 -5 5 -1.5 6 1.5 10 3.5 6 1 6 -1 13 -3.5 7 -1 11 6.5 4 0.5 7 -1 14 -5.5 6 -1 101 0.5 0.5 12.5 -0.5 14.5 -72 0 -28 1 -14 -3 -18 2 -11 -5 -18 1 -14 1.5 -18 -2.5 -18 4.5 -10 1 -4 1zM464 551l-100 0 -30 0.5 -68 -1.5 -62 1 -85 0 -0.5 -9 0 -16 0.5 -4.5 142 0.5 71 1.5 36 -1.5 96 -0.5 1 13.5 -1 16z"/><path fill="#2a52a8" fill-rule="evenodd" d="M243 478l-9 0 -9 -1 -25 -1 -81 0.5 -0.5 -12.5 0.5 -11 107 -0.5 7 1 13 5 5 1 5 -1 11 -5 6 -1.5 5 1 12 4.5 5 0.5 6 -1 14 -4 6 -0.5 3 1 8 5 4 1 6 -1 15 -5 6 -1 101 0.5 0.5 11 -0.5 12.5 -72 -0.5 -27 1 -13 -1.5 -19 2 -12 -5 -18 1 -14 1.5 -17 -2.5 -5 0.5 -13 3.5 -11 1.5zM447 550l-87 -0.5 -26 1.5 -68 -1.5 -147 0.5 -0.5 -8 0 -16 0.5 -4 140 0.5 74 1.5 43 -1.5 88 -0.5 1 13 -1 15 -17 0z"/><path fill="#2b5fb3" fill-rule="evenodd" d="M245 477l-8 0 -12 -1.5 -20 -0.5 -86 0 0 -21 106 -0.5 7 1 19 6 5 -1 11 -5 6 -1.5 5 0.5 12 4.5 6 1 5 -1 13 -4 7 -1 3 1 8 5.5 4 0.5 7 -1 13 -4.5 7 -1 101 0.5 0.5 2 -0.5 19 -99 0.5 -15 -1 -17 2 -12 -5 -21 0.5 -12 2 -16 -2.5 -18.5 4.5 -8.5 1zM351 550l-20 0.5 -70 -1.5 -142 0.5 -0.5 -8.5 0 -15 0.5 -3.5 141 0.5 73 1.5 34 -1.5 97 -0.5 1 12.5 -1 14.5 -113 0.5z"/><path fill="#2c6cbe" fill-rule="evenodd" d="M245 476l-7 0 -13 -1.5 -19 -0.5 -87 0.5 0 -20 107 0 8 1 13 5 5 1 5 -1.5 11 -5.5 5 -1 6 1 12 5 5 0.5 5 -0.5 13 -5 7 -0.5 3 1 8 5.5 5 0.5 6 -0.5 13 -5.5 7 -1 101 0.5 0.5 1.5 -0.5 18.5 -100 0 -21 -1 -10 2 -3 -0.5 -9 -4.5 -19 -0.5 -15 3 -17 -2 -25 5zM345 550l-16 0 -66 -1.5 -144 0.5 -0.5 -8 0 -15 0.5 -3 141 0.5 72 1.5 42 -1.5 90 -0.5 0.5 1 0.5 15 -1 10 -98 0 -21 1z"/><path fill="#2a80cc" fill-rule="evenodd" d="M244 475l-6 0.5 -13 -1.5 -21 -0.5 -85 0 0 -18.5 107 0 9 1.5 13 5.5 4 0.5 5 -1 10.5 -5.5 5.5 -1.5 7 1.5 11 5 6 0.5 5 -1 11.5 -4.5 7.5 -1.5 3 1.5 8 5.5 5 1 6 -1 13 -5.5 7 -1 101 0 0.5 2 -0.5 16.5 -100 0.5 -21 -2 -11 1.5 -10 -3.5 -21 -1.5 -15 3 -12 -1.5 -6 0 -17 3 -7 2zM337 550l-72 -1.5 -146 0 -0.5 -7.5 0 -15 0.5 -2.5 141 0.5 73 1.5 34 -1.5 97 -0.5 0.5 1.5 0.5 16 -1 7.5 -98 0 -29 1.5z"/><path fill="#2499dd" fill-rule="evenodd" d="M243 474l-6 0.5 -12 -1.5 -23 -0.5 -83 0.5 0 -17.5 107 0 9 1.5 13 6 4 1 5 -1.5 11 -6 5 -1 6 1 13 6 5 1.5 4 -1 12 -6 7 -1.5 4 1.5 9 6 5 1 6 -1.5 11 -5.5 7 -1.5 102 0 0 1.5 0 16 -100 0 -21 -3 -11 2 -10 -3.5 -22 -2.5 -4 0.5 -9 3.5 -20 -1.5 -16 2.5 -8 3zM353 549l-19 0.5 -69 -1.5 -146 0.5 -0.5 -7.5 0 -15 0.5 -2.5 142 0.5 71 1.5 52 -1.5 80 -0.5 0.5 1.5 0.5 16 -1 7.5 -111 0.5z"/><path fill="#1eb2ee" fill-rule="evenodd" d="M238 474l-13 -1.5 -20 -0.5 -86 0 0 -15.5 108 0 11 2.5 11 6.5 3 1 5 -2 11 -6.5 6 -1.5 8 2.5 10 6 0.5 1 -4.5 2 -4 0.5 -14 -1.5 -18 1.5 -14 5.5zM464 472l-101 0.5 -5 -0.5 -15 -4.5 -12 2.5 -9 -3 -9 -1 -9 -2 7.5 -5 8.5 -2.5 4 1.5 9 6.5 6 1.5 4 -1 12 -7 7 -2 102 0.5 0 15.5zM346 549l-17 0 -65 -1.5 -145 0.5 -0.5 -7 0.5 -15 0 -2 142 0.5 71 1.5 43 -1.5 89 -0.5 0.5 1 0.5 14 -1 9 -98 0 -20 1z"/><path fill="#2ab4e4" fill-rule="evenodd" d="M464 471l-72 -0.5 -28 1 -9 -2 -10 -3.5 8 -6.5 5 -2 5 -0.5 101 0 0 14zM236 473l-12 -1.5 -23 -1 -82 0.5 0 -14 109 0 5 1 5 2 5.5 3 4.5 4 0.5 1 -5 3 -7.5 2zM283 467l-12 -1.5 -10 0 -1 -0.5 8.5 -6 2.5 -1.5 4 0 6.5 2.5 7 5 -1 1 -4.5 1zM333 468l-3 0 -8 -2.5 -7 -1 -6.5 -1.5 6.5 -4 6 -1 3 1 9.5 8 0.5 1 -1 0zM358 548l-24 1 -69 -2 -146 0.5 -0.5 -6.5 0 -14 0.5 -2.5 141 0 72 1.5 41 -1.5 91 0 0 0.5 1 13 -1 9.5 -106 0.5z"/><path fill="#36b5d9" fill-rule="evenodd" d="M239 471l-5 0.5 -9 -1 -25 -1 -81 0 0 -11.5 109 0 5 0.5 5 2 3.5 2.5 4.5 4 -3 2 -4 2zM381 470l-19 0 -8.5 -2 -5 -3 6 -5 8.5 -2.5 30 1 71 -0.5 0 11.5 -83 0.5zM283 465l-5 0 -13 -2 5 -3 5 -1 4 1 5.5 4 -1.5 1zM328 465l-6 -1.5 -7 -1 -2 -0.5 4 -2 4 -0.5 4 2.5 3 3zM350 548l-19 0.5 -68 -1.5 -144 0.5 -0.5 -6.5 0 -14 0.5 -2.5 141 0.5 73 1.5 35 -1.5 96 0 1 10 -1 12.5 -98 0 -16 0.5z"/><path fill="#41b6cc" fill-rule="evenodd" d="M238 470l-4 0.5 -9 -1.5 -25 -1 -81 0.5 0 -9.5 108 -0.5 9.5 2.5 3 2 4.5 4 -6 3zM376 469l-14 0 -5 -1.5 -5.5 -2.5 0 -1 5.5 -4 6 -1.5 30 0.5 71 0 0 9.5 -71 -0.5 -17 1zM280 463l-9 -1 2 -1 3 0 4.5 2 -0.5 0zM343 548l-78 -1.5 -146 0.5 0 -20 0 -2 141 0 72 1.5 33 -1.5 26 0 73 0 0.5 1 0 13 -0.5 8 -98 0 -23 1z"/><path fill="#4bb6bc" fill-rule="evenodd" d="M236 469l-36 -2.5 -81 0.5 0 -7 80 0.5 28 -1 7.5 1.5 6.5 5 0 1 -5 2zM371 468l-10 -0.5 -7.5 -3.5 5.5 -4 5 -0.5 29 1 71 -0.5 0 7 -71 -0.5 -22 1.5zM356 547l-22 0.5 -68 -1.5 -147 0.5 -0.5 -16.5 0.5 -5 141 0.5 72 1.5 46 -1.5 86 -0.5 0.5 1 0 12 -0.5 8.5 -108 0.5z"/><path fill="#58b6a8" fill-rule="evenodd" d="M237 467l-4 0.5 -8 -1 -25 -1.5 -81 0.5 0 -4 80 0.5 27 -1.5 6 1 3 1 4.5 3.5 -2.5 1zM379 466l-15 0.5 -8 -2.5 3 -2.5 5 -1 28 1.5 72 -0.5 0 4 -71 -0.5 -14 1zM348 547l-17 0 -67 -1.5 -145 0.5 -0.5 -16 0.5 -5 141 0.5 72 1.5 41 -1.5 91 -0.5 0 1 0.5 10 -0.5 10.5 -98 -0.5 -18 1z"/><path fill="#6aba8f" fill-rule="evenodd" d="M374 464l-12 0 1 -1 2 -0.5 9 1.5zM234 465.5l-13.5 -1.5 8.5 -1 6 2 -1 0.5zM445 546l-80 -0.5 -30 1 -69 -1.5 -147 0.5 -0.5 -14.5 0.5 -5.5 140 0.5 74 1.5 35 -1.5 96 -0.5 0.5 9.5 -0.5 10.5 -19 0.5z"/><path fill="#7dbe71" fill-rule="evenodd" d="M345 546l-80 -1.5 -146 0.5 -0.5 -15 0.5 -4 100 0 114 2 35 -1.5 96 -0.5 0.5 9 -0.5 10 -99 0 -20 1z"/><path fill="#91c34e" fill-rule="evenodd" d="M438 545l-73 -0.5 -31 1 -70 -1.5 -145 0.5 -0.5 -13.5 0.5 -4.5 100 0 113 2 35 -2 97 0 0.5 8.5 -0.5 9.5 -26 0.5z"/><path fill="#adcc34" fill-rule="evenodd" d="M340 545l-74 -1.5 -147 0.5 -0.5 -13 0.5 -4.5 98.5 0.5 114.5 2 40 -2 92 -0.5 0 17.5 -99 0 -25 1z"/><path fill="#cad61f" fill-rule="evenodd" d="M350 544l-25 0.5 -59 -1.5 -147 0.5 -0.5 -12.5 0.5 -4 98 0.5 115 2 41 -2 91 -0.5 0 16.5 -114 0.5z"/><path fill="#e5e118" fill-rule="evenodd" d="M346 544l-22 0.5 -58 -2 -147 0.5 -0.5 -12 0.5 -3.5 97 0.5 116 2 36 -2 96 -0.5 0 15.5 -97 0 -21 1z"/><path fill="#f4de12" fill-rule="evenodd" d="M344 544l-19 0 -59 -1.5 -147 0 0 -11.5 0 -3 99 0 114 2.5 39 -2 93 -0.5 0.5 2 -0.5 12.5 -97 0.5 -23 1z"/><path fill="#f7cf0f" fill-rule="evenodd" d="M343 544l-18 0 -59 -1.5 -147 0 0 -11.5 0 -2.5 99 0 114 2 35 -1.5 97 -0.5 0.5 1.5 -0.5 12.5 -97 0 -24 1.5z"/><path fill="#fac00c" fill-rule="evenodd" d="M341 544l-75 -2 -147 0.5 0 -11.5 0 -2.5 141 0.5 70 2 36 -2 48 -0.5 50 0 0.5 1.5 -0.5 12.5 -97 0 -26 1.5z"/><path fill="#f8af10" fill-rule="evenodd" d="M337 544l-71 -2 -147 0.5 0 -11.5 0 -2 141 0.5 71 1.5 35 -1.5 24 -0.5 74 0 0.5 1 -0.5 12.5 -97 0 -30 1.5z"/><path fill="#f79e14" fill-rule="evenodd" d="M356 543l-22 0.5 -68 -1.5 -147 0.5 0 -11.5 0 -2 140 0.5 72 1.5 56 -2 77 0 0 1 0 12.5 -108 0.5z"/><path fill="#f58e17" fill-rule="evenodd" d="M353 543l-19 0.5 -68 -1.5 -147 0 0 -11 0 -2 101 0.5 112 2 52 -2 80 -0.5 0 1 0 12 -111 1z"/><path fill="#f37e18" fill-rule="evenodd" d="M350 543l-21 0.5 -65 -1.5 -145 0 0 -11 0 -1.5 100 0 113 2 50 -2 82 0.5 0 12 -97 0 -17 1z"/><path fill="#f16e1a" fill-rule="evenodd" d="M347 543l-24 0 -59 -1.5 -145 0.5 0 -11 0 -1.5 45 0 96 0.5 71 1.5 36 -1.5 51 -0.5 46 0 0.5 1.5 -0.5 11 -98 0 -19 1z"/><path fill="#ef601a" fill-rule="evenodd" d="M344 543l-77 -2 -148 1 0 -11 0 -1.5 45 0 96 1 71 1 35 -1.5 50 -0.5 48 0 0 1.5 0 11 -98 0 -22 1z"/><path fill="#ed531a" fill-rule="evenodd" d="M341 543l-66 -2 -156 1 0 -11 0 -1 91 0 122 2 31 -1.5 34 -0.5 67 0 0 1 0 11 -97 0 -26 1z"/><path fill="#eb451b" fill-rule="evenodd" d="M359 542l-24 0 -56 -2 -66 1.5 -94 0 0 -10.5 0 -1 96 0 117 2.5 43 -2 89 -0.5 0 1 0 10.5 -105 0.5z"/><path fill="#e8381c" fill-rule="evenodd" d="M464 541.5l-128 -0.5 -58 -1.5 -61 1.5 -98 0.5 0 -9.5 0 -2 84 0 128 3 35 -2.5 98 -0.5 0 11.5z"/><path fill="#e62a1e" fill-rule="evenodd" d="M464 541l-87 0 -96 -2.5 -62 2.5 -100 0 0 -9 0 -1.5 96 0 112 3 14 -0.5 29.5 -2 93.5 -0.5 0 10.5z"/><path fill="#e4221e" fill-rule="evenodd" d="M464 541l-67.5 0 -112.5 -4 -77 3.5 -88 0.5 0 -9 0 -1.5 100 0.5 69 3 32 0.5 17 -0.5 27 -2.5 19 -0.5 81 -0.5 0 10.5z"/><path fill="#e31a1e" fill-rule="evenodd" d="M210 540l-45 0.5 -46 -0.5 0 -9 98 0 59 4 -66 5zM464 540l-49 0.5 -95.5 -3.5 1.5 -1 21 -1 27.5 -3 39.5 -1 55 0 0 9zM311 536l-10.5 0 11.5 0 -1 0z"/><path fill="#d7151d" fill-rule="evenodd" d="M215 539l-49 1 -47 -1 0 -7.5 97 0 40.5 3.5 -41.5 4zM429 540l-47 -1.5 -35 -2.5 20.5 -3 17 -1 79.5 -0.5 0 8 -35 0.5z"/><path fill="#c0121c" fill-rule="evenodd" d="M178 539l-59 -0.5 0 -6.5 83 0 18 0.5 19 2.5 -22 3 -39 1zM441 539l-22 0 -32.5 -1 -24 -2 -0.5 -1 20 -2 23.5 -1 58.5 -0.5 0 7 -23 0.5z"/><path fill="#aa101a" fill-rule="evenodd" d="M181 538l-62 -1 0 -4 54 -1 39 1 16.5 2 -12.5 1.5 -35 1.5zM444 538l-31.5 0 -35.5 -2 -4.5 -1 48.5 -3 43 0.5 0 5 -20 0.5z"/><path fill="#900e16" fill-rule="evenodd" d="M170 537l-51 -1 0 -2 48 -1 50.5 2 -47.5 2zM434 537l-21 -0.5 -23.5 -1.5 35.5 -2 39 1 0 2 -30 1z"/><path fill="#760b12" fill-rule="evenodd" d="M185 535l-21 0.5 -13 -0.5 34 0zM446 535l-19 0.5 -14.5 -0.5 34.5 0 -1 0z"/></g></g>
<defs><clipPath id="hia"><rect x="121.6" y="93.4" width="339.90" height="199.20"/></clipPath><filter id="fhia" x="-2%" y="-2%" width="104%" height="104%"><feGaussianBlur stdDeviation="0.6"/></filter></defs><g clip-path="url(#hia)"><g filter="url(#fhia)"><path fill="#dbd8ee" fill-rule="evenodd" d="M400 269.5l-0.5 -0.5 -0.5 -4.5 -2 2 -1 3 -1.5 -1.5 -0.5 -3 -1 -1.5 0 3.5 -1 0.5 -0.5 -0.5 -0.5 -3.5 -1 1 0 3.5 -1 0.5 -0.5 -0.5 -0.5 -4.5 0 5.5 -1 0.5 -1 -3 0 2.5 -1 0.5 -0.5 -0.5 -0.5 -3.5 0 2.5 -2 0.5 -2 -6 0 5.5 -1 0.5 -1 -3 -1 1 -0.5 -0.5 -0.5 -4.5 0 6.5 -1 0.5 -0.5 -0.5 -0.5 -3 -1 -2.5 0 4.5 -1 0.5 -1.5 -4.5 -0.5 -5.5 0 7.5 -2 2.5 -1 -3 0 2.5 -1 0.5 -0.5 -0.5 -0.5 -3.5 -1 0 0 3.5 -1 0.5 -0.5 -0.5 -0.5 -3.5 0 2.5 -2 1.5 -1 -1 -2 2 -1 -1 -1 1 -1.5 -1.5 -0.5 -2 -1 -1.5 -1 2 -0.5 -0.5 -0.5 -2.5 0 2.5 -2 1.5 -0.5 -0.5 -0.5 -7.5 0 8.5 -1 0.5 -1.5 -0.5 -0.5 -3.5 0 4.5 -1 0.5 -1.5 -2.5 -0.5 -3.5 0 3.5 -1 0.5 -1 -2.5 0 5 -1 0.5 -0.5 -0.5 -0.5 -4.5 0 3.5 -1 0.5 -2 -3 -2 3 -0.5 -0.5 -0.5 -4.5 0 4.5 -1 0.5 -0.5 -0.5 -0.5 -2.5 0 2.5 -1 0.5 -1 -2 -1 2 -0.5 -0.5 -0.5 -4.5 0 4.5 -1 0.5 -1 -1 -2 1 -1 -2 -1 1 -0.5 -0.5 -0.5 -3.5 -3 1 -1 3 -3 -1 -0.5 -0.5 -0.5 -3.5 0 5.5 -1 0.5 -3 -3 0 3.5 -1 0.5 -0.5 -0.5 -0.5 -6.5 0 5.5 -1 0.5 -1 -3 -1 0 0 3.5 -1 0.5 -2.5 -1.5 -0.5 -3 -0.5 -1 -1.5 -5.5 0 6.5 -2 2.5 -1 -1 -4 1 -1.5 -1.5 -0.5 -2.5 0 3.5 -1 0.5 -1 -3 -1.5 -0.5 -0.5 -3.5 -1 2.5 0 4 -1 0.5 -2 0 -1 1 -0.5 -1.5 -2 -1 -0.5 -3.5 0 3.5 -2 1.5 -0.5 -0.5 -0.5 -3.5 0 3.5 -1 0.5 -0.5 -0.5 -0.5 -2.5 0 3.5 -3 1.5 -1.5 -1.5 -0.5 -6.5 0 4.5 -1 0.5 -1 -1 -1 3 -0.5 -0.5 -1.5 -9.5 0 5.5 -2 2.5 -0.5 -0.5 -0.5 -3.5 0 4.5 -1 0.5 -1 0 -0.5 -1.5 -2 -1 -0.5 -2.5 0 1.5 -2 0.5 -1 3 -1.5 -2.5 -0.5 -3.5 0 6.5 -1 0.5 -0.5 -0.5 -0.5 -9.5 0 6.5 -3 3.5 -1 -3 0 2.5 -2 1.5 -0.5 -0.5 -0.5 -5.5 -1 3 -1.5 -1.5 -0.5 -2.5 -1 4.5 -3 1.5 -1.5 -0.5 -0.5 -5.5 0 5.5 -2 1.5 -1 -3 -1 2 -1.5 -1.5 -0.5 -3.5 -1 0 0 5.5 -1 0.5 -0.5 -0.5 -0.5 -4.5 -2 3 -0.5 -0.5 -1.5 -6.5 0 4.5 -2 0.5 -1 3 -1.5 -0.5 -0.5 -7.5 -1 1 0 6.5 -2 1.5 -0.5 -0.5 -1.5 -8.5 0 4.5 -2 3.5 -1 -1 -2 1 -0.5 -0.5 -0.5 -3.5 -1 2 -1 0 -0.5 -0.5 -0.5 -3.5 0 4.5 -2 1.5 -0.5 -1.5 -1.5 0.5 -1 -3 -1 -1 -1 1 -1 -2 -1 1 -1 -1 0 4.5 -2 1.5 -1 0 -1 -2 -1 1 -0.5 -0.5 -0.5 -3.5 -1 4.5 -1 0.5 -0.5 -0.5 -1.5 -3.5 0 3.5 -1 0.5 -0.5 -0.5 -0.5 -6.5 0 6.5 -1 1 -54 0 -1 -1 0 -21 0.5 -18 0.5 -3.5 54 0 1 -3.5 1.5 1 0.5 3 3 0 2.5 -3 1.5 -0.5 1.5 0.5 0.5 2.5 5 0.5 5 -0.5 2 1 2 -0.5 0.5 -4 1.5 -0.5 4 1.5 1 3.5 2.5 -0.5 0.5 -2.5 1 -0.5 1 0.5 1 3 4 -1.5 7 2 1.5 -3 1.5 0.5 1 2 6 -1.5 1 -2 1 0 1 3.5 6 -1 2 1 4 -2 3 2.5 2 -1.5 3 -0.5 3 0.5 0.5 -4.5 2.5 -0.5 0 -0.5 -1 -3 -2 3 -3 -7.5 -3 4 -1 -0.5 -1 1.5 -0.5 -0.5 -0.5 -4 0 3 -1 0.5 -1 -0.5 -1.5 -3 -0.5 -4.5 -1 3.5 -1 -2.5 -2 1 -1 4 -1 -3 -1 1.5 -0.5 -1 -0.5 -5 -2.5 -2 -0.5 -5.5 -0.5 8.5 -1.5 1 -2 -0.5 -1 3.5 -1 0 -2 -8 -2 7.5 -1 -1 -1 0.5 -1 -2.5 -1 1.5 -1 -4 1 -3 0 -2.5 -1.5 0.5 0 3 -3.5 1.5 -1 2 -1.5 -1.5 -0.5 -4 -2 4 -1 0 -1.5 -2 -0.5 -3 -1.5 1 -1 5 -1.5 -2.5 -1 3 -1 -4 -2 -2 -0.5 2.5 -1.5 1 -2 -7 -2 0 -1 3 -1 -1.5 -0.5 0.5 0 5 -0.5 1 -1 -3 -1 2.5 -3 -4.5 -0.5 -3 -1.5 -2 -0.5 5 -1 1 -2.5 -0.5 -2 2 -1 -2 -1 2.5 -1 0.5 -1 -1 -1 3 -54 0 -1 -13.5 0.5 -36 54.5 -0.5 1 0.5 2 -1 5 1 2 1.5 2 -1.5 2 -0.5 0.5 -2.5 2.5 -1.5 1 3 2 -1.5 3 2.5 1 -3.5 2 1 3 -1.5 3 3.5 1 -0.5 3 -5.5 2 3 2 -1 3 2.5 1 0 1 -2.5 3 -2.5 2 1 1 1.5 2.5 -3 -0.5 -2 2 -2 2 -5.5 1 -0.5 1.5 2 0.5 3 0.5 -2 2.5 -3 2 3 1 -3 2 -1 4 -5.5 2.5 1.5 1.5 3 4 -8 1 1.5 1 -1.5 1 0 3 5 1 -2.5 2 -0.5 2 -2.5 1 0 2 1 3 -5.5 2 1 3 -6 1 -1 3 4.5 3 -0.5 3 4 1 0 3 -3 1 2 1 -1 1 0.5 1 -2.5 2 2 1 3 2 -0.5 1 -3.5 2 1.5 1 2.5 1 0 7 0 1 -3 2.5 3 0.5 3 1 0.5 2 -1.5 2 0.5 0 -2 -2.5 -0.5 0.5 -1.5 3 1 2 -2.5 2 0 3.5 3 -1.5 1 1 2.5 1 0.5 1 -2.5 2 1.5 2 5.5 2 -6.5 1.5 1 4 8 1.5 6.5 1 0 1 -2.5 2.5 3 0.5 2 1 -1 0.5 -3 1.5 -2 1 2.5 2 -0.5 1 1.5 2 -1 2 0.5 1.5 3 -0.5 1.5 2 5 3 -3 1 2.5 3 1 2 -0.5 1 -2 2 -0.5 1 2.5 2 2 1 -2.5 1 -0.5 4.5 3.5 0.5 1 -1 1 3 -1 1 -1.5 5 5 3 -5 1 1.5 2 0 2 -2.5 1 0.5 1 2 2 1 3 -2.5 2 1 56 0 1 3.5 0 14 0 27 -1 5.5 -56 0 -1 -6 -2 4 -2 -6.5 -3 4 -1 0 -4 -3.5 -3 0.5 -2 -3 -1 1.5 -2 -3 -1 3.5 -1.5 0 -0.5 -2 -1 4.5 -2 -3 -1 3 -2 -7 -0.5 4.5 -1.5 4 -2.5 -3 -0.5 -3 -2 5.5 -1 -4 -2 -2.5 -2 5 -1.5 -4 -0.5 -6 -1 2 1 2 -1 3 -2 -4 -3 8.5 -1 -2 -2.5 9.5 -1.5 -0.5 -2 3.5 -1 -1 -1 -3 -2 3 -4 -4 -1 -0.5 -2 3 -1.5 -2.5 -3.5 -0.5 -1 1.5 -0.5 2 -1.5 2 -3 7 -1 -3.5 -1.5 -1.5 -2.5 0 -1 -2 -2 -0.5 -2 -3.5 -1 0 -1 3 -3 1 0 1 -2 1.5 -1.5 0.5 0.5 2 -1 0.5 -2 0 -1 -1 -1 1 -4 0.5 -1 2 -2 -3.5 -1 0 -1 1 -0.5 -0.5 0.5 -1 -1 -1.5 -2 6.5 -1 -2.5 -2 3.5 -1 -1 -2 1 -1 0 -1 -2.5 -1 0.5 -2 -1 -1 0.5 -1.5 -1.5 3 -1 -2.5 -2.5 -1 0.5 1 2 -3 3.5 -1 -0.5 -1 -1 -1 -6 -2 2 -1 3.5 -3 1 -2 2 -1 -1.5 -1 3.5 -1 -2 -1.5 2.5 0.5 2.5 2 -1 3 2 3 -2.5 3 1.5 3.5 -0.5 1.5 -2.5 1 2 3 0 1 -2.5 1 -0.5 2 3.5 2 1 4 -1 1 -1.5 1 1.5 2 -1 3 1 4 0.5 5 -3.5 1 0.5 1 3 3 -0.5 1 -1.5 1.5 1.5 2.5 1 1 -3.5 4 -0.5 1.5 1 0.5 2.5 2 1 2 -4.5 1 0.5 1 2.5 8 0 0.5 -4 1.5 -1 1 1 -0.5 1 1 3 1.5 0.5 1.5 -0.5 0.5 -2 1 -1 4 0 1 3 1 0 1 0 1 -2 2 -0.5 1 2.5 1 0.5 10 -0.5 1 -3 1 -0.5 4 0 6 3.5 1 -2.5 4 -0.5 1 0.5 1 2.5 3 -0.5 2 0.5 2 -2.5 3 0 2 2.5 4 0.5 1.5 -0.5 0.5 -2.5 1 2 56 0 0.5 0.5 0.5 42 -1 1 -56 0 -1 -1 0 -4.5 -1 -1 -2 1 -1 -3 -1 7.5 -2 1.5zM257 127l-2.5 0 1.5 -1.5 1 1.5zM285 130l1 -1 0 -1.5 -1.5 0.5 0.5 2zM267 135l1 -1 -2 1 1 0zM246.5 143l0.5 -5 -1.5 1 0 4 1 0zM294.5 143l-0.5 -4.5 0 4.5 0.5 0zM252.5 149l-0.5 -4.5 -0.5 4.5 0.5 0.5 0.5 -0.5zM184 158l-2 0 -1 -1 1 -2 2 0 1 2 -1 1zM396.5 197l-1 0 1 0zM239 203l1 -3 -1 0 0 3zM231.5 205l-1.5 -3 0 2 1 1.5 0.5 -0.5zM218 208.5l0 -1 0 1zM258 210l0 -2 -1 -0.5 0 2.5 1 0zM312 219l-1 -1 1 -0.5 0.5 0.5 -0.5 1zM322 221l-1.5 -2 0.5 -2 2 1 -1 3zM282 222l-0.5 0 0.5 0z"/><path fill="#b2add9" fill-rule="evenodd" d="M265 221l-1 -1 -1 1 -1 -6.5 -2 -1.5 0 -6.5 -2 -1.5 0 -4.5 -1 -2 -1 0 -1 2.5 0 3.5 1.5 1.5 -0.5 6 -3 3 -3 -3 -1 2.5 -1 -0.5 0 -6 -3 -3 1 -1 0 -8.5 -2 0 -0.5 1.5 1.5 1 0 9 -2 3 -1 -0.5 -1 3 -1 -3.5 -1 2 -1 -2 0.5 -3 1.5 -2.5 0.5 1.5 1.5 -0.5 0 -8 -1 1.5 -1.5 0 -1.5 2 0 5 -1 0.5 -1 -0.5 0 -6.5 -2 0.5 0 9 -1 0.5 -1 -0.5 -1 -7 -1.5 1 -1.5 2.5 -0.5 -0.5 -0.5 -5 -1 2 -1 8.5 -1 -0.5 -1 0.5 -1 -2.5 -1 1 -0.5 -2 1.5 -3 0 -4.5 -1 0 -1 1 -1 0 0 4.5 -1 0.5 -2 -2 -1 4.5 -1 -2 -1 -4 -2 3 -1 0 -2 -3.5 -2 0.5 -1 4 -1 -2 -1 2.5 -1 -6.5 -1 2 -1 -1 -2 3 -1 -5 -1 -0.5 -2 0 -1 1.5 -1 -1 -1 0 -2 5.5 -2.5 -2.5 -0.5 -3 2 -1.5 0 -2 -4 0 -1 2 0 4.5 -1 1 -1 0 -1 -1.5 -1 1 -1 0 -1 -1.5 -2 2.5 -1 -0.5 -55 0 -1 -20 1 -24 57 -0.5 1 0.5 3 -0.5 3 1.5 2 -1.5 2 -0.5 2 -3 1 0 1 2.5 2 -1.5 3 2 1 -2 2 1 3 -1.5 3 3 1 0 1.5 -3.5 1.5 -2 2 2 2 -2 2 3 2 0 4 -4 3 3 7 -13 2 4.5 1 -0.5 0.5 -3 1.5 -2 2 3 1 -2 2 -1 4 -6 3 3 -2 0.5 -1 -0.5 0 7 1.5 0 1.5 -6 1 0.5 1 -0.5 3 -7 1 0.5 2 -1.5 2 4 1 0.5 1 -1 2 -0.5 2 -2.5 1 -0.5 2 1.5 3 -6 2 1.5 4 -7 3 4.5 2 -1 2 1 2 6 1 -0.5 1 -3 2 -2 3 0.5 1 -1.5 3 3.5 2.5 -0.5 0.5 -2 1 0 1 1.5 0 1.5 6 -0.5 2 1 2 -2.5 1 0.5 3 8.5 1 -1 0.5 -4 1.5 -0.5 1 1 4 -5 2.5 1.5 1.5 9 2 -5.5 2 1.5 2 4.5 2 -6 5 8 2 7 1.5 -0.5 0.5 -1 3 4 1.5 -2 1 -3 0.5 10 -2.5 1 0 2 0.5 1 1 0 0.5 -3 2.5 -2 0 -5 1 -2.5 1 1.5 2 -1 2 1 3 9 3 -2.5 4 2.5 5 -2 3 4 2 -3 3 3 -1 1 2 1 5 -1.5 4 4.5 3 -4.5 3 0 2 -1 4 3 3 -2.5 1 1 57.5 0 0.5 24 -1 20 -56 0 -1 -3 -2 3.5 -1.5 -3.5 0.5 -5 -1 -0.5 1 3.5 -2 1 -1 2 -2 0.5 -2.5 -2.5 1 -1 -2.5 -1.5 0 1.5 -3 1.5 -0.5 -0.5 -0.5 -3 -1 0 -1 2 -1 -5 -1 0 -1 4.5 -1 0 -1 -2 -1 1.5 0.5 1 -0.5 1.5 -2 -2.5 -1 2 -1 -6.5 -2 2 0.5 2.5 -1.5 4 -2 -2 -1 -3.5 -2 5 -2 -5.5 -1 0.5 -1 -0.5 0 -2 -1 6 -0.5 -2 -0.5 -10.5 -1 4.5 -2 2.5 -1 0 -1 -2 0 5.5 -2 3.5 -1 -2.5 -1 4 -1 0 -1 6 -1 0.5 -2 4 -0.5 -0.5 -0.5 -3 -2 -0.5 -1 3 -1 -3.5 -1 0.5 -1 -2.5 -1 1 -1 -1 0 -6.5 -1 -0.5 0 3 -2 1 0 3 -2 1.5 -2 -0.5 -2 1.5 0 2.5 -4 7 -1 -3 2.5 -3 -0.5 -4.5 -1 0 -1 6.5 -1 0.5 -1 -0.5 0 -2.5 0 2.5 -1 0.5 -1 -0.5 0 -5 -1 -0.5 0 2.5 -1 1 -2 -2 0 -2.5 -2 -0.5 -1.5 1 -0.5 3 -1 0.5 -1 -0.5 0 -3.5 -1 0.5 0 6 -1 1 -3 0 -1 2 -1 -1.5 -1 1.5 -0.5 -1 1 -2 -0.5 -3.5 -2 -0.5 0 -2.5 -1 0 0 6 2 1.5 0 2 -4 2 -0.5 -1 1.5 -2.5 -1 -0.5 -1 2.5 -2 -2.5 0 -1.5 2 -0.5 -2 -6 -1 0.5 0 3.5 -3 9 -2 -2 0 -9 -1 0.5 0 4.5 -2 2 0 1.5 1.5 0.5 1 2 -0.5 1 -1 -1 -2 1.5 -1 -0.5 -1 -2 -1 1.5 -2 -5 -1 0.5 -2 -1 -1 1 0 4 -2 0.5 -0.5 -0.5 -0.5 -11.5 -1 -1 0 6.5 -2 1 -1 -1 -1 -6.5 -1 -0.5 -1 1 0 5.5 2 1.5 0.5 2 -0.5 1 -4 2.5 -1 -1.5 -1 3zM276.5 135l1 -6 -0.5 -1 -1.5 0 -1 1 0 5 0.5 1 1.5 0zM271 137l0 -1.5 -2 -0.5 0 -2 -1 -0.5 -1 1.5 -2 -1.5 -1 0.5 0 2 3 0.5 1 -0.5 1.5 2 1.5 0zM256 136l-1 0 1 0zM300.5 137l-0.5 -1.5 0.5 1.5zM295.5 144l-0.5 -6 -2 0 0 5.5 2.5 0.5zM267 143l0 -4.5 0 4.5zM251 151l2 -2 0 -4 -1 -1 -1 1 0 6.5 0 -0.5zM309.5 153l0 -8 -3.5 0 0 1 2.5 2 0 4 1 1zM237.5 152l-0.5 -4.5 0.5 4.5zM258 152l0 -3.5 0 3.5zM330.5 156l-0.5 -2 -0.5 2 0.5 1 0.5 -1zM199.5 158l-1.5 0 1.5 0zM294 160l1 -1 -1 -1 -1 1 1 1zM210 196l0 -2 -1 0 0 2 1 0.5 0 -0.5zM363 194.5l0 -1 0 1zM202 197l0 -1.5 0 1.5zM186 197.5l0 -1 1 0.5 -1 0.5zM316 204l0 -5.5 -1 1 0 5 1 -0.5zM275.5 205l0.5 -3 -1 -1.5 0 5 0.5 -0.5zM282 204l0 -2.5 -1 -1 0 4 1 -0.5zM306 205l0 -4.5 -1 1 0 2.5 1 1zM267.5 205l0.5 -1 -1.5 -1 -0.5 -2 -1.5 3 0 1 3 0zM191 203.5l0 -1 0 1zM285.5 213l0.5 -1 0 -9.5 -3 4.5 0 6 2.5 0zM252 204l0 1 0 -1zM230 210l-1 0 -1 -2 1 -3 2 1 -1 4zM340 207.5l-0.5 -1.5 0.5 -0.5 0 2zM245 210l0 -1.5 0 1.5zM247 211.5l0 -2 1 0.5 -1 1.5zM258 215l-1 -3.5 1.5 1.5 -0.5 2zM251 216l0 -1.5 0 1.5zM260 217l-1 1 -0.5 -2 1.5 -0.5 0 1.5zM310 217l0 -1.5 0 1.5zM280 217l-0.5 0 0.5 0zM322 219l-1 -1 1 -0.5 0 1.5zM400 269.5l-1 -5 -2 2 -1 3 -1.5 -1.5 -0.5 -3.5 -1 -1 -1 4 -1 -4 -1 1.5 -0.5 3 -1 0 -0.5 -4.5 -1 6 -1 -3 -0.5 2.5 -1 0 -0.5 -3.5 -0.5 2.5 -1.5 0.5 -2 -6 -1 6 -1 -3 -1 1 -0.5 -0.5 -0.5 -4.5 -0.5 6.5 -1 0 -1.5 -5.5 -1 5 -1.5 -4.5 -0.5 -5.5 -0.5 7.5 -1.5 2.5 -1 -3 -0.5 2.5 -1 0 -0.5 -3.5 -1 0 -1 4 -1 -4 -0.5 2.5 -1.5 1.5 -1 -1 -2 2 -1 -1 -1 1 -3 -5 -0.5 1.5 -1 0 -0.5 -2.5 -0.5 2.5 -1.5 1.5 -1 -8 -0.5 8.5 -2 0 -0.5 -3.5 -1 5 -1.5 -2.5 -0.5 -3.5 -1 4 -1 -3 0 0.5 -1 5.5 -1 -5 -1 4 -2 -3 -1.5 2.5 -1 0 -0.5 -4.5 -0.5 4.5 -1 0 -0.5 -2.5 -0.5 2.5 -1 0 -0.5 -1.5 -1 2 -1 -5 -0.5 4.5 -0.5 0.5 -1 -1 -2 1 -1 -2 -1 1 -0.5 -0.5 -0.5 -3.5 -3 1 -1 3 -3 -1 -1 -4 -1 6 -3 -3 -0.5 3.5 -1 0 -0.5 -6.5 -0.5 5.5 -1 0 -0.5 -2.5 -1 0 -1 4 -2.5 -1.5 -2.5 -9.5 -0.5 6.5 -1.5 2.5 -1 -1 -4 1 -1.5 -1.5 -0.5 -2.5 -1 4 -1 -3 -1.5 -0.5 -0.5 -3.5 -2 7 -2 0 -1 1 -0.5 -1.5 -2 -1 -0.5 -3.5 -0.5 3.5 -1.5 1.5 -1 -4 -0.5 3.5 -1 0 -0.5 -2.5 -0.5 3.5 -2.5 1.5 -1.5 -1.5 -0.5 -6.5 -0.5 4.5 -0.5 0.5 -1 -1 -0.5 2.5 -1 0 -1.5 -9.5 -0.5 5.5 -1.5 2.5 -1 -4 -1 5 -1 0 -0.5 -1.5 -2 -1 -0.5 -2.5 -0.5 1.5 -1.5 0.5 -1 3 -1.5 -2.5 -0.5 -3.5 -1 7 -1 -10 -0.5 6.5 -2.5 3.5 -1 -3 -0.5 2.5 -1.5 1.5 -1 -6 -1 3 -1.5 -1.5 -0.5 -2.5 -1.5 4.5 -2.5 1.5 -1.5 -0.5 -0.5 -5.5 -0.5 5.5 -1.5 1.5 -1 -3 -1 2 -1.5 -1.5 -0.5 -3.5 -1 0 -1 6 -1 -5 -0.5 1.5 -1.5 1.5 -0.5 -0.5 -1.5 -6.5 -0.5 4.5 -1.5 0.5 -1 3 -1.5 -0.5 -0.5 -7.5 -1 1 -0.5 6.5 -1.5 1.5 -2 -9 -0.5 4.5 -1.5 3.5 -1 -1 -2 1 -1 -4 -0.5 1.5 -1.5 0.5 -1 -4 -0.5 4.5 -1.5 1.5 -0.5 -1.5 -0.5 -0.5 -1 1 -1 -3 -1 -1 -1 1 -1 -2 -1 1 -1 -1 -0.5 4.5 -1.5 1.5 -1.5 -0.5 -0.5 -1.5 -1 1 -0.5 -0.5 -0.5 -3.5 -2 5 -2 -4 -1 4 -1 -7 0 6.5 -1 0.5 -54 0 -0.5 -0.5 0 -39 0.5 -2.5 54 0 1 -2 2 3 3 0 4 -3.5 2 2.5 12 1 2 -0.5 1 -3.5 2 0 2 2.5 2 1.5 6 0 4 -1.5 8 2 4 0 4 -1.5 4 1 6 -0.5 2 1 4 -2 3 2.5 2 -2 3 -0.5 4 1 1 -1.5 2 2 2 -1 3 2 3 -2 3 1.5 2 -1 3 0.5 3 -1 2 0.5 1 -1.5 1 2 3 1 6 -1 2 -1.5 3 1.5 7 0 2 -0.5 6 1 3 -0.5 2 1.5 3 0.5 3 -1.5 2 0.5 3 -1.5 14 1 6 -2 3 1.5 4 -1 2 1 7 0 3 -0.5 2 -2.5 11 3.5 4 -1.5 1 1 4 -1 5 1 10 0 1 -1 56 0 1 20.5 0 21 -1 0.5 -56 0 -0.5 -0.5 -0.5 -4.5 -1 -1 -2 1 -1 -3 -1.5 7.5 -1.5 1.5zM324 228.5l-1.5 -0.5 0 -1 1.5 -1.5 0 3z"/><path fill="#7a74ba" fill-rule="evenodd" d="M288 219l-2 -1.5 -1 2 -1.5 -3.5 -0.5 -2 3 -1 0 -12 -1 4 -2 1 -1 -1 0 -4 -1 -1 0 5 2 1 0 8 -1 0.5 -3 -0.5 -0.5 5 -1.5 0.5 -0.5 -0.5 0 -12 -1 -1 1 -1 0 -4 -1.5 -2 -0.5 14 -1.5 0.5 -2 -7.5 -2 0 -1 -3 -1.5 0 -0.5 -6 0 4 -2 4 4 0 1 1 0 7 2 1 -0.5 2 -3.5 2 -1 -1 -1 3 -1 -1 -1 1 -0.5 -6 -2 -1 -0.5 -7 -1.5 -1 0 -5 -1.5 -2 -1 0 -1 2 0 5 1 1 -0.5 6 -2.5 1.5 -2.5 -1.5 -0.5 -1.5 -1 2.5 -0.5 -5 -2.5 -3 0 -12 -1 2.5 -1 -0.5 -1 1.5 -1 -0.5 -1 1.5 -2 0.5 -1 2 -1 5.5 -1 -7.5 -1 0 -1 1 -1 9.5 -2 -8 -2 1.5 -0.5 2 -0.5 0.5 -0.5 -0.5 -0.5 -6 -1 3 -1 7 -1 -1 -1 1 -1 -2 -1 1 -0.5 -1 1.5 -1 0 -7 -1 0 -1 1.5 -1 -0.5 -1 5.5 -2 -3.5 -1 5 -2 -6 -2 3 -3 -3 -2 1 -1 3 -1 -2.5 -1 2.5 -1 -9.5 0 4.5 -1 1 -1 -1 -2 3 -0.5 -4 0.5 -2 -1 -0.5 -2 2 -4 0 -2 5 -2.5 -1.5 0 -3 2 -1 -0.5 -5 -1 2.5 -3 -1.5 -1 2 0 6 -1 0.5 -1.5 -0.5 -0.5 -2 -1 2.5 -2 -2.5 -2 2.5 -1.5 -1.5 -0.5 -3 -54 0 -0.5 -23 0.5 -15.5 55 -0.5 3 1.5 3 -1.5 3 1 4 -1.5 2 -2 2 1.5 0 4 1 0.5 1 -1.5 0 -4 1 -0.5 1 1.5 2 -0.5 1 1.5 1.5 0 2.5 -2.5 3 3.5 2.5 -5 1.5 -1 1 2 1 0.5 2 -3 2 2.5 3 0 3 -2.5 3 1.5 1.5 -3 2.5 -3 2 -5.5 1 -0.5 2 4 1.5 -1 0.5 -4 1 1 0.5 2 -0.5 17 1 -0.5 0.5 -7.5 0.5 -2 -1 -7 4 -3 3 -4.5 1 8 2 -0.5 3 -4.5 2 1.5 -1 4 0 7 2.5 -3 -1 -10 -1.5 -2 2 -4.5 1.5 1.5 -0.5 3 2.5 0 3.5 -2.5 2 0 1 1 4 1.5 -1 1 0 5 1 3 1 -2 0 -6 4 -1 0.5 -3 -0.5 -5 2.5 -6 1.5 -1.5 3.5 5.5 -5 1 -1.5 1 0 5 2 2 2 -0.5 1 -2.5 1.5 0 0.5 -5 3 -1.5 1 2.5 0 7 1 1 1 -1 -0.5 -4 1.5 -3.5 2 -2 3 0.5 1 -1.5 3 2.5 4 -1 4 4.5 1 -0.5 -1 -1.5 2.5 -0.5 2.5 1 2 -2.5 2 2 1 6 1 0 2 -0.5 0 -4 2 0 4 -4 2 1 0.5 1 1 8 2 0 -0.5 -3 1 -2 2 1.5 1 3 1 0 2 -4.5 5 8 1.5 5 0.5 0.5 2 0 3 3 1.5 -0.5 0.5 4 -2 2 0 3 1 0.5 1.5 -0.5 0.5 -3 2 -1 0.5 -6 0.5 -1 1 1 2 -0.5 2 1 3 7.5 3 -1.5 4 1.5 5 -1 3 3 2 -1.5 2 2.5 2 1 5 0 4 4 3 -4.5 5 -1 4 3.5 2 -2.5 1 0 1 0.5 1 -0.5 56 0 1 15.5 -1 23 -56 0 -3 4 -1 -2 0.5 -5 -1.5 -2 0.5 4 -2.5 3.5 -2 -0.5 -4 -4 0 2 -3 1.5 -1 -5.5 -1 0 -1 3 -1 -5.5 -1 -0.5 -1 5 -1 0 -1 -1.5 -2 2.5 -1 -1 -1 2 -0.5 -1 -0.5 -6.5 -2 3.5 0 4 -1 1.5 -2 -2 -1 -4 -1 1 -1 4.5 -1.5 -2 0 -2 -2 0 -0.5 -5 -0.5 7 -0.5 1 -0.5 -1 -0.5 -12.5 -1 1.5 -0.5 5 -2.5 2.5 -1 -2.5 -0.5 6 -1.5 2 -1 -3 0 3 -1 1.5 -1 -0.5 0 6 -1 1 -1 -0.5 -2 6 -1 -4 -2 0 -1 3 -1 -4.5 -1 1.5 -1 -3.5 -1 1.5 -0.5 -0.5 0 -7 -1.5 -0.5 -1 4 -1 -1.5 -1 6 -1 0.5 -2 -1 -1 -1.5 0 2 -1 1 -1 3.5 -1.5 -1.5 -0.5 -3 -1 -0.5 -1.5 7.5 -0.5 0.5 -0.5 -0.5 -0.5 -3.5 -1 4 -0.5 -5.5 -1.5 -2 0 4 -1 0.5 -1.5 -1.5 -0.5 -3 -3 -0.5 -0.5 -0.5 -0.5 -9 -1 3 0 6 -2 1 0 7 -1 0.5 -3 0 -1 1.5 -1 -1 -0.5 -3 -0.5 -12.5 -1 2.5 0 4 -2 1 0 7 -2 0.5 -1 -0.5 0 -3 -1.5 -4 -1.5 -0.5 0 4.5 -2 2.5 -1 5.5 -1.5 -5 -0.5 -7 -1 2 0 5 -2 1 0.5 4 -1.5 1zM282 126l-2 0 1 -0.5 1 0.5zM295 136l-1 -1.5 0 1.5 1 0zM246 137.5l0 -1.5 1 1 -1 0.5zM268 138l-1 -1 1 -1.5 1 1.5 -1 1zM296 144l0 -6 -3 -0.5 -1 -0.5 0 -2 -1 0 -1 1 3 2 0 6 3 0zM301 137l0 -1.5 -2 0 0 1.5 2 0zM309.5 154l0.5 -1 0 -7 -0.5 -7 -3.5 -1 -1 1 0 8 3 1 0 5.5 1.5 0.5zM258.5 154l0.5 -1 0 -4 -1 -1.5 -1 1 0 4.5 1.5 1zM331 157l0 -3.5 -1 -0.5 -1 0.5 0 3.5 2 0zM246 156l0 -1.5 0 1.5zM229 164l0 -5.5 -2 -0.5 0 3 2 3zM294 161l1 -3 -2 -0.5 0 2.5 1 1zM222.5 166l0.5 -7 -1 -1 -0.5 1 0 2 0.5 5 0.5 0zM360.5 159l-0.5 -1 0.5 1zM225.5 168l-1.5 0 1.5 0zM202 189l0 -1 0 1zM384.5 191l-0.5 -1 0 1.5 0.5 -0.5zM197 194l0 -4 0 4zM185 192l0 -1 0 1.5 0 -0.5zM213.5 197l-0.5 -5 0 5.5 0.5 -0.5zM210.5 197l0 -3 -1.5 -1 0 4 1.5 0zM334 197l0 -4 0 4zM217 197l0 -1 0 1zM254 197l-1 -1 0 1 1 0zM241 211l-1 -5 2 -1 0.5 -7 1.5 -1 1 1 0 9 -2 2.5 -1 -0.5 -1 2zM252.5 205l-0.5 -2.5 -1 2.5 1.5 0zM310 205l0 -3 -1 3 1 0zM229 209l-0.5 -3 1.5 -1 0.5 3 -1.5 1zM239 210l-0.5 -2 0.5 -2.5 1 0.5 0 3 -1 1zM305 209.5l-0.5 -3.5 0.5 -1 1 1 0 2 -1 1.5zM315 210.5l-0.5 -4.5 1.5 -1 1 1 -2 4.5zM252 211l0 -1 0 1zM264 213l0 -1 0 1zM300 215l-1 -1 1 -1 1 1 -1 1zM304 216.5l-1.5 -1.5 0.5 -2 2 1 -1 2.5zM329 216l-0.5 -2 0.5 -1 1 1 -1 2zM400 269l-1 -5 -2 2 -1 3 -3 -6 -1 4 -1 -4 -2 5 -1 -5 -1 6 -1 -3 -1 3 -1 -4 -0.5 3 -1.5 0 -2 -6 -1 6 -1 -3 -1 1 -1 -5 -0.5 7 -2.5 -6 -1 5 -2 -10 0 6 -2 4 -1 -3 -1 3 -1 -4 -1 0 -1 4 -1 -4 -2 4 -1 -1 -2 2 -1 -1 -1 1 -3 -5 -1 2 -1 -3 -2 4 -1 -8 -0.5 9 -1.5 0 -1 -4 -1 5 -2 -6 -1 4 -1 -3 -0.5 1 -0.5 5 -1 -5 -1 4 -2 -3 -2 3 -1 -5 -0.5 5 -1.5 -3 -0.5 3 -1.5 -2 -1 2 -1 -5 -0.5 5 -1.5 -1 -2 1 -1 -2 -1 1 -1 -4 -3 1 -1 3 -3 -1 -1 -4 -1 6 -3 -3 -1 4 -1 -7 -0.5 6 -1.5 -3 -1 0 -1 4 -2 -1 -3 -10 -0.5 5 -1.5 4 -1 -1 -4 1 -2 -4 -1 4 -1 -3 -1 0 -1 -4 -0.5 1 -1.5 6 -2 0 -1 1 0 -1 -2 -1 -1 -4 -0.5 4 -1.5 1 -1 -4 -0.5 4 -1.5 -3 -0.5 4 -2.5 1 -1 -1 -1 -7 -0.5 5 -1.5 -1 -1 3 -2 -10 -0.5 6 -1.5 2 -1 -4 -1 5 -1 0 0 -1 -2 -1 -1 -3 -0.5 2 -1.5 0 -1 3 -2 -6 -1 7 -1 -10 -0.5 7 -2.5 3 -1 -3 -2 4 -1 -6 -1 3 -2 -4 -1.5 5 -2.5 1 -1 0 -1 -6 -0.5 6 -1.5 1 -1 -3 -1 2 -1 -1 -1 -4 -1 0 -1 6 -1 -5 -2 3 -2 -7 -0.5 5 -1.5 0 -1 3 -1 0 -1 -8 -1 1 -0.5 7 -1.5 1 -2 -9 -2 8 -1 -1 -1 1 -1 0 -1 -4 -0.5 2 -1.5 0 -1 -4 -0.5 5 -1.5 1 -1 -2 -1 1 -1 -3 -1 -1 -1 1 -1 -2 -1 1 -1 -1 -0.5 5 -1.5 1 -1 0 -1 -2 -1 1 -1 -4 -2 5 -2 -4 -1 4 -1 -7 -1 7.5 -54 0 -0.5 -0.5 -0.5 -14 0.5 -24 0.5 -2 54 0 6 1 4 -2 1 1.5 12 0.5 3 -0.5 1 -3 2 0 1 2.5 2 1 7 0 4 -1.5 7 2 5 0 4 -2 4 1.5 5 -0.5 3 0.5 4 -2 3 2.5 2 -1.5 4 -0.5 6 1.5 2 -1.5 3 2.5 3 -2 3 1 2 -0.5 3 0.5 3 -1.5 7 2.5 6 -1.5 2 -1 3 1.5 9 -0.5 3 1 6 -0.5 2 1.5 3 0 3 -1 2 0.5 3 -1.5 14 1 6 -1.5 14 1 7 -0.5 1 -1 7 0 3 1.5 2 -1 3 1 4 -1 5 1 11 -1 56 0 1 19 -0.5 21 -0.5 0.5 -56 0 -1 -5.5 -1 -1 -2 1 -1 -3 -1.5 8 -1.5 1z"/><path fill="#4a4c9f" fill-rule="evenodd" d="M277 127.5l-3 0 -0.5 -0.5 1 -3 1.5 -2 2 2 0 2 -1 1.5zM285 219l-1.5 -5 3 -1 -0.5 -12.5 -1.5 4.5 -1.5 0.5 -0.5 -4.5 -2 -1 0 5 2 1 0 8 -3.5 0 -0.5 5 -1.5 0.5 -0.5 -12.5 -1 -1 1 -1 0 -4 -1.5 -2.5 -0.5 14.5 -1.5 0.5 -1.5 -7.5 -2.5 -0.5 -1 -3 -1 0.5 -1 -6.5 -0.5 4.5 -1.5 4 4.5 1 0 7 2.5 2 -4 2.5 -1 -2.5 -1 4.5 -1 -2 -1 2 -0.5 -5.5 -2 -1 0 -7 -2 -1 0 -5 -1.5 -2.5 -1.5 0.5 -1 2 0 5 1.5 1 -0.5 6 -1.5 1 -1 0 -1 -1 0 -2.5 0 2.5 -1 0.5 -1 -4 -1 4 -0.5 -4.5 -2 -3 -0.5 -12.5 -1 3 -1 -1 -1 2 -1 -1 -1 2 -2 0.5 -1.5 2 -0.5 5 -0.5 -7 -1.5 -0.5 -1.5 1.5 -0.5 9 -2 -7.5 -2.5 1.5 0 2 -0.5 0 -1 -6.5 -1.5 3.5 -0.5 6.5 -1 -1 -1 1 -0.5 -0.5 -0.5 -9.5 -1 0 -1 2 -1 -0.5 -1 5.5 -2 -5 -1 6 -1.5 -5.5 -0.5 -8.5 0 8.5 -1 2 -1 0.5 -3 -3 -2.5 1.5 -0.5 2.5 -1 -4 -0.5 3.5 -0.5 0.5 0 -0.5 -1 -8.5 -0.5 4.5 -1 0 -0.5 -2.5 0 3.5 -2 1.5 -0.5 -0.5 0 -3 1 -1 -1.5 -2 0 -5.5 -1.5 7.5 -0.5 0.5 -1 -1 -1 1 -1 -1.5 -2 2.5 -1 3 -1 -1 -1 1 -0.5 -1.5 0 -2 2 -1 0 -5 -0.5 0 -0.5 2 -1.5 0.5 -0.5 -0.5 -0.5 -3.5 -2 3.5 -1 7.5 -1.5 -0.5 -0.5 -2.5 -0.5 2.5 -1 0 -1.5 -4.5 -1 3.5 -1 0.5 -1 -0.5 -1 -4.5 -54 0 -0.5 -21.5 0.5 -14.5 55 -0.5 3 1 3 -2 2 1.5 2 0 6 -3.5 1 7 2.5 -2 0.5 -5.5 1 2 2 0 1 1 4 -2.5 3 4 3 -6.5 1 0 1 2.5 1 0.5 2 -4 2 3 3 0 3 -2.5 3 1.5 1.5 -3.5 2.5 -2 2 -6 1 0 2 3 1.5 -1 0.5 -3.5 1 1.5 0 19 1.5 -1 0 -7 1 -2 -1 -8 3.5 -2 3 -4.5 1 7 2 0 1 -2 1 0.5 1 -3 1 1 0 11.5 2.5 -3.5 0 -11 0.5 -0.5 4.5 -0.5 2.5 -2 1 0 1.5 2 1.5 0 1 1 0 9 2 0 0.5 -9 8.5 -1.5 1 -3 1 0.5 1.5 -1 0 -5 2.5 -1 1 10 2 0 0.5 -7 2.5 -3 1 1 0 9 2.5 1 0 6 3 1 1.5 4.5 1 -0.5 -0.5 -2 0.5 -2 0 -7 -5.5 -1 0.5 -1.5 1 1 1.5 -0.5 0 -7 2.5 -1.5 1 0.5 0 9.5 2.5 -0.5 -0.5 -6 1 -0.5 3 3 2 -0.5 1 1 0 2 1 1 -4 1 0 8 0 1 2.5 1 0.5 9 2 0 0 -1 0.5 -17 -1.5 -2 1 -2.5 0.5 -5.5 0.5 -1 2.5 3 0.5 15 0 1 1 0 1 -1 -0.5 -8 3.5 -2 0.5 -5 3.5 -3 2.5 1 0.5 8 3 0 -0.5 -3 0.5 -1 2 1 1 3 2 -0.5 1 -4 1 1 4 6.5 1 6 3 0 3 3 0 8.5 2 0 2.5 -1.5 1.5 -10 1 2 3 -1 1 1 3 7.5 1 0 2 -1.5 1.5 1 0.5 1.5 1 0 2 -2 3 0.5 1 -1 3 3.5 2 -1.5 2 2.5 3 1.5 3 -1 5 5 3 -5 5 -1 4 3.5 2 -2.5 2 1 57 -0.5 1 14.5 -1 21.5 -56 0 0 2.5 -2 0 -1 2.5 -0.5 -1.5 0 -5 -1.5 -2.5 0 5.5 -2 2.5 -2 -1 -0.5 -1.5 -3.5 -2.5 -0.5 2.5 -2.5 1.5 -1 -6.5 -1 0 -0.5 3 -0.5 0.5 -0.5 -0.5 -0.5 -6 -1 0 -1 5.5 -1.5 -0.5 -0.5 -4.5 -0.5 4.5 -1.5 1.5 -1 -2.5 -1 3.5 -1 -8 -2 4.5 -1 4.5 -2.5 -2.5 -0.5 -3.5 -1 1.5 -1 4.5 -1 -1.5 -0.5 -2 -1.5 0 -1 -6.5 -0.5 8.5 -0.5 0.5 -0.5 -0.5 -0.5 -14 -1 3 -0.5 5 -1.5 0 -1 2 -0.5 -2 -1 0 0 6 -1.5 1.5 -1 -4.5 -1 5.5 -0.5 -1.5 -0.5 0 -0.5 8 -0.5 0.5 -1 -1 -2 7 -1 -4 -2 -0.5 -1 3 -0.5 -4 -1.5 1.5 -1 -4 -1 2 -0.5 -0.5 0 -7 -1.5 -0.5 -0.5 3.5 -0.5 0.5 -1 -1.5 -1.5 6 -2.5 -0.5 -1 -1.5 -2 6.5 -1.5 -1.5 0 -3 -2.5 -1 0.5 4 -1 1 0 3 -0.5 0 -1 -3.5 -1 3.5 -0.5 -5 -1 -2 -1.5 4.5 -1.5 -1.5 -0.5 -3.5 -3.5 -0.5 -0.5 -9.5 -1.5 3.5 0 6 -1.5 1 -1 7.5 -3 0 -1 1 -0.5 -0.5 -1 -3 -0.5 -13 -1 3 0 4 -2 1 -0.5 7 -1.5 0.5 -0.5 -0.5 0 -3 -2 -4 -1.5 -0.5 -0.5 4.5 -1.5 1 -1 6.5 -1.5 -4.5 -0.5 -7.5 -1.5 2.5 0 5 -2 1 0.5 4 -1 0.5 -2 -1 -1 1.5zM253 138l-1.5 -1 1.5 -4 1 1 -1 4zM268 137.5l0 -2 0 2zM266 137.5l-1 -0.5 1 -0.5 0 1zM259 157l0.5 -9 -1.5 -0.5 -1 0.5 0 8 0.5 1 1.5 0zM263 149l0 -1 0 1zM322 153l0 -5 -1.5 0 -0.5 5 1 0.5 1 -0.5zM331.5 157l-0.5 -8 -1 -1 -1 1 0 8 2.5 0zM247 157l0 -3.5 -2 0 0 3.5 2 0zM226.5 168l-3 -1 0 -9 -2.5 0 0 9 2 0 1 2 2.5 -1zM229.5 165l0 -7 -2.5 -0.5 0 3.5 2.5 4zM294.5 161l1 -3 -2.5 -0.5 -0.5 2.5 1.5 1.5 0.5 -0.5zM361 161l0 -3 -2 0 2 3zM391.5 168l-2.5 0 1 0.5 1.5 -0.5zM202.5 189l-0.5 -1.5 0 1.5 0.5 0zM210.5 197l0 -3 -1.5 -1.5 0 4.5 1.5 0zM334.5 197l-0.5 -4.5 -0.5 3.5 1 1zM217.5 197l-0.5 -1.5 -0.5 1.5 1 0zM254.5 197l-1.5 -1 0 1 1.5 0zM241 210.5l-0.5 -4.5 2 -1 0 -7 1.5 -0.5 0.5 9.5 -1.5 2.5 -1 -0.5 -1 1.5zM310.5 205l-0.5 -3.5 -1.5 3.5 2 0zM252.5 205l-0.5 -2.5 -1.5 2.5 1.5 0.5 0.5 -0.5zM221 206.5l0 -1 0.5 0.5 -0.5 0.5zM230 208.5l-1.5 -0.5 0.5 -2.5 1.5 0.5 -0.5 2.5zM239 209.5l0 -4 0.5 2.5 -0.5 1.5zM305 209.5l-0.5 -3.5 0.5 -0.5 0.5 2.5 -0.5 1.5zM315 210l-0.5 -4 1.5 -0.5 0.5 0.5 -1 1 -0.5 3zM264.5 213l-0.5 -1.5 0 1.5 0.5 0zM300 214.5l-0.5 -0.5 0.5 -0.5 0 1zM304 216.5l-1.5 -1.5 0.5 -1.5 1.5 0.5 -0.5 2.5zM329 215.5l0 -2 0.5 0.5 -0.5 1.5zM464 268.5l-56 0 -1 -6.5 -1 -1 -2 1 -1 -3 -1.5 7 -1.5 2 -1 -5 -2 2 -1 3 -1.5 -2 -0.5 -3 -1 -1 -1 4 -1 -4 -1 1 -1 4 -1 -5 -1 6 -1 -3 -1 3 -1 -4 -1 3 -1 0 -2 -6 -1 6 -1 -3 -1 1 -0.5 -1 -0.5 -4 -1 7 -2 -6 -1 5 -0.5 -1 -1.5 -9 -1 9 -1 1 -1 -3 -1 4 -1 -5 -1 0 -1 4 -1 -4 -2 4 -1 -1 -2 1.5 -1 -1 -1 1.5 -3 -5 -1 1.5 -1 -2.5 -2 4 -1 -8 -1 9 -1.5 -1 -0.5 -3 -1 4.5 -2 -5.5 -1 3.5 -1 -2.5 -1 6 -1 -5 -1 3.5 -2 -2.5 -2 3 -1 -5.5 -1 5 -1 -2.5 -1 3 -1 -2 -1 2 -1 -5 -1 5 -1 -1 -2 1.5 -1 -2.5 -1 1 -0.5 -1 -0.5 -3 -3 1 -1 3 -1 0 -2 -1.5 -1 -3.5 -1 5.5 -3 -2.5 -1 3.5 -1 -6.5 -1 6 -1 -3 -1 -0.5 -1 4 -2 -1 -3 -9.5 -0.5 6 -1.5 3 -1 -1 -4 1 -2 -4 -1 4 -1 -3 -1.5 -1 -0.5 -3 -2 7 -2 0 -1 0.5 -0.5 -1.5 -1.5 -0.5 -1 -3.5 -0.5 3 -1.5 1.5 -1 -4 -1 4.5 -1 -3 -1 4 -2 1 -1.5 -2 -0.5 -6 -0.5 4 -0.5 1 -1 -1 -1 2.5 -2 -9.5 -0.5 5 -1.5 3 -1 -4 -1 5 -1 0 -1 -2 -1 0 -1 -3 -1 2 -1 0 -1 3 -2 -6 -1 7 -1 -10 -0.5 6 -1.5 3 -1 0.5 -1 -2.5 -2 4 -1 -6 -1 3 -2 -4 -2 4.5 -2 1 -1.5 -0.5 -0.5 -5 -0.5 5 -1.5 2 -1 -3 -1 2 -1.5 -2 -0.5 -3 -1 0 -1 6 -1 -5 -2 3 -0.5 -1 -1.5 -6 -0.5 4 -1.5 1 -1 2.5 -1.5 -0.5 -0.5 -7 -1 1 -0.5 6 -1.5 2 -2 -9 -2 8 -1 -1 -2 1 -1 -4.5 -1 2 -1 0 -1 -3.5 -0.5 4 -1.5 1.5 -1 -1.5 -1 1 -2 -4 -1 1 -1 -2 -1 1 -1 -1 -0.5 4 -1.5 2 -1 0 -1 -2 -1 1 -1 -4 -2 5 -2 -4 -1 4 -1 -7 -1 8.5 -54 0 -1 -15.5 0.5 -22 0.5 -2 54 0 6 1 3 -1 15 1 4 -2 4 2 7 0 4 -1.5 7 2 5 -0.5 4 -1.5 3 1.5 6 -0.5 3 0.5 3 -2 4 2.5 2 -1.5 4 -0.5 6 1.5 2 -1.5 3 2.5 3 -2 3 1.5 2 -1 3.5 0.5 2.5 -1.5 3 1.5 5 0.5 5 -0.5 2 -1.5 3 1.5 18 0 2 1 3 0.5 3 -1 3 0.5 2 -1.5 14 1 6 -1.5 14 1 12 -1.5 3 0 3 1.5 2 -1 3 1 4 -1 5 1 11 -1 56 0 1 18 -1 21.5z"/><path fill="#2e3993" fill-rule="evenodd" d="M277 127l-3.5 0 1 -3 1.5 -1.5 1.5 1.5 -0.5 3zM278 219l-1 0 -0.5 -12 -0.5 -1 0.5 -1 0 -4 -1.5 -2.5 -0.5 14.5 -1.5 0 -1.5 -7 -3 -1 0 -2 -1.5 -0.5 -0.5 -5.5 -0.5 -0.5 -0.5 0.5 0 4 -2 4 4.5 1 0.5 7 2 1 0 1 -3.5 2.5 -1 -3 -1 4.5 -1 -2.5 -1 2.5 0 -5 -2 -1 -0.5 -7 -1.5 -1 -0.5 -5 -1.5 -2.5 -1 -0.5 -1.5 3 0 5 1 1 -0.5 6 -1 1 -1 -0.5 -1 -3 -1 2.5 -1 -4.5 -1 4.5 0 -4 -2 -3 -0.5 -11 -0.5 -1.5 -1 2.5 -1 -0.5 -1 1.5 -1 -0.5 -1 1.5 -2.5 1 -1 2 -0.5 5 -0.5 -7 -1.5 -0.5 -1.5 1.5 -0.5 9 -2 -8 -2.5 2 -0.5 2 -1 -6.5 -1.5 3.5 -0.5 6 -1 -0.5 -1 0.5 -1 -9.5 -1 0 -1 1.5 -1 -0.5 -0.5 0.5 -0.5 5 -2 -5.5 -1 7 -1.5 -5.5 0.5 -8 -1 -1 -0.5 1 0 8 -1 2 -1 0 -2.5 -2.5 -2.5 1.5 -0.5 2 -1 -4.5 -1 4.5 0 -8 -1 -1 -0.5 1 -0.5 4 -1 -2.5 -0.5 3.5 -1.5 1.5 0 -0.5 -0.5 -3 1 -1 -1 -2 -0.5 -5.5 -1.5 7.5 -1.5 -1 -1 1.5 -1 -2 -2 3.5 -1 2.5 -1 -1.5 -1 1 -0.5 -2 0.5 -1.5 2 -0.5 0 -5 -1 -0.5 -0.5 2.5 -1.5 0.5 -1 -4 -2.5 3.5 -0.5 7 -1 0 -1 -2.5 -1 2.5 -2 -4.5 -1 3 -1 1 -1 -1 -1 -5.5 -54 0 -0.5 -20 0.5 -13.5 54 0 1 -1 3 0.5 3 -1.5 2 1 2 0 6 -3 1 7.5 2.5 -3 0.5 -5 1 1.5 2 0 1 1 2 0 2 -2 3 4 1.5 -1.5 1.5 -5 1 -0.5 0.5 2.5 1.5 1 2 -4 2 2.5 3 0.5 3 -2.5 3 1 1.5 -3.5 3 -2 1.5 -5.5 1 -0.5 2 3.5 1.5 -1.5 0.5 -3.5 1 20.5 1.5 -1 0 -7 1 -2 -0.5 -8 3.5 -2 2.5 -4.5 1 8 1 -1 1 1 1 -3 1 0.5 0.5 -2 1 0 0 11 0.5 1 1 -0.5 1.5 -3.5 0.5 -11.5 5 -0.5 1 -1.5 1 0 1 0 1 1.5 2 0.5 0.5 9.5 2.5 0 1 -9 8 -1 1 -3.5 1 0.5 1.5 -1 0.5 -5 1 -0.5 1 0 0.5 1.5 0 8 2.5 0.5 1 -7.5 2 -2.5 0.5 1.5 0 8 3 1 0 6 3.5 2 0 3 1 1 1.5 -1 -1 -2 1 -1 0 -8 3 -1 0 -6 1.5 0.5 2 2.5 1 -0.5 1.5 0.5 0 2 1 1 -4 1 0 8 0.5 1.5 2.5 0.5 0.5 9 2 0 0.5 -1 0.5 -17 -1.5 -2 1 -2 0 -6 0.5 -0.5 2.5 2.5 0.5 16 1 0.5 1.5 -0.5 0 -9 3 -1 0 -6 3.5 -2.5 2.5 0.5 0 8 -0.5 0.5 -2 0.5 0 1 2 1 1 -2.5 3 0.5 0.5 5 0.5 0.5 0.5 -5.5 3.5 -1 1 -3.5 1 0.5 4.5 8 0.5 5 3 -0.5 2.5 2.5 0.5 8.5 5 -0.5 1 -10.5 1 1.5 3 -0.5 1 1 3 7 1 0.5 2 -1.5 1 2.5 2 0 2 -2 5 0 2 2.5 2 -1 5 3.5 3 -0.5 5 4.5 3 -4.5 5 -1 4 3.5 2 -2.5 2 1 57 0 1 13.5 -1 20 -56 0 -0.5 4 -2 0 -0.5 2 0 -6 -2 -2.5 -0.5 5.5 -1.5 2 -6 -4.5 -0.5 2.5 -2.5 1 -0.5 -6 -2 0 -0.5 3 -1 -6.5 -1 0.5 -1 5 -1 0 0 -4 -1 -0.5 -0.5 4.5 -1.5 1.5 -1 -3.5 -1 4.5 -1 -9 -2.5 5.5 -0.5 4.5 -2.5 -2.5 -0.5 -4.5 -1.5 2.5 -0.5 4 -1 -1 0 -2 -1 -1 -1 1 -1 -7 -1 9 -1 -15 -1.5 3 -0.5 5.5 -1.5 0.5 -0.5 2 0 -2 -1 -1 -0.5 1 0 6 -1.5 1 -1 -4.5 -1 5.5 -1 -1.5 -0.5 0.5 0 8 -1.5 -1 -2 7 -1 -3.5 -2 -1 -1 2.5 -0.5 -3 -0.5 -0.5 -1 1.5 -1 -3.5 -1 1.5 0 -7 -2 -1 -0.5 4 -1.5 -1.5 -0.5 0.5 -1 6 -2.5 -1 -1 -1.5 -0.5 0.5 -1.5 6 -1.5 -1 0 -3 -2.5 -1.5 0.5 4.5 -1 1 -0.5 3 0 -3 -1 -1 -1 1 0 2.5 0 -4.5 -2 -2.5 -1 4.5 -1.5 -1 -0.5 -3.5 -3 -0.5 -1 -9.5 -1.5 3.5 0 6 -2 1 -0.5 7 -4 1 -1.5 -3 -0.5 -13.5 -1.5 3.5 0 4 -2 1 0 7 -2 0 0 -3 -1.5 -4 -2 -0.5 -0.5 4.5 -1.5 1 -1 6.5 -1.5 -4.5 -0.5 -7.5 -1.5 2.5 0 5 -2 1 -0.5 4.5 -2 -1.5 -1 1.5 -1.5 -3.5 0.5 -1.5 2.5 -0.5 0 -12 -1 0 -1 4 -1.5 0.5 -0.5 -4.5 -1.5 -1.5 -0.5 0.5 0 5 2 1 0 8 -3.5 0 -1 5zM298 137.5l-3.5 -0.5 1 -1 0 -7 2.5 -1.5 0.5 3.5 -0.5 6.5zM253 137.5l-1.5 -0.5 1.5 -3.5 0.5 1.5 -0.5 2.5zM331 136.5l-2 -0.5 0 -2.5 2 1 0 2zM268 137l0 -1 0 1zM247.5 157l-0.5 -9.5 -2 -0.5 0 10 2.5 0zM259.5 157l0 -9 -2.5 -0.5 0 9.5 2.5 0zM263.5 149l-0.5 -1.5 0 1.5 0.5 0zM322 154l0.5 -6 -2.5 -0.5 0 6.5 1 0.5 1 -0.5zM333 160l0.5 -2 -2 -1 -0.5 -9 -2 -0.5 -0.5 9.5 3.5 1 1 2zM225.5 169l1.5 -1 -3.5 -1 0 -9 -2.5 -0.5 -0.5 9.5 2.5 0.5 1 2 1.5 -0.5zM229.5 165l0 -7 -2.5 -0.5 -0.5 3.5 2 2 0 2 0.5 0.5 0.5 -0.5zM295 161l0.5 -3 -0.5 -1 -2 0 -0.5 3 1.5 1.5 1 -0.5zM317.5 158l-0.5 0 0.5 0zM321.5 158l-1 0 1 0zM361.5 162l0 -4 -2.5 -0.5 -0.5 0.5 3 4zM346 168l-0.5 0 0.5 0zM391.5 169l-0.5 -1.5 -2.5 0.5 0.5 1 2.5 0zM318.5 179l-0.5 -6 0.5 6zM203 189l-1 -1.5 -0.5 1.5 0.5 0.5 1 -0.5zM211 197l0 -3 -2 -1.5 -0.5 4.5 1.5 0.5 1 -0.5zM334.5 197l-0.5 -4.5 -0.5 4.5 0.5 0.5 0.5 -0.5zM217.5 197l-0.5 -1.5 -0.5 1.5 0.5 0.5 0.5 -0.5zM254.5 197l-1.5 -1.5 -0.5 0.5 0.5 1.5 1.5 -0.5zM241 210.5l0 -4.5 1.5 -1 0.5 -7 1 -0.5 0.5 9.5 -1 2 -1.5 -0.5 -1 2zM310.5 205l-0.5 -3.5 -1.5 3.5 0.5 0.5 1.5 -0.5zM253 205l-1 -3 -1.5 3 1.5 1 1 -1zM230 208l-1 0 0 -2.5 1.5 0.5 -0.5 2zM239 209.5l0 -3.5 0 3.5zM305 209l0 -3.5 0 3.5zM315 209.5l0 -3.5 1 -0.5 -1 4zM264.5 213l-0.5 -1.5 -0.5 1.5 0.5 0.5 0.5 -0.5zM304 216l-1 -1 0 -1.5 1.5 0.5 -0.5 2zM329 215.5l0 -2 0 2zM464 268l-56 0 -0.5 -6 -1.5 -1.5 -2 1 -1 -2.5 -1 3 -0.5 4 -1.5 1.5 -1 -5 -2 2.5 -1 2.5 -1.5 -1.5 0 -3 -1.5 -1.5 -1 4 -1 -4 -1 1.5 -1 3.5 -1 -5 -1 6 -1 -3 -1 3 -1 -4 -1 3 -1 0 -2 -6 -1 6 -0.5 -2.5 -1.5 0.5 -0.5 -0.5 -0.5 -4.5 -1 7 -2 -6 -1 5 0 -0.5 -2 -9 -0.5 7 -1.5 2.5 -0.5 -2.5 -1 0 -0.5 3.5 -1 -5 -1 0.5 -1 3.5 -1 -4 -2 4 -1 -1 -2 2 -1 -1 -1 1 -1.5 -1.5 0 -2 -1.5 -1.5 -1 2 -1 -3 -2 4 -1 -7.5 -1 8.5 -1.5 -0.5 -0.5 -3.5 -1 5 -2 -6 -1 3.5 -0.5 -2 -1 0 -0.5 5.5 -1 -5 -1 4 -2 -3 -2 3 -1 -5 -1 5 -1 -3 -1 3 -1 -2 -1 2 -1 -5 -1 5 -1 -1 -2 2 -0.5 -2.5 -1.5 0.5 0 -0.5 -1 -3.5 -3 1 -1 3 -1 0 -2 -1 -1 -4 -1 6 -3 -3 -1 4 -1 -7 -1 6 -0.5 -2.5 -1.5 -0.5 -0.5 0.5 -0.5 3.5 -1 -1.5 -1 0.5 -0.5 -3.5 -2.5 -6 -0.5 6 -1.5 2.5 -1 -1 -4 1 -2 -4 -1 4 -0.5 -2.5 -1.5 -1 -1 -3.5 -1.5 2.5 -0.5 4.5 -2 0 -1 1 -0.5 -1.5 -1.5 -0.5 -1 -4 -2 5 -1 -4 -1 4 -1 -3 -1 4 -2 1 -1.5 -1.5 -0.5 -6.5 -0.5 4.5 -0.5 0.5 -1.5 -0.5 -0.5 2.5 -2 -9.5 -0.5 5 -1.5 2.5 -1 -4 -1 5 -1 0 -1 -2 -1 0 -1 -3 -1 2 -1.5 0.5 -0.5 2.5 -2 -6 -1 7 -1 -9.5 -1 6.5 -2 3 -1 -3 -2 4 -0.5 -5.5 -0.5 0 -1 2.5 -2 -4 -2 5 -2 1 -1 -0.5 -1 -5 -0.5 5 -1.5 1.5 -0.5 -2.5 -1 0 -0.5 1.5 -1 -1.5 -0.5 -3 -1.5 -0.5 -1 6 -0.5 -4.5 -2.5 2.5 -2 -7 -0.5 4.5 -2 1 -0.5 2.5 -1 -0.5 -1 -7 -1 1 -0.5 6 -1.5 1.5 -2 -9 -2 8 -1 -1 -2 1 -1 -4 -1 2 -1 0 -1 -4 -0.5 4.5 -1.5 1.5 -1 -2 -1 1 -1.5 -3.5 -1.5 0.5 -1 -2 -1 1 -1 -0.5 -0.5 4 -1.5 1.5 -1 0 -1 -2 -1 1 -1 -4 -2 5 -2 -4 -1 4 -1 -7 -1 8.5 -54 0 -1 -18 1 -18 0 -2 54 0 2 0.5 10 -0.5 11 1 5 -1.5 4 1.5 6 0 5 -2 7 2.5 9 -2 3 1.5 6 -1 3 1 3 -2 4 2 2 -1.5 4 -0.5 6 2 2 -1.5 3 2 3 -1.5 3 1.5 2 -1 4 0 2 -1 8 2 5 -0.5 2 -2 2 1.5 4 1 4 0 2 -1.5 6 1 3 -0.5 2 1.5 3 0.5 2 -1 4 0.5 3 -2 13 1.5 6 -2 3 1 4 -0.5 6 0.5 8 -0.5 2 -0.5 6 0 3 1.5 2 -1 3 0.5 4 -1 13 1 3 -0.5 56 0 1 17 -1 21z"/><path fill="#283c97" fill-rule="evenodd" d="M274 127l1 -3 1 -1 1 1 0 2.5 -3 0.5zM288 218l-3 -1.5 -1 -1.5 0 -1 3 -1 0 -12 -1 -1 -1.5 3 -0.5 2 -1 0 0 -4 -1 -1 -1 -1 -3 0.5 0 6.5 1 0.5 3 -0.5 0.5 5 -0.5 2.5 -1 -0.5 -2.5 1 -0.5 4 -1 0 0 -2 0 -15 -2 -3 -1 1 0 9.5 -1 0.5 -1 -3 -3 -1 -1 -6 -2 -3 -1 1 0 3.5 -2 4.5 5 3 0 5 2 2 -3 1.5 -1 -2.5 -1 2 -1.5 0 -0.5 -1 2 -3 -1 -1 -1 2 -2 0 0 -7 -2 -2 0 -4 -2 -3 -4 -2 -0.5 1 0 1 2.5 2 -1 1 0 5 1 2 -1 5 -1 0 0 -2 -1 -1 -1 1 0 -1 0 -1.5 2 -0.5 1 -2 -1 -6.5 -2 0.5 -0.5 8 -1.5 0.5 -0.5 -0.5 -1.5 -3 0 -11 -1 -1 -1 2 -6 3 -1 1.5 -1 0.5 -1 -2 -2 1 -0.5 1 -0.5 7 -1 -5 -1 -1 -2 0.5 -1 -0.5 -1 -3 -2 4 0 5 -2 0.5 0 -7.5 -1 -2 -4 2 0 3.5 -1 -1.5 0 -2 1 -3 -2 -2 0 -3 1 -2 0 -10 -1 -1 -1 0.5 0 11.5 -3 0.5 -1 3 -2 -1.5 -0.5 1 0 4 0.5 1 2 -1 1.5 2 -1.5 3 -3 -3 -3 1 -0.5 -9 1 -9 -1.5 -1 -1 1 -0.5 5 -1 1 0.5 5 -3 4 0.5 3 -1.5 1 0 -3 1 -1 -1 -2 0 -5 -1 -1 -0.5 1 -0.5 4 -1 2.5 -1 -1 -1 1 -1 -1.5 -2 2 0 -5 -1 -1.5 -1.5 1.5 -0.5 2 -1 0 0 -3 -1 -1 -1 1 -2 3 0 7 -1 0 -1 -3 -1 2 -2 -4 -1 3 -1 0.5 -1 -0.5 -1 -8 -54 0 -0.5 -17 0.5 -12 54 0 2 -2 3 0.5 2 -2 4 1.5 5 -3 1 0.5 0.5 6.5 0.5 0.5 2 -2.5 6 -1 1 -2 2 -1.5 1.5 11.5 0.5 1 0.5 -6 3 -5 0.5 -3.5 3 2.5 2 -1 0 -2 5 1.5 3 -2.5 1 0 2 1.5 1 -0.5 1 -4 2.5 -2 1.5 -5.5 1 0 2 3 2 -1.5 0 -2.5 0.5 19.5 0.5 0.5 2 -1.5 0 -7 1 -3 -0.5 -6 1.5 -2 3 -1.5 1.5 4.5 0 11 0.5 0.5 2 0 1 -14 2 -0.5 0 9 1 1.5 2 0 2 -14.5 1.5 -1 2.5 -0.5 1 -1.5 1 -0.5 1 0.5 1 1.5 2 0.5 0 9 3 0.5 1 -3 2 -1 0.5 -5.5 5.5 -0.5 1 -3 3 -0.5 3 4 2 0 1 -1 0 -7 2 -2 0 9 3 2 0 5 2 2 1.5 0 0 3 1.5 1.5 2 -1.5 -1 -2 1 -3 2.5 -1 0.5 -11.5 3 3 2 -0.5 0.5 3 -2.5 0 -1 1 0.5 9 2 2 0.5 8 1 0.5 3 -0.5 0 -12.5 2 0 0.5 2.5 2.5 0.5 1 -9.5 2.5 -1 1.5 -5 1 -2 2 -0.5 1.5 7.5 -2.5 0.5 -0.5 1.5 2.5 1.5 2 -2 1 0.5 0.5 5 2.5 0.5 1 -6.5 2 -0.5 1 -2 1 0 4 6.5 0 3 -1 1 0 6 0 -4 1 -0.5 4 0 1.5 1.5 1 8 1.5 5.5 1 -1 0.5 -3.5 3 -1 0.5 -9.5 1 1 3 0 2 2.5 0 2 2 3 1 0.5 2 -2 1 3 3 0.5 0 3.5 1 1 1.5 -0.5 0.5 -6 2 -0.5 1 0.5 0 5 1 1.5 1.5 -0.5 0.5 -3 1 -0.5 5 2 3 -0.5 5 5 3 -5 5 -1 4 3.5 2 -3 1 0 2 2.5 56 0 0.5 12 -0.5 17 -56 0 -1 6.5 -1 -0.5 -1.5 -5 -1.5 -1 -0.5 1 0 5 -1.5 1.5 -1 -1.5 -1 -6.5 -1 0.5 0 4 -1 0.5 -2 -1.5 -1 3 -2 0.5 -0.5 -5.5 -1.5 -1 -1 1 -1 -4 -1 0 -1 2 -2 -1 -1 1 0 3 -1 2 -0.5 -3 -1 0 -0.5 4 -1 -9 -2.5 6 -0.5 4 -2 -2 -1 -5 -2 3 0 2.5 0 -1.5 -2 -2 -2 -5.5 -1 0.5 0 8 0 -13 -1 -1.5 -2.5 3.5 -0.5 4 -1 1 -1 -1 -1 2 -0.5 6 -1.5 -4 -0.5 1 -0.5 3.5 -1 -0.5 -1 1 0 7.5 -1 -1 -0.5 0.5 -0.5 4 -1 1 -2 -3 -2 1 -1 -2 -1 1 -1 -3 -1 1 0 -6.5 -1 -1.5 -1 0 -1.5 2 0.5 2 -1 -1 -0.5 1 -1.5 5 -1.5 0 -1.5 -2 -1 1 -1 5.5 -1 -0.5 0 -3 -3 -2 -0.5 1 0.5 2 -0.5 2 -1.5 -0.5 -3 -3.5 -0.5 1 -0.5 4 -1 -1 0 -3 -4 -1.5 0 -8.5 -1 -1.5 -1.5 1.5 -0.5 9 -1.5 1 -0.5 7 -4 0.5 -1 -2.5 0 -12 -1 -1.5 -1.5 3.5 0 4 -2 1 -0.5 6.5 -1 0.5 -1.5 -7 -2.5 -1 -1 1 0 4 -1.5 1 -0.5 6 -1 -4 0 -7 -1 -1 -2 3 0 4 -2 2 0 4zM298 137l-2 0 0 -7 2 -1 0 8zM312 135.5l-1 0.5 0 -6.5 2 2.5 0 3 -1 0.5zM253 137l-1 0 0 -1 1 -2.5 0 3.5zM330 135.5l-1 -0.5 0 -1 2 1 -1 0.5zM310 137l0 -1 1 0 -1 1zM246 147.5l0 -2.5 0 2.5zM260 157l0 -9 -2 -1.5 -1.5 1.5 0 9 1.5 0.5 2 -0.5zM264 149l-1 -2 -0.5 2 0.5 1 1 -1zM321.5 155l2.5 -3 0 -4 -2 -1 -2.5 1 0 6 2 1zM330.5 161l0.5 -2 1 0 1 1.5 1 -2.5 -2 -1 -0.5 -9 -2.5 -0.5 -0.5 0.5 -0.5 9 2.5 4zM288.5 162l1 -1 0 -6 -0.5 -1 -1 0 -1 1 0 6 1.5 1zM361.5 162l0 -4 -0.5 -1 -2 0 -1 -3.5 -2 0 0 8 2 0.5 1 -2 1.5 2 1 0zM264 161l0 -6.5 0 6.5zM295 162l1 -4 -0.5 -3 -1.5 -0.5 -1 0.5 -1 5 1 2 2 0zM337 165l-0.5 -10 -0.5 -0.5 -1.5 10.5 2.5 0zM342 160l0 -4.5 0 1.5 -2.5 1 2.5 1 0 1zM225.5 172l0.5 -1 2 0.5 1 -1.5 1 -12 -2 -1.5 -2.5 1.5 0 3 1 2 -0.5 3 -1 0 -0.5 -1 0.5 -7 -2 -1 -2 0 -1 1 0.5 9 2.5 1 1 4 1.5 0zM318 158l-1 -1 -1 1 1 1 1 -1zM321.5 159l1 -1 -0.5 -0.5 -2.5 0.5 2 1zM244.5 171l2 -1 0 -6 -1 -1 -3.5 -0.5 -0.5 8.5 2.5 0.5 0.5 -0.5zM259.5 171l0 -7 -2 -1 -0.5 1 0 6 1 1.5 1.5 -0.5zM307.5 171l1 -1 0 -4 -1.5 -3.5 -2 0 -1.5 1.5 0 6 1.5 1 2.5 0zM325.5 166l-0.5 -3 -2 0.5 0 2.5 2 0.5 0.5 -0.5zM181.5 170l0 -6 -1.5 -1 -1 1 0 6 2.5 0zM315 166l0 -2.5 0 2.5zM391.5 170l0.5 -2 -1 -1 -2 0 -0.5 1 0.5 2 2 0.5 0.5 -0.5zM346.5 168l-0.5 -0.5 -1.5 0.5 1.5 0.5 0.5 -0.5zM320.5 180l0.5 -4 4.5 -1 -0.5 -5.5 -2 0.5 -2 2 -5 0 0.5 8 1.5 0.5 2.5 -0.5zM295.5 175l0 -3 -2.5 0 0 3 1 -0.5 1.5 0.5zM355 179l0 -1 -2 -1.5 0 2.5 2 0zM407 188l0 -8 0 8zM303.5 189l0 -7 -2.5 -1.5 -5 0.5 0 4 3.5 1 -1 2 0.5 1 4.5 0zM331 189l0 -7 -1 -1 -1 1 0 6 1 1 1 0zM265 189l0 -7.5 -2 -0.5 -1 4 -1 1 0 2 1 1 3 0zM289.5 198l0.5 -12 -1 -4.5 -2 0.5 -0.5 7 -1.5 2 0 5 2 2.5 2.5 -0.5zM322.5 189l0 -4 -1.5 -2 -3.5 3 0.5 3 3 0.5 1.5 -0.5zM284 198l1 -1 0 -6 -3 -2 -1 1 0 8 0 0.5 3 -0.5zM335 197l0 -4 -1 -1 -1 1 0 4 1 1 1 -1zM189 201l-1 -1.5 -1 0.5 0 -2 2.5 0 -0.5 3zM215 205l0 -3 -1 -2 1 -3 0.5 1 -0.5 7zM243 209l-1 -1 -1 1.5 0 -1.5 0 -1.5 2 -1.5 0 -7 1 0 0 1 0 8 -1 2zM310.5 205l-0.5 -4 -2 4 1 1 1.5 -1zM304 215l0 -0.5 0 0.5zM464 268l-56 0 0 -6 -2 -1.5 -2 1 -1 -3 -1.5 3.5 0 4 -1.5 1.5 -1 -5 -2.5 2.5 -0.5 2.5 -1 -1.5 -0.5 -3 -1.5 -1.5 -1 4 -1 -4 -1.5 1.5 -0.5 3.5 -1 -5 -1 6 -1 -3 -1 3 -1 -4 -1 3 -1 0 -2 -6 -1 6 -0.5 -2.5 -0.5 -0.5 -1 1 -0.5 -0.5 -0.5 -4.5 -1 7 -0.5 -3.5 -1.5 -2.5 -1 4.5 -2 -9 -0.5 7 -1.5 2 -1 -3 -0.5 1 -0.5 3 0 -4 -1 -0.5 -1.5 0.5 -0.5 3 -1 -3.5 -2 3.5 -3 -2 -2 3 -1 -1 0 -2 -2 -1.5 -1 1.5 -1 -2.5 -2 3.5 -1 -7.5 -0.5 8.5 -1.5 0.5 -1 -4 -1 4.5 -2 -5.5 -1 2 -1 -1 -4 2.5 -1 -1 -2 3 -1 -5 -1 1 0 4 0 -2 -1 -1 -1 3 -1 -2 -1 2 0 -4 -1 -0.5 -1 4.5 -1 -1 -2 2 0 -2 -1 -1 -1 1 -1 -4 -3.5 2 -0.5 2 -3 -1 -1 -3.5 -1 2.5 -2 1 -1 -1 -1 1 0 2 0 -5 -1 -0.5 -0.5 1.5 -0.5 4 -1 -3 -5 -1 -2 -5.5 -1 6.5 -1 2 -1 -1 -4 1 -2 -4 -0.5 1 -0.5 3 0 -2 -2 -1 -1 -3.5 -2 3.5 -1.5 0 1.5 0 0 3 -3 0.5 -1 -1.5 -1 0 -1 -3.5 -1 2.5 -1 0.5 -1 -2.5 -1 0 0 4 -1 -3 -1 4 -2 1 -1 -1 0 -5 -1 -1.5 -0.5 4.5 -1.5 -1 -1 1 0 2 -0.5 -5 -1 -1 -0.5 -3.5 -0.5 5.5 -1.5 2 -1 -4 -1 1 0 4 -1 0 -1 -2 -1 0 -1 -2.5 -1 2 -1.5 0.5 -0.5 2 -2 -5.5 -1 6.5 -1 -9.5 -1 4.5 -1 0 1 2 -2 2 -1 -2 -2 4 0 -5 -1 -0.5 -0.5 0.5 -0.5 2 -2 -3.5 -2 2.5 0 2 -2 -0.5 -1 -1 -0.5 -2.5 -1 0 -0.5 5 -1 1 0 -2 -1 -1 -1 2 -1 -1 0 -3 -2 -1 -1 6 0 -4 -1 -0.5 -2 2.5 -2 -6.5 -1 4.5 -2 0 -0.5 3 -1 -7 -2 1 -0.5 6 -1 1 0 -4 -2 -4.5 -2 7.5 -1 -1 -2 1 0 -3 -2 -1 -1 1 -1 -2.5 -0.5 0.5 -0.5 4 -1 1 -1 -2 -1 1 0 -2 -2 -1.5 -1 0.5 -1 -1.5 -1 1 -1 -1 -0.5 0.5 -0.5 4 -1 1 -1 0 -1 -2 -1 1 0 -3 -1 -1 -2 5 -2 -3.5 -1 3.5 -1 -6.5 -0.5 1.5 -0.5 7 -54 0 -0.5 -19 0.5 -16 0 -1.5 54 0 2 0.5 7 -1 10 0.5 3 1 6 -2 4 1.5 9 -1 2 1.5 3 -1.5 4 2 18 -2 4 1 3 -1.5 3 2 2 -1.5 3 -0.5 3 2 2 -1 2 1 3 -1.5 2 1.5 3 -1 3 1.5 8 -2 3 1 2 -1 4 2 6 -1 9 1 3 -1.5 3 1 6 -1 2 2 3 0 2 -1 4 1 4 -2.5 5 1.5 3 -1 4 1.5 6 -2 3 1 4 -1 5 1.5 6 -2 3 0.5 2 -1 6 0.5 3 1.5 2.5 -1 2.5 0.5 4 -1 5 0.5 5 -0.5 3 1.5 3 -0.5 56 0 1 15.5 -1 21zM338 267l0 -0.5 0 0.5z"/><path fill="#29469f" fill-rule="evenodd" d="M276 125.5l-0.5 -0.5 0.5 -1.5 0 2zM318 153.5l-1.5 -0.5 -0.5 -2 2 -8 0 -4 1 -0.5 2 -2 3 -1 0 1.5 -2 0.5 -0.5 1.5 3.5 2 0 3 -4 1 -2 3 0 4.5 -1 1zM333 154.5l-1 -6.5 -1 -1.5 -3 -0.5 6 -2 0 -5 2 -2.5 3.5 6.5 -0.5 1 -4 1 0 7 -2 2.5zM259 143l-1 0 0 -4.5 1 0.5 0 4zM274 144l-1 0 -0.5 -5 4 0 -0.5 4 -2 1zM234 154l-8.5 -1 0.5 -1.5 3 -2.5 2 -4.5 1 2 3 0 0 6 -1 1.5zM255 154l-1 -1 0 -2 1 -6.5 1 0.5 0.5 1 -1.5 8zM261 153l-0.5 -7 0.5 -1.5 1 1.5 -0.5 3 0.5 2 -1 2zM280 153.5l-2 -0.5 0 -8.5 2 0 1 1.5 0 6 -1 1.5zM270 153l-1 -0.5 0 -2.5 1 -4 1 0.5 0 2.5 0 3 -1 1zM288 152l-1 0 0 -3 0 -3 1 -1 1 4 -1 3zM295 153l-2.5 0 0.5 -7.5 1 1 1 0 1 5.5 -1 1zM343 153l-2 -0.5 0 -3.5 1 -1 1.5 1 -0.5 4zM354 162l-3 0.5 -1 -0.5 0 -2 1 -2 2.5 -1 0.5 -7.5 1 1.5 -1 11zM255 180l-7 0.5 -3 -1.5 0 -3 1 -4 1 -0.5 1 -1.5 -1 -11 2 -7 1.5 3 0 16 0.5 0.5 4 0.5 1 1 0 6 -1 1zM268 161l-1 0 0 -7 1 1 0 6zM300 175.5l-1.5 -6.5 1.5 -15.5 1.5 11.5 -1.5 10.5zM349 189.5l-3.5 -0.5 -1.5 -8 -3 -0.5 -1.5 -1.5 -0.5 -2 -0.5 -6 1.5 -1 0 -6 0.5 -1 2.5 -0.5 0.5 -0.5 0.5 -8.5 1 0 1 1 0.5 11.5 -2.5 2 2 1.5 2 -2.5 1.5 4 -0.5 4 -2 0 -1 -4 -2 2 0 2 2 2 0 3 3.5 1 -0.5 8.5zM322 162.5l-2 0 -0.5 -2.5 4.5 -2 -4 -1 -0.5 -1 5.5 -1 0.5 5 1 1 -2.5 0 -2 1.5zM405 189l-1 -1 0 -7 -1 -1.5 -10 0.5 -3 -2 -2 1.5 -5 0.5 -3 -0.5 -2 -1 -6.5 2.5 -0.5 8 -2 0.5 -1 -0.5 -1 -4 0 -4 -2 -1.5 -3 0.5 -4 -1 -3 -3 -2 -0.5 -0.5 -0.5 0 -4 3.5 -8 3 -0.5 2.5 0.5 0.5 7.5 2.5 -0.5 0 -7 -2 -1 -0.5 -1 0 -4 2 -1 1 2 2 1 1 12 10 -1 0.5 0 -0.5 1 3 0.5 4 -1 1.5 -0.5 0 -6 0.5 -1.5 1 1.5 -0.5 5 1.5 3 2 0 2 -2 3 1 2 -1 5.5 0 0.5 -7 1 -2.5 1 0 2 4 56 0 0 23 -56 0 -1 -9 -1 1.5 0 8 -1 1zM181 161l-2 0 1 -1.5 1 1.5zM309 161.5l0 -1 0 1zM385 162.5l-2 -0.5 0 -1 2.5 0 0.5 1 -1 0.5zM399 161l-3 0 3 -0.5 0 0.5zM327 162l-0.5 0 0.5 -1 0 1zM195 194l-1 0 0 -12 5.5 -2 -5.5 -0.5 -1 1 -2 0.5 -0.5 7 -0.5 1 -2 0 -1 2 -3 -2 1 -9 -2 -1 -5 0 -1 1.5 -2.5 -4.5 -1.5 11.5 -54 0 0 -23 54 0 1 6 6 1 4.5 -1.5 0.5 -7.5 2.5 0.5 0.5 7.5 4 -0.5 1 1 3.5 -1 0.5 -7 2 -0.5 1 1.5 0 6 5 1.5 1 1.5 2 -0.5 0.5 -1.5 1.5 -0.5 4 0.5 2 1.5 2 -1.5 4 0.5 2 2.5 1.5 0 1.5 2 -1 13.5 -2 -0.5 -1 -10.5 -5 0 -1 -2 -1 -0.5 -5 2.5 -11 2.5 -0.5 8 -0.5 1 -2 -1 -2 1 0 4zM232 171l-1 0.5 -0.5 -1.5 0.5 -8 1.5 1 -0.5 8zM294 180l-7 0.5 -3 -0.5 0 -4 -3 -2 0 -3.5 2 0 1 1.5 2 -0.5 1 -9 2.5 0.5 0.5 2.5 2 1.5 0 2.5 -2 1 0 4.5 5.5 1 -0.5 3 -1 1zM319 170.5l-2 -0.5 0 -7 1 -0.5 1.5 0.5 -0.5 7.5zM333 184l-1.5 -5 0 -3 -3 -2 0 -8 -1 -1 1.5 -2.5 2.5 0.5 0.5 8 0 0.5 2.5 0.5 0 1 0 9 -1.5 2zM207 170l0 -6.5 1 3.5 -1 3zM279 170.5l-2 -1.5 1 -2.5 1 0 1.5 2.5 -1.5 1.5zM347 167.5l0.5 -0.5 -0.5 0.5zM297 170l-1 -1 1 -1 1 1 -1 1zM238 197l-4.5 -1 0 -5 -1 -3 0 -6 0 -1 2.5 0 1 -1 -0.5 -9 1.5 -1 1 0 1 2 -0.5 8 2.5 0.5 0.5 1.5 -0.5 7 -2.5 0 -0.5 -3.5 -2 -0.5 -0.5 1 0.5 3 2.5 1 -0.5 7zM187 172l-2 -0.5 1 1 1 -0.5zM271 205l-2 -0.5 -1 -18.5 -2 -0.5 -1 -5 -2 0 -0.5 -1.5 0.5 -7.5 4 1 2 8 7 -0.5 4 1 0 17 -2.5 0 -1 -8 -4.5 0 0 14 0 1 -1 0zM308 197.5l-1 0.5 -1 -1 -1 0.5 -0.5 -0.5 0 -6 0.5 -1.5 2.5 -1.5 -0.5 -3 -1.5 -3 0 -1 2 -1 0 -8 1.5 -1 2 1 0 3.5 1 0.5 0 4 4 0.5 2 1.5 -1.5 4 -0.5 3 -7 1 -1 7.5zM303 179.5l-1 -0.5 0 -5 0 -1.5 1 0 1 0.5 0 3 0 3 -1 0.5zM360.5 174l0.5 -1 -2 -1 0 2.5 1 0.5 0.5 -1zM227 176l-0.5 -1 0.5 -1 1 1 -1 1zM325 179l-1 1 -1 -0.5 0 -3.5 2 0.5 0 2.5zM214 189l-2 0 -1 -1 0.5 -7 1.5 -2 1.5 2 -0.5 8zM358 189.5l-2 0 -3 -1.5 0 -6 4 -3 1 0 0.5 2 -0.5 8.5zM220 190l-2 -1 0 -8 1 -1 1.5 1 0.5 8 -1 1zM259 189.5l-2.5 -0.5 0.5 -8.5 2 0.5 0 8.5zM327 189.5l-1.5 -0.5 0 -4 0 -3 1.5 -1.5 1 1 0 3.5 0 4 -1 0.5zM375 195l0 -4 -1.5 -3 0 -7 0.5 -0.5 2 0.5 0.5 1 0 7 -1.5 6zM382 194.5l0 -2.5 -1 -1 -1 1.5 0 -10.5 1 -1.5 1 1.5 0 12.5zM388 187l-1.5 0 0 -5 0.5 -1 2 1 0 5 -1 0zM393 197l-1.5 -7 2 -2 0 -7 1.5 -0.5 4.5 0.5 1 1 -0.5 7 -5.5 1 0 3 -1.5 4zM294 189l0 -7 0 7zM285 187l-0.5 -1 0.5 -0.5 0 1.5zM179 198l-2 -2 -1 2 -2 0 0 -8.5 4 -0.5 2.5 1 0.5 7 -2 1zM207 199l-1 -1 0 -4 0 -4 1 -1 1 0 0.5 2 0 7 -1.5 1zM223 197.5l-2.5 -1.5 -0.5 -6 1 -0.5 3 0.5 -0.5 7 -0.5 0.5zM229 198l-2.5 -2 0 -6 0.5 -0.5 3 0.5 0 7 -1 1zM337 198l-2 0 0 -7 0 -1 1 -0.5 1 0.5 0.5 1 -0.5 7zM401 197l0 -7 2 0 -1.5 2 0 4 -0.5 1zM252 195l-0.5 0 0 -2 0.5 -3 1 3 -1 2zM294 214l-1 -1.5 -0.5 -13.5 2.5 -2 0.5 -6 1.5 -1 1.5 1 0 6 -3 2 0 10 -1 2 -0.5 3zM303 205l-1 0 0 -6 2 -0.5 0 5.5 -1 1zM311 209l-1 -2 1 -3 -1 -5 1 -1 2 0 1 6 -3 5zM349 205.5l-2 -0.5 -3 -3 0 -3 5.5 0 0.5 6 -1 0.5zM353 202l0 -2.5 0 2.5zM243 208l-1 0 1 0zM278 216.5l-1 -1 0 -7.5 4 -1 0.5 5 -3 2 -0.5 2.5zM286 216l-1 0 0 -1.5 2 0.5 -1 1zM400 267l0 -4 -1 -1 -2.5 3 -0.5 2 -1 -1 0 -3 -2 -2 -0.5 1 -0.5 3 0 -3 -1 -1 -1.5 2 -0.5 3 0 -4 -1 -1 -1 1 0 5 -1 -3 -1 1 0 2 0 -3 -1 -1 -1 1 0 2 -1 0 -2 -5.5 -0.5 0.5 -0.5 5 -0.5 -2 -0.5 -0.5 -1 0.5 -1 -4.5 -0.5 0.5 -0.5 6 -1 -5 -1 -1 -1 2 -1 -1 -1 -5.5 -1 7.5 -1 2 0 -2.5 1 -0.5 -2 -1 -4 1 -1 -1 -2 1 -3 -1.5 -3 1 -2 -0.5 -1 1 -1 -2 -2 0.5 -1 -4 -1 5 -2 -0.5 -2 1 -1 -1.5 -1 0.5 -5 1 -2 -0.5 -2 -1.5 -3 1.5 -3 -0.5 -2 2 -3 -0.5 -2 -1.5 -2.5 1 -4.5 -0.5 -1 -1.5 -2 1.5 -4 -1.5 -4 1.5 -4 -2.5 -1 -2.5 -1 5 -4 1.5 -2 -2.5 -3 0.5 -2 -1 -1 -1.5 -1 1.5 -6 1.5 -1 -1 -1 1.5 -1 -0.5 -1 -2 -1 0.5 -2 2.5 -4 -3 -1 2 -2 0.5 -2 -5.5 -1 5 -1 -1.5 -2 -0.5 -3 2 -1 -1 -1 1.5 -2 0 -2 -3 -1 2 -1 -4.5 -1 3.5 -1 -0.5 -4 2.5 -1 -1 -1 1 -2 -2 -3 0 -2 1.5 -1 -1 -1 1.5 -2 1 -4 -2 -1 2 -1 -1 -1 2 -1 -3 -1 -0.5 -1 -2 -1 2 -3 1.5 -1 -3.5 -1.5 1.5 -0.5 2 -2 0 -1 -3.5 -1 2 -3 0.5 -5 -1 -4 0.5 -3 1.5 -1 -2 -1 1 -1 -0.5 -1 2 -2 0.5 -2 -3 -2 1 -1 2 -2 -1 -1 1 0 2.5 -1 -6 -1 1 -54 0 -0.5 -13.5 0.5 -14 54 0 2 0.5 4 0 3 -1.5 2 0.5 4 0 8 1.5 2 -1.5 3 0 4 1.5 6 -0.5 3 -1 2 1 3 -1.5 4 2 18 -1.5 4 1.5 3 -2 3 1.5 2 -1.5 3 0 1 1.5 2 1 2 -1.5 2 1 3 -1.5 2 2 3 -1.5 3 1.5 4 -1.5 4 -0.5 3 1.5 2 -1.5 3 2 9 -1 4 1.5 4 -1 2 -1 4 1 4 -1.5 3 2 3 0.5 2 -0.5 3 0.5 5 -3 4 2 2 2 2 -3 4 1 6 -1.5 3 1 4 -1 5 1 6 -1.5 3 0.5 3 -1.5 3 1.5 2 -0.5 3 1 9 -2 5 1 5 -0.5 3 2 59 -0.5 1 14 -1 13.5 -56 0 -1 1 -1 -1 -2 1 -1 -3 -1.5 3.5 0 4 -1.5 1zM315.5 235l-0.5 -1 0.5 1zM314 264l0 -1.5 0 1.5zM346 265l-1 0 0 -3 1 0.5 0 2.5zM354 264l0 -1 0 1zM363 265l0 -3 0 3z"/><path fill="#2a50a7" fill-rule="evenodd" d="M464 184l-56 0 -1 -6.5 -14 1.5 -3 -2 -2 2 -4 0.5 -4 -0.5 -2 -2 -6 2.5 -6 -1.5 -5 0.5 -2 -0.5 -2 -2 -4 -1 0 -4 2 -0.5 1 2.5 2 -0.5 1 3 2 -0.5 0.5 -3 2.5 -1 5 1 7 -1 5 2 2 -1.5 4 0 3 2.5 2 -3 1 -0.5 3 1.5 3 -1.5 4 0 2 1.5 2 -1 0 -8 1 4.5 56 0 0 16.5zM330 171.5l-0.5 -1.5 0.5 -3.5 1 4.5 -1 0.5zM173 184l-54 0 0 -16.5 54 0 1 3.5 6 1.5 2 -1 2 0 2 2.5 2 -2.5 5 0.5 5 -2 4 1.5 4 3.5 2 -0.5 1 -3 1 0 4 0.5 2 3 -4 1 -1 1.5 -3 1 -2 0 -2 -2.5 -1.5 2 -3.5 1 -4 -0.5 -9 1 -3 -1.5 -6 0 -1 -0.5 -0.5 -1.5 -1.5 -0.5 -1 8.5zM292 180l-5.5 0 0.5 -9.5 2 0.5 0 4 5 1.5 0 1 -2 2.5zM238 175l-1.5 0 0.5 -4 1 1.5 0 2.5zM309 179l-1 -4 1 -3 1 0.5 0 3.5 -1 3zM226 178l-2 0.5 -1 -1.5 -5 0.5 -1.5 -2.5 1.5 -2.5 4 0 1.5 2.5 3 1 -0.5 2zM250 180l-2.5 0 -0.5 -4 2 -1 2 1 -1 4zM265 180l-2 -1 0 -3 1 -0.5 3 1.5 -2 3zM343 180l-2 0 -0.5 -4 0.5 -1 2 0 0.5 1 -0.5 4zM268 184.5l-2 -0.5 0 -4.5 3 1.5 -1 3.5zM276 184l-1 -1 0 -2 2 0 0 2.5 -1 0.5zM186 189l-0.5 -1 0 -3 0 -3 0.5 -0.5 1 0.5 0 3 0 3 -1 1zM313 188l-2 0 0 -6 4 -1 1 1.5 -1 1.5 -1 0 -1 4zM270 204l0 -4.5 0 4.5zM312 205l0 -5.5 0 5.5zM278 213.5l0 -4.5 1 -1 1.5 1 0 3 -2.5 1.5zM379 266l-1 -3 -1 1 0 -3 -1 -1.5 -1 1 -2 -0.5 -2 0.5 -1 -5 -1 4.5 -1 0 -8 0.5 -3 -1 -6 1 -3 -1 -1 -3 -1 4 -1 0 -3 0.5 -1 -1 -5 1 -5 -2 -3 1.5 -2 -0.5 -3 1.5 -3 0 -2 -1.5 -3 1 -9 -1 -6 0.5 -3 -2 -1 0.5 -1 -2.5 -1 4 -4 1 -2 -2 -3 0.5 -3 -2 -1 1 -8 1.5 -1.5 -1.5 -1.5 0 -2 2.5 -3 -2.5 -4 1.5 -1 -0.5 -1 -3.5 -1 3 -2 -1 -2 0 -4 2.5 -3 -2 -2 1 -1 -3.5 -1 2.5 -1 -0.5 -3 2 -3 0 -3 -1.5 -2 0 -6 2.5 -4 -1.5 -3 0 -3 -2 -4 2.5 -1 -2 -2 2 -2 0 -1 -2.5 -1 1 -4 1 -8 -0.5 -2 1 -6 -0.5 -3 -1 -3 2 -3 0 0 -1 -2 -1 -54 0 -0.5 -20 0.5 -4.5 56 0.5 7 -1.5 6 0.5 2 1.5 2 -1 3 0.5 3 1 3 -2 4 2 2 -1 5 0.5 7 -2 4 1.5 10 -1 6 1.5 3 -1 3 1 3 -2 2 2 3 -2 1 0.5 0 1 5 1 6 -2 3 2.5 3 -2 3 1.5 4 -1 3 1.5 4 0 2 -0.5 2 1 4 -2 4 -0.5 4 0.5 2 1.5 2 -1.5 4 -1 6 3 2 -2.5 1 -0.5 5 2.5 2 -0.5 3 1 5 -4 1 0.5 1 2 4 1.5 2 -1.5 3 -0.5 5 0 2 -1 2 1.5 3 0.5 3 -1.5 10 -1 3 0.5 3 -2 3 2 2 -0.5 2 1 4 -1 2 0 4 -1.5 5 1.5 5 -1 3 2 59 0 1 12.5 -1 12 -56 0 -1 2 -1 -1 -2 1 -1 -2.5 -2 3.5 0 3.5 -1 -4 -2 0.5 -2 3.5 -1 -0.5 0 -2 -2 -2 -1 0.5 -2 -0.5 -4 -0.5 -3.5 2.5 -0.5 1.5 -2 -4.5 -1 1 0 5zM375 265.5l0 -3.5 0 3.5z"/><path fill="#2c62b5" fill-rule="evenodd" d="M173 183l-54 0 0 -13.5 54 0 1 2 6 2.5 2 -2 2 0 1 3 2 0 1 -2.5 2 0 2 1 6 -2.5 4 1.5 1 1.5 -1 3 -4 1.5 -3 -1 -9 1.5 -3 -2.5 -4 0.5 -5 -1.5 -1 7.5zM464 183l-56 0 -1 -6.5 -14 1.5 -1.5 -1 0 -3 0.5 -2.5 1 0 3 1.5 3 -2 4 0.5 1 1 2 0 2 -3 56 0 0 13.5zM388 178l-8 0 -1 -2.5 -1 0 -2 1.5 -4 1.5 -4 -0.5 -2 -1 -2 1 -3 -0.5 -2 -1.5 2 -0.5 1 -3.5 1 -0.5 6 2 2 -1 5 -0.5 5 3 2 -3 2 0 3.5 1 0.5 3 -1 2zM208 177.5l-2 0 -0.5 -1.5 2.5 -0.5 1 -3 5 1 0 1.5 -5 1 -1 1.5zM222 175l-1 0.5 -1 -0.5 -1 1 -1 -1 0 -1 2 1 1 -1.5 1 1.5zM355 175l-1.5 0 0 -1 1.5 -1 1 2 -1 0zM358 175l-1 0 1 0zM225 177.5l-1 0 -0.5 -1.5 2.5 0 -1 1.5zM249 180l-1 -0.5 -0.5 -2.5 0 -1 1.5 -0.5 1 0 0.5 1.5 -0.5 2.5 -1 0.5zM289 180l-2 0 0 -5 5 1 0.5 1 -0.5 2 -3 1zM342 179l-0.5 -2 0.5 -1 1 1 -1 2zM268 182.5l-1 0.5 -1 -2.5 2 0 0 2zM407 261l-1 -1 -2 1 -1 -2.5 -1 2.5 -3 -1 -2 1.5 -2 0 -3 -1.5 -6 0 -4 2 -2 -2 -3 0 -1 -1 -5 1 -1 -4.5 -1 3.5 -1 0.5 -8 0.5 -3 -1.5 -7 1 -2 -0.5 -1 -2.5 -1 3 -3 0.5 -3 -1 -4 1 -5 -1.5 -3 1.5 -3 -0.5 -2 1 -3 0 -2 -1.5 -3 1 -6 -1 -9 0.5 -3 -2 -1 1 -1 -2 -1 3 -4 1 -3 -2 -2 0.5 -3 -1 -8 2 -3 -2 -3 2.5 -3 -2 -5 1 -1 -3 -1 2 -4 -0.5 -4 2.5 -2 -3 -3 1.5 -1 -2.5 -1 2 -2 -1 -2 2 -3 0.5 -2 -1.5 -3 0 -6 2.5 -4 -2 -2 0.5 -4 -1.5 -4 2 -1 -1.5 -2 1 -2 0 -1 -1.5 -2 -0.5 -2 0 -1 1.5 -8 0 -2 0.5 -2 -0.5 1.5 -1 -0.5 -0.5 -1 0 0 1.5 -1 0.5 -5 -1.5 -4 2 -3 0.5 -2 -2 -54 0 -0.5 -18.5 0.5 -4 56 0 4 0 3 -1.5 8 2 5 -0.5 2 1 4 -1.5 4 1.5 2 -1 5 1 3 -2 4 -0.5 5 1.5 9 -1 3 1.5 6 -0.5 2 0.5 4 -1.5 2 1.5 3 -1.5 1 1 5 1 6 -2 3 2.5 3 -2.5 3 2 2 -0.5 9 1 2 -0.5 2 0.5 8 -2 6 2 6 -2 6 2.5 3 -2 5 2 2 -1 3 1 5 -2.5 6 2.5 5 -2 8 0 2 1 8 -2 10 1 2 -3 1 0 3 2 2 -0.5 2 1 10 -2 1.5 0.5 -0.5 1 1 0.5 5.5 -0.5 1.5 -1.5 3 2 3 -0.5 1 1 56 0 1 11 -1 11.5 -56 0 -1 2.5z"/><path fill="#2c79c7" fill-rule="evenodd" d="M173 179l-54 0 0 -8.5 54 0 5 4.5 -4 0 -0.5 1 -0.5 3zM464 179l-56 0 -0.5 -3 -2.5 -1 3 -4.5 56 0 0 8.5zM187 178.5l-2 0 -1 -2.5 3 -1 2 -1.5 2 1.5 2 0 1 -1.5 4 -2 4 2.5 0 1.5 -2 0.5 -1 1.5 -2 0 -2 -1 -2 1 -5 0 -1 1zM394 177l-2 0 -0.5 -2 0.5 -3 2 0 2 3 2 -3.5 5 0.5 2 3 -2 1 -9 1zM364 177l-2.5 -1 0.5 -2.5 2 -1 3 1 1 1.5 -4 2zM373 177.5l-5 -0.5 -0.5 -1 0.5 -1 2 0 1 -1.5 5 -0.5 1 2 -4 2.5zM388 177.5l-5 0.5 -3 -1 0 -1 2 -0.5 1 -2.5 2 0 3 0.5 0 4zM184 175.5l-2.5 -0.5 0.5 -2 2 0.5 0 2zM211 175l-2 0 0 -1 2 -0.5 0 1.5zM288 179l-1 -1 0 -2 2 -0.5 1 1.5 -1 1.5 -1 0.5zM249 179l-1 -2 1 -1 0.5 1 -0.5 2zM397 261l-11 -2 -4 2 -6 -2 -5 0 -1 -3.5 -1 2.5 -2 1 -7 0.5 -3 -1.5 -3 1 -4 -0.5 -2 0 -1 -2 -1 2.5 -3 0.5 -3 -1.5 -4 1.5 -5 -1.5 -3 1 -3 0 -2 1 -3 0 -3 -2 -2 1.5 -6 -1 -9 0.5 -3 -2.5 -1 1 -1 -1 -1 2.5 -4 0.5 -3 -1.5 -2 0.5 -3 -0.5 -6 0.5 -2 1 -2 -2 -4 2.5 -3 -2 -2 1 -2 -1.5 -1 0.5 -1 -1.5 -1 1 -4 0 -3 2.5 -3 -3 -3 1.5 -1 -2 -1 1.5 -3 -1 -4 2 -3 -1.5 -4 0.5 -4 2.5 -4 -2.5 -2 0.5 -3 -1 -5 2 -1 -1.5 -4 1 -3 -2.5 -2 0 -2 2 -2 0 -6 0 -2 -2 -1 0 -1 2.5 -5 -1.5 -4 2 -2 0 -2 -0.5 -1 -1.5 -54 0 -0.5 -17.5 0.5 -3.5 54 0 2 0.5 4 0 3 -1.5 8 2 5 -1 2 1.5 4 -1.5 4 1 7 0 4 -2 8 1.5 9 -1.5 3 1.5 6 -0.5 2 1 4 -2 3 2 2 -1.5 1.5 1 4.5 0.5 4 -0.5 2 -1 3 2.5 3 -3 3 2 2 -0.5 9 1 2 -0.5 2 0.5 8 -2 6 2 6 -1.5 6 2 3 -2 5 2 2 -1 3 1 3 -2 2 0 6 2 2 -1 10 -1 3 1 8 -1.5 10 1 2 -3 1 0 2.5 2 2.5 -0.5 2 1 4 -1.5 8 1.5 8 -1 3 1.5 2 -1 1 0.5 56 0 1 10.5 -1 10.5 -56 0 -1 3 -3 -0.5 -1 -1.5 -1 1.5 -3 -0.5 -2 1.5z"/><path fill="#229fe1" fill-rule="evenodd" d="M173 176l-54 0 0 -4 54 0 2.5 2 0 1 -2.5 1zM199 176.5l-2 0 -1.5 -1.5 1.5 -3 2 0 0.5 1 0.5 2 -1 1.5zM464 176l-56 0 -1 -1 1 -3 56 0 0 4zM393 176l-1 -1 0 -2 1 -0.5 1 0.5 0.5 2 -1.5 1zM403 175.5l-5 0 -0.5 -0.5 0.5 -2.5 5 0 0.5 2.5 -0.5 0.5zM364 175.5l-1.5 -0.5 1.5 -1.5 1 1.5 -1 0.5zM376 175l-3 0 2 -1 1 1zM385 177l-2 0 -0.5 -1 1.5 -2 4 2 -3 1zM187 177.5l-2 0 -0.5 -1.5 4 0 -1.5 1.5zM192 176l-1.5 0 2.5 0 -1 0zM373 176.5l-3 -0.5 3 -1 0 1.5zM397 260l-11 -1.5 -4 2 -2 -1.5 -5 -1 -4 0.5 -1 -3 -1 2 -2 1 -7 0.5 -3 -1.5 -3 1 -6 -0.5 -1 -1.5 -1 2 -3 0.5 -3 -1.5 -4 0.5 -5 -0.5 -3 1.5 -3 -1 -2 1.5 -3 -0.5 -3 -1.5 -17 1 -3 -2.5 -1 0.5 -1 0 -1 2 -4 0.5 -3 -2 -2 1 -3 -1 -3 1.5 -5 -0.5 -2 -1.5 -4 2.5 -2 -1.5 -3 1 -1 -1.5 -2 0 -1 -1 -5 1 -3 2.5 -3 -3.5 -3 2 -1 -1.5 -1 1 -2 -1.5 -5 2 -3 -1 -4 0 -4 2.5 -4 -2 -2 0.5 -3 -1 -5 2 -5 -0.5 -3 -2.5 -2 0 -2 2 -2 0.5 -6 -0.5 -2 -2 -2 2 -5 -1.5 -4 2.5 -2 0 -3 -2 -54 0 -0.5 -17 0.5 -3 54 0 2 0.5 4 0 3 -1.5 8 2 5 -1 2 1.5 4 -1.5 4 1 7 0 4 -2 5 0.5 2 1.5 -0.5 1 0.5 0 1 -1 9 -1.5 3 1.5 6 -1 2 1.5 4 -2 3 2.5 2 -2.5 1 1 5 0.5 4 -0.5 2 -1 3 2.5 3 -2.5 3 1.5 11 0.5 2 -0.5 3 0.5 7 -2 6 2 6 -1.5 6 2 3 -2 1 1.5 4 0.5 2 -0.5 3 0.5 4 -2 7 2 2 -1 10 -1 3 1 8 -1.5 10 1 3 -2.5 2 1.5 3 0 2 0.5 4 -1 8 1 7 -0.5 4 1 2 -0.5 57 0 0.5 10 -0.5 10 -56 0 -1 2.5 -3 0 -1 -1 -1 1 -3 -0.5 -2 1z"/><path fill="#27b3e6" fill-rule="evenodd" d="M407 259l-3 0 -1 -1 -1 1 -3 -0.5 -3 1 -10 -1.5 -4 2 -2 -1.5 -6 -1 -3 1 -1 -3 -3 2.5 -7 0.5 -3 -1.5 -3 1 -3 -1 -3 0.5 -1 -1.5 -1 2 -3 0 -3 -1 -7 0.5 -2 -0.5 -3 1.5 -3 -1 -2 1 -3 0 -3 -1.5 -17 1 -3 -2.5 -2 0.5 -1 2 -4 0.5 -3 -2 -2 1 -3 -1 -3 1.5 -5 -0.5 -2 -1.5 -4 2.5 -2 -1.5 -3 1 -2 -2 -5 0 -5 3 -3 -3.5 -3 2 -1 -1.5 -1 1 -2 -1 -5 1.5 -7 -1 -4 2.5 -4 -2 -2 0.5 -3 -1 -3 0.5 -2 1.5 -2 0 -3 -1 -3 -2 -2 0 -2 2 -3 0.5 -5 -0.5 -1 -1.5 -2 -0.5 -1 1.5 -5 -1 -4 2.5 -2 0 -3 -2 -54 0 -0.5 -16.5 0.5 -2.5 54 0 2 0.5 4 0 3 -1.5 8 2 5 -1 2 1.5 4 -1.5 11 1 4 -2 5 0.5 1 1 -0.5 1 1.5 1 10 -3 3 1.5 6 -1 2 1.5 4 -2 3 2.5 2 -2.5 1 0.5 9 1 2 -1.5 3 2.5 3 -2.5 3 1.5 8 0 3 0.5 2 -0.5 3 0.5 7 -2 3 1.5 3 0.5 6 -1.5 6 2 3 -1.5 1 1 4 0.5 2 -0.5 3 0.5 4 -2 7 2 2 -1 2 0.5 1 -1 7 0 3 0.5 8 -1.5 3 1.5 4 -1 3 0.5 3 -2.5 2.5 1.5 2.5 0 2 0.5 4 -1 2 0.5 13 0 4 1 59 -0.5 0.5 9.5 -0.5 9.5 -56 0 -1 2.5z"/><path fill="#39b6d7" fill-rule="evenodd" d="M397 259l-11 -1.5 -4 2 -2 -2 -2 0.5 -4 -1 -2 1 -1 0 -1 -2.5 -3 2.5 -7 0 -3 -1.5 -3 1.5 -3 -1.5 -3 0.5 -1 -1 -1 1.5 -3 0 -3 -1 -7 0.5 -2 -0.5 -3 1.5 -3 -1 -3 1 -5 -1.5 -5 0.5 -3 -0.5 -6 1.5 -3 -0.5 -3 -2.5 -3 2.5 -4 0.5 -3 -2 -2 1 -3 -0.5 -3 1 -7 -2 -4 3 -2 -2 -3 1 -2 -2 -5 0 -2 0.5 -3 2.5 -3 -3.5 -3 2 -4 -1.5 -5 1.5 -7 -1 -4 2.5 -4 -2 -5 -0.5 -3 0.5 -2 1.5 -2 0 -3 -1 -2 -1.5 -2 -0.5 -5 2.5 -6 -0.5 -2 -2 -2 1.5 -5 -1 -4 2.5 -2 -0.5 -3 -1.5 -54 0 0 -16 0 -2 54 0 2 0.5 4 0 3 -1.5 8 1.5 5 -0.5 2 1.5 4 -1.5 5 0.5 6 0 4 -1.5 5 1 -0.5 1 2.5 1.5 10 -3 2 1.5 6 -1 3 1.5 4 -2.5 3 3 2 -2.5 10 1.5 2 -1.5 3 2.5 3 -3 4 2 7 -0.5 3 1 2 -1 2 1 5 -0.5 3 -1.5 3 2 12 -1 3 1 3 -1 1 1 4 0.5 2 -1 3 1 3 -2 7 2 13 -2 3 1 8 -1.5 4 1.5 3 -1 3 0.5 3 -2.5 3 1.5 2 -0.5 3 1 3 -1 2 0.5 13 0 4 1 59 -0.5 0 18 -56 0 -1 2.5 -8 -0.5 -2 1z"/><path fill="#4bb6bc" fill-rule="evenodd" d="M382 259l-2 -2 -2 1 -4 -1.5 -3 1 -1 -2.5 -3 2.5 -5 -0.5 -2 1 -3 -2 -3 1.5 -2 -1 -5 -0.5 -1 1 -3 0 -3 -1 -7 1 -2 -1 -3 2 -3 -1.5 -2 1 -3 0 -3 -1.5 -5 0.5 -3 -0.5 -6 1.5 -4 -1 -2 -2 -3 2.5 -4 1 -3 -2.5 -2 1 -3 -0.5 -3 1.5 -7 -2 -4 2.5 -2 -2 -3 1 -2 -2 -2 1 -3 -1 -2 0.5 -3 2.5 -3 -3 -3 1.5 -4 -1.5 -5 1.5 -8 -0.5 -3 2 -4 -2 -5 -0.5 -3 0.5 -2 1.5 -2 0 -3 -1 -2 -1.5 -2 0 -5 2 -6 -0.5 -2 -1.5 -3 1.5 -4 -1 -4 2 -5 -2 -54 0 0 -15.5 0 -1.5 54 0 5 0.5 4 -1.5 2 1 11 0 2 1 4 -1.5 5 1 6 0 4 -2 7 3.5 10 -2.5 2 1.5 6 -1 3 1.5 4 -2.5 3 3 2 -2 10 1 2 -1.5 3 2.5 3 -3 4 1.5 7 0 3 0.5 2 -0.5 2 1 5 -1 3 -1 3 2 10 -0.5 2 -1 3 1.5 3 -1 5 1.5 2 -1 3 0.5 3 -1.5 7 1.5 13 -1.5 3 1 8 -1 4 1 3 -1.5 3 1 3 -2.5 3 1.5 2 -0.5 3 1 3 -1 2 0.5 13 0 4 0.5 59 0 0 17 -56 0 -1 2.5 -2 0.5 -6 -1 -3 1.5 -10 -2 -4 2z"/><path fill="#61b89b" fill-rule="evenodd" d="M403 258l-4 -1 -4 1 -9 -1.5 -3 1.5 -3 -1.5 -2 1 -4 -1.5 -2 1.5 -1 -0.5 -1 -2 -3 2 -5 -0.5 -2 1 -3 -2 -3 1.5 -3 -1.5 -8 1 -3 -1 -7 0.5 -2 -0.5 -3 2 -3 -1.5 -5 1 -3 -1.5 -5 0.5 -3 -0.5 -6 1.5 -4 -1 -2 -2 -3 2.5 -4 1 -3 -2.5 -2 1 -3 -0.5 -3 1.5 -7 -2.5 -4 3 -2 -2 -3 1 -1 -1.5 -3 0.5 -2 -1 -3 0.5 -3 2.5 -3 -3 -3 1.5 -4 -1.5 -5 1.5 -8 -1 -3 2.5 -4 -2 -2 0.5 -3 -1 -3 0.5 -2 1.5 -2 0 -5 -2.5 -3 0 -4 2 -6 -0.5 -2 -1.5 -3 1.5 -4 -1 -4 2 -5 -2 -54 0 -0.5 -11 0.5 -5.5 54 0 5 1 4 -1.5 2 1 8 0 5 1 4 -1.5 3 0 2 1 6 0 4 -2 3 2.5 4 1 9 -2 3 1 6 -1.5 3 2 4 -2.5 3 3 3 -2 2 -0.5 7 1.5 2 -1.5 3 2.5 3 -3 4 1.5 7 -0.5 3 1 2 -0.5 2 0.5 6 -0.5 2 -1.5 3 2.5 6 -1 3 1 3 -1.5 3 1.5 3 -1 5 1.5 2 -1 3 0.5 3 -1.5 8 2 2 -1 8 -0.5 2 -1 3 1.5 3 -1 4 0 5 1.5 3 -2 3 1 3 -2.5 8 2 3 -1 11 1 4 -1 6 1 57 -0.5 0 16.5 -56 0 -1 2.5 -4 0.5z"/><path fill="#7abd76" fill-rule="evenodd" d="M406 257l-7 0 -4 0.5 -9 -1.5 -3 1.5 -3 -1.5 -2 1 -4 -1.5 -2 1.5 -2 -2 -3 1.5 -5 -0.5 -2 1 -3 -2 -3 1.5 -3 -1.5 -8 1 -3 -1 -7 0.5 -2 -0.5 -3 2 -3 -1.5 -5 1 -3 -1.5 -5 0.5 -3 -0.5 -6 1.5 -3 -0.5 -3 -2.5 -2 2 -5 1.5 -2 -4 -3 2.5 -3 -0.5 -3 1.5 -7 -2 -4 2.5 -2 -2 -3 1 -1 -1.5 -3 0 -2 -1 -3 1 -3 2.5 -3 -3 -3 1.5 -4 -1 -6 1 -2 -1 -5 0 -3 2 -4 -1.5 -5 -0.5 -6 2 -6 -2.5 -3 0 -4 2 -6 -0.5 -2 -1.5 -3 1.5 -4 -1 -4 2 -2 -0.5 -3 -1.5 -54 0 -0.5 -10.5 0.5 -5 54 0 5 1 3 -1.5 3 1.5 8 -0.5 5 1 6 -2 3 1.5 6 -0.5 4 -1.5 3 3 4 0.5 8 -2 4 1 6 -1.5 2 2.5 1 0 4 -3 3 3 3 -2 2 -0.5 4 1.5 3 0 2 -1.5 3 2.5 3 -3 4 1.5 7 -0.5 3 1 2 -0.5 2 0.5 5 -0.5 3 -1.5 3 2.5 6 -1 3 1.5 3 -2 3 1.5 3 -1 5 1.5 2 -1 3 0.5 3 -1.5 8 2 2 -1 7 0 3 -1.5 3 1.5 3 -1.5 4 0 5 2 2 -2 2 -0.5 2 1.5 3 -2.5 8 2 3 -1.5 11 1 4 -0.5 6 1 57 -0.5 0 15.5 -56 0 -2 2.5z"/><path fill="#94c448" fill-rule="evenodd" d="M405 257l-6 -0.5 -2 0.5 -3 0 -8 -1.5 -3 1.5 -3 -1.5 -2 1 -4 -1 -2 1 -3 -2 -2 1.5 -5 -0.5 -2 1 -3 -2.5 -3 2 -3 -1.5 -8 1 -3 -1 -9 0 -3 2 -3 -2 -5 1 -2 -2 -5 1.5 -4 -1 -2 1.5 -4 0.5 -3 -0.5 -0.5 -0.5 0.5 -1 -3 -1 -2 2 -5 1 -2 -4 -1 0 -1 2.5 -1 0.5 -3 -0.5 -3 1.5 -8 -2.5 -3 3 -2 -2 -3 1 -1 -1.5 -5 -1 -3 1 -3 2.5 -3 -3.5 -3 2 -8 -1 -2 1 -7 -0.5 -3 1.5 -4 -2 -6 0.5 -5 1.5 -9 -3 -3 2.5 -2 0 -5 -0.5 -2 -1 -3 1 -4 -1.5 -4 2.5 -5 -2 -54 0 0 -10 0 -4.5 54 0 5 1 3 -1.5 3 1.5 1 -1 7 0.5 5 1 6 -2 4 1.5 5 -0.5 4 -1.5 2 2.5 4 1 10 -2 3 0.5 6 -1.5 2 3 1 0 4 -3 2.5 2 0.5 2 3 -3 4 0 2 1 3 0 2 -1.5 3 2.5 4 -3 4 2 6 -1 3 1.5 2 -1.5 2 1 5 -0.5 3 -1.5 3 2.5 6 -1 3 2 3 -3 3 2 2 -1 6 1.5 2 -1.5 3 1 3 -1.5 4.5 2 3.5 0 2 -1 3 -0.5 4 0.5 3 -1.5 3 1.5 3 -1.5 4 0 5 2 2.5 -2.5 3.5 1 3 -2 5 0.5 3 1.5 3 -1.5 11 1 4 -0.5 6 1 57 -0.5 0 14.5 -56 0 -1 2.5 -2 0.5zM345.5 249l-0.5 -1 0.5 1z"/><path fill="#bcd128" fill-rule="evenodd" d="M406 256.5l-3 0 -4 -0.5 -2 1 -3 0 -8 -2 -3 1.5 -3 -1 -2 0.5 -4 -1 -2 1 -3 -1.5 -3 1.5 -4 -1 -2 1 -3 -3 -3 2.5 -3 -1 -13 0 -5 -2 -5 3.5 -2 -1 0.5 -1 -0.5 -0.5 -6 1.5 -2 -2.5 -2 2 -5 0 -2 -1 -2 1.5 -4 0.5 -1.5 -0.5 2.5 -1 0 -1 -7 -1 -2 2.5 -5 1 -2 -4 -1 0 -1 2.5 -5 0.5 -2 1 -2 -1.5 -3 0 -3 -1.5 -3 3 -3 -1.5 -2 1 -1 -1.5 -5 -1.5 -6 4 -3 -3.5 -4 2 -5 -0.5 -2 -1 -2 1 -9 0 0 1 -1 0.5 -4 -2.5 -2 0 -6 1.5 -2 1.5 -10 -4 -5 3 -5 -0.5 -2 -1 -3 1 -4 -1.5 -4 2.5 -2 -0.5 -3 -2 -54 0 0 -9 0 -3.5 54 0 4 0.5 4 -1.5 2 1.5 5 -1 9 2 6 -3 4 2 5 -0.5 4 -1.5 2 2.5 5 1 10 -1.5 2 0.5 6 -2 1 2.5 2 0.5 4 -3 2 1.5 1 3 4 -3.5 5 1.5 3 -0.5 2 -1 3 1.5 4 -2.5 4 2.5 2 -1 4 0 3 1 2 -1 2 0.5 3 -0.5 2 0.5 3 -2 2 2.5 7 -1 3 2 1 0 0.5 -2 1.5 -1 3 2 2 -0.5 5 0.5 -2 1 2 0.5 3 -2 3 1 3 -2 4 2 4 0 4 -1 1 -1 2 0 2 1.5 3 -2 3 1.5 3.5 -1.5 3.5 0 5 2 3 -3 3 1.5 3 -2.5 5 0.5 3 1.5 3 -1 4 0.5 3 -0.5 4 1 4 -1 6 1.5 57 0 0 12.5 -56 0 -1 3 -1 0.5zM345.5 250l0.5 -2 -1 -1 -1 2 1.5 1z"/><path fill="#e0df19" fill-rule="evenodd" d="M406 256l-3 0.5 -4 -1 -2 1 -3 0 -8 -1.5 -3 1.5 -3 -1.5 -2 0.5 -3 -1 -3 1 -3 -1.5 -3 1.5 -4 -1 -2 1 -2 -3 -1 -0.5 -3 3 -3 -1 -6 -0.5 -2 0.5 -5 0 -5 -2 -2 2 -2 0.5 -3 -2 -4 1.5 -2 0 -2 -2.5 -2 2.5 -5 0 -2 -1.5 -3 1.5 -2.5 -2 -6.5 -1 -2 3 -4 1 -1 0 -1 -3 -1 -1 -1 0 -2 2.5 -6 1 -2 -1.5 -3 0 -3 -1.5 -3 3.5 -3 -1.5 -2 1 -2 -2.5 -4 -1 -3 1.5 -3 3 -3 -4 -2 0.5 -2 2.5 -5 -1 -2 -1.5 -2 1 -2 -0.5 -3 0.5 -7 0 -4 -1 -8 3.5 -2 -0.5 -2 -2 -6 -1.5 -5 3.5 -5 -1 -2 -1.5 -3 1 -4 -1.5 -3 1.5 -2 -1 -3 0.5 -1 -0.5 -54 0 0 -8.5 0 -3 59 0.5 3 -1.5 2 2 9 -1 5 1.5 2 -0.5 4 -2.5 4 2 5 -0.5 4 -1.5 2 2.5 5 1 10 -1.5 2 0.5 1 1.5 2 -0.5 -2 -1 4 -2 1 0 1 2 1 0.5 5 -2 1 0 2 4 3 -2.5 2 -1 4 1.5 5 -1 3 1 4 -3 2 1.5 0.5 1 -1.5 1 1 0.5 2 -1 3 1 3 -1.5 4 0.5 1 -0.5 2 1.5 3 -1.5 3 0 2 -2 2 2.5 4 1 3 -1.5 2 1.5 2 0.5 1 -3 1 -0.5 2 2 4 -0.5 2 2 2 0.5 3 -1.5 3 0.5 1 -1.5 2 -0.5 2 1 9 0.5 1 0 1 -2 5 1.5 2 -2 3 1.5 4 -1.5 3 0 2.5 1.5 -0.5 1 1 0 3 -1 2 -2.5 3 1.5 3 -2.5 5 0.5 3 1.5 3 -1.5 4 1 2 -1 4 1 6 -0.5 6 1.5 56 0 0 11.5 -56 0 -1 3 -1 0.5zM346.5 250l-0.5 -3 -1.5 0 -0.5 3 2.5 0zM399.5 254l-0.5 -0.5 -0.5 0.5 1 0z"/><path fill="#f5d711" fill-rule="evenodd" d="M403 256l-3.5 -1 0.5 -1.5 -1 -1.5 -1.5 2 1.5 1 -2 1 -11 -1.5 -3 1.5 -8 -2 -3 1.5 -3 -2 -3 1 -5 -0.5 -1 1 -2 -3.5 -1 -0.5 -3 3.5 -3 -1.5 -6 -0.5 -7 1.5 -5 -3 -4 3 -2 -2 -7 1 -2 -2 -3 3 -4 -1 -2 -1.5 -3 2 -2 -2 -7 -1 -2 2.5 -4 0.5 -3 -3 -1 0 -2 2.5 -4 0 -2 0 -3 -1 -2 0.5 -3 -1.5 -3 3 -3 -1.5 -2 1 -1 -2 -5 -1 -3 1 -3 3 -3 -4 -2 1 -2 2.5 -5 -1 -2 -1.5 -2 0.5 -2 -0.5 -10 1 -2 -1 -3 0 -1 1 -6 2 -2 -0.5 -1 -1.5 -6 -1.5 -2 0.5 -4 3 -5 -1 -2 -2 -3 1.5 -4 -1.5 -3 1 -2 -0.5 -3 0.5 -1 -1 -54 0 0 -7.5 0 -2 54 0 1 1 7 -2 1 1 5 0.5 1 -0.5 1 1 3 -1.5 6 1.5 5 -3 4 2 5 0 4 -2 2 2 9 1.5 6 -1.5 4 2.5 2 -3.5 1 -0.5 3 2.5 5 -2 3 4.5 5 -3.5 7 1 2 -1 4 1 3 -2.5 2 1.5 -1.5 1 0.5 1.5 3 -1.5 3 1.5 3 -2 7 2 6 -1.5 2 -2 6 3.5 2 -1.5 2 0 2 4 3 -6 2 2 4 -0.5 2 2.5 2 0 3 -1 3 0.5 1 -1.5 2 -1 2 1 9 1 1 0 1.5 -2 4.5 1 2 -2 3 1.5 5 -1.5 2.5 0 0.5 2 1 0.5 4 -1 2 -3 3 2.5 2 -3 1 -0.5 5 0.5 3 2 3 -1.5 4 1 3 -1 4 1 4 -1 5 1.5 2 1 56 0 0 9.5 -56 0 -1 3.5 -4 1zM405.5 244l0.5 -1 -2 0 1.5 1zM346.5 250l0 -3 -2.5 0 0 3.5 2.5 -0.5zM189 250l1 -2 -1 -1 -3 0 0 2.5 3 0.5zM204.5 249l-0.5 -1.5 0 2 0.5 -0.5zM222 249l0 -1 0 1zM309 249l0 -1 0 1z"/><path fill="#f9b80e" fill-rule="evenodd" d="M406 255l-5 0 -2 -3.5 -2.5 2.5 1.5 1 -1 0.5 -3 0 -8 -1 -3 1 -8 -2 -3 1.5 -3 -2 -3 0.5 -6 -0.5 -3 -2.5 -3 4 -3 -2.5 -6 -0.5 -6 2 -6 -3 -4 3 -2 -2 -7 1 -2 -2 -1 0 -1 2.5 -1 0.5 -4 -1 -1.5 -1.5 1 -6 1.5 -1.5 3 0.5 3 -1 2 2.5 2 0 3 -1 3 0.5 3 -2.5 2 1 9 1 3 -1.5 11 0 4 -1.5 1 0 0 1.5 2 1.5 4 -1.5 2 -3 3 2 2 -3 1 0 5 0.5 3 1.5 3 -1.5 4 1.5 2 -1.5 4 1.5 6 -1 3 2 -1 1 1 1.5 2 -2.5 1 0.5 56 0 0 8 -56 0 -0.5 3.5 -1.5 1zM268 253.5l-2 -1.5 -3 1 -1 -2 -5 -0.5 -3 0.5 -3 2.5 -3 -3.5 -2 0.5 -2 3 -5 -1 -2 -1.5 -2 0.5 -2 -0.5 -10 0.5 -1 -0.5 1 -2 0 -1.5 -1 -0.5 -1 0.5 -1 3 -9 3 -2 -0.5 -1 -1.5 -3 -0.5 0.5 -3 -1.5 -1 -1 0.5 0 2.5 -5 1.5 -2 2 -5 -1 -1.5 -1.5 1 -1 0 -2 -1.5 -1.5 -4 0.5 0 3.5 2.5 0.5 -1.5 1 -4 -1.5 -3 1.5 -2 -1 -3 0.5 -1 -1 -54 0 0 -6.5 0 -1.5 54 0 1 1.5 2 -1.5 5 -1 6 2 3 0 2 -1.5 6 1.5 6 -3.5 2 2.5 5 1 5 -3 2 2 6 1.5 9 -1.5 2 1 2 2 2 -3.5 1 -1 3 2.5 5 -1.5 2.5 4 1.5 0 5 -3.5 6 1 3 -1 3 1.5 2 -1.5 2 3.5 3 -2 3 1 3 -2 7 2 8 -2.5 4 0.5 2 2 3 -2 2 2 0.5 6 -1.5 1.5 -10 -2.5 -3 2.5 -3 0 -3 -2 -3 1.5 -6 0.5 -8 -2 -3 3zM272 242l0 -0.5 0 0.5zM406 242l-0.5 0 0.5 0zM347 250l0 -3 -3.5 0 0.5 3.5 2 0 1 -0.5zM213.5 249l-0.5 -1 0.5 1zM195.5 249l-0.5 -1 0.5 1z"/><path fill="#f69616" fill-rule="evenodd" d="M405 255l-4 -0.5 -1 -3 -1 -0.5 -4 2 0 1.5 2 0.5 -11 -1 -3 1 -8 -2.5 -3 2 -3 -2.5 -5 1 -4 -1 -3 -2 -1 0.5 -2 3.5 -3 -2.5 -4.5 -0.5 2.5 -1.5 0.5 -1.5 -3.5 -1.5 -2.5 0.5 0.5 4 -1 1 -2 0 -2 1 -6 -2.5 -4 2.5 -2 -2 -4 0 -1 0.5 -2.5 -0.5 0.5 -1 1.5 0 0.5 -3 1.5 -1 4.5 -0.5 2 -2.5 1 0 2 1.5 7 0 2 1 3 -2 16 0 2 2.5 4 -2.5 2 -3 3 2 2 -3 1 0 5 0 3 2 3 -1.5 4 1.5 2 -1.5 4 1.5 6 -1 1.5 0.5 1.5 5 2 -3.5 1 1 56 0 0 6.5 -56 0 -1 4.5 -2 0.5zM196 253l-2 0 -3.5 -2 1.5 -2 4 1 1 -1 -0.5 -2 -2.5 0 -2 1 -3 -2.5 -4 1 -1 4 -2 0 -3 0.5 -2 -0.5 -3 0.5 -1 -1 -54 0 0 -6.5 54 0 1 1 2 -1.5 5 -1 8 2.5 3 -2 6 1.5 4 -1.5 1 -1.5 1 -0.5 1 3 3 -0.5 3 1 3 -1.5 2 3 2 -3 6 2 4 0 5 -1.5 4 3 1 -0.5 2 -4 4 2.5 3 -1.5 1 0.5 1 3 3 1 4 -1 1 -3 6 1 3 -1.5 3 2 2 -0.5 0.5 2 1.5 0.5 3 -1.5 1.5 1 2.5 0 2 -2.5 7 2 4 -1.5 2 0 1 2 1 0 2 -2.5 2 0 2 2 3 -2 1.5 1.5 -0.5 6.5 -11 -2 -1 -2.5 -1 -0.5 -1.5 0.5 -1 2 1.5 1 2 0 0 1 -1 0.5 -3.5 0.5 -2.5 -2 -3 1.5 -6 0 -8 -1.5 -3 3 -3 -2 -2 1 -1 -1.5 -6 -0.5 -2 0 -3 3 -3 -4 -2 1 -2 2.5 -1 0 -6 -2 -13 0 -0.5 -3.5 -1.5 -0.5 -1 0.5 -1 3 -9 3 -2 -0.5 -1 -1.5 -2 -1 -0.5 -3 -1.5 -0.5 -1 0.5 -1 3 -3 0.5 -3 2.5zM315 253l-4.5 -2 0.5 -6 1 -1 3 0.5 3 -1.5 2 3 0 4 -3.5 0 -0.5 -3 -2 0 0 2.5 2 0.5 0.5 1 -1.5 2zM214.5 250l-0.5 -3 -2 0 -0.5 2 0.5 1 2.5 0zM244 250l0.5 -2 -1.5 -1.5 -1 1 0 2.5 2 0z"/><path fill="#f27619" fill-rule="evenodd" d="M407 254l-5 0.5 -3 -3.5 -8 3 -5 0 -3 0.5 -8 -2.5 -3 1.5 -3 -2.5 -5 1 -4 -0.5 -2 -4 -1 -0.5 -2 1 -2 -0.5 -1.5 -1.5 0 -1 1.5 -1.5 8 0.5 0.5 5 1.5 0 0 -1 2 -3 2 -1 2 -3 3 2 3 -3.5 5 0.5 3 2.5 3 -2 4 1.5 2 -1.5 4 1.5 6 -1 1.5 1 1.5 5 2 -4 1 1 56 0 0 5 -56 0 -1 5zM204 242l-0.5 0 0.5 0zM184 250l-5 0.5 -2 -3 -1 0.5 -0.5 2 -1.5 0 -1 -1 -54 0 0 -5 54 0 1 2.5 2 -3 6 -1 2 0.5 1.5 2 -1.5 5zM201 250l-1.5 0 -0.5 -2.5 -1 -1 -7 0 -0.5 -0.5 0 -2 1.5 -1 5 1.5 6 -1.5 2 1 3 -0.5 2 1 3 -1 1.5 0.5 0.5 2 -1 0.5 -7 0.5 -4 -1 -1 3.5 -1 0.5zM226 250l-2 0 -1 -4 -2 0.5 -1 2.5 -3 1.5 -2 -0.5 -0.5 -3 2.5 -1 1 -3 2 0 7 3 0.5 2 -1.5 2zM240 251l-5 -1 -1 -2.5 -1.5 2.5 -2.5 0.5 -1 -0.5 -0.5 -3 4.5 -3.5 2 1 1 2 1 0 1 -0.5 2 -3.5 1 0 2 2 3 -2 1.5 0.5 0.5 3 -1 2 -1 0.5 -3 -3 -1 1.5 -0.5 3 -1.5 1zM268 252l-1.5 -1 1.5 -2 0 -1 -2 0 -1.5 3 -1.5 0.5 -1 -1.5 -8 -1 0 -1 3 -2 0.5 -2 5.5 0.5 3 -1.5 4 3.5 2 0.5 8 -0.5 2 -2 7.5 2.5 -0.5 2.5 -4 1.5 -6 0 -8 -2 -2 1 -1 2zM305 250.5l-3 0 -3.5 -1.5 0.5 -5 2 0 1 2 2.5 0 1.5 -1.5 1 0.5 -1 5 -1 0.5zM312 247.5l-0.5 -1.5 0.5 -1.5 3 1 3 -2 1.5 2.5 -1.5 1 -4 -1 -2 1.5zM339 252.5l-6 -2.5 -4 2 -1 -1.5 -5 -1 0 -1.5 1 -1.5 4 -0.5 3 -2.5 2 3 2 -1.5 2 0 6 2 0 4.5 -2 -0.5 -2 1.5zM295 246l-2.5 0 0 -1 2.5 -0.5 0 1.5zM349 246l-5 0 -0.5 -1 2.5 -1 3.5 1 -0.5 1zM212 252l-2 0 -1.5 -1 0.5 -1 2 0 2 1 -1 1zM315 252.5l-4 -1.5 1 -1.5 4 1 0 1.5 -1 0.5zM354 253l-1.5 -1 -0.5 -2 3 -1 0.5 2 -1.5 2zM196 252l-4 -1 4 -0.5 1 0.5 -1 1zM244 252l-2 -1 2 -0.5 0 1.5zM251 252l-0.5 -1 1.5 -1 0.5 1 -1.5 1zM291 251l-1 0 2 0 -1 0zM306 251l0 -1 0 1z"/><path fill="#ee5a1a" fill-rule="evenodd" d="M406 254l-4 0 -2 -3 -1 -0.5 -4 1 -1 1 -2 0 -1 1 -5 0 -2 1 -3.5 -0.5 -5.5 -3 -3 2 -2 -2 0 -3 -1 -0.5 -1 0.5 0.5 2 -1.5 1.5 -4.5 -0.5 1.5 -1 0.5 -3 4.5 -5.5 3 2 3 -3.5 3 1 2 -0.5 3 2.5 3 -2.5 4 2 3 -2 2 1.5 7.5 0 1.5 3 0 4 1 0.5 1.5 -4.5 0.5 -1.5 0.5 0.5 0.5 6 -1 3.5 -1 0.5zM180 250l-1 0 -0.5 -3 -3 -1 0.5 -2 5.5 -1 2.5 0.5 0.5 1.5 -0.5 4 -4 1zM247 246.5l-2 0 -1 -1.5 3 -2 0 3.5zM379 243l-1.5 0 1.5 0zM194 246l-3 0.5 0 -2.5 2 -0.5 3 1.5 -2 1zM201 249l-1 0 0 -2 1 -3 4 0.5 2 -1 2.5 1.5 -1.5 1.5 -5 -1 -2 3.5zM213 246l-1 0 -0.5 -1 2.5 -1 0 1.5 -1 0.5zM217 249.5l-2 -0.5 0 -2 2 -0.5 1 -3.5 2 0.5 2.5 1.5 -4.5 2.5 -1 2zM234 246l-1 0 0 -2 2 1 -1 1zM241 250l-5 0 -0.5 -2 0.5 -1 2 -0.5 1 -2.5 2 -1 1 2 -1 5zM268 246.5l-3.5 -0.5 0.5 -2 1 -0.5 2 1.5 1 1 -1 0.5zM355 246.5l-2.5 -0.5 0.5 -2 2.5 0 0.5 2 -1 0.5zM304 250.5l-2.5 -0.5 -1 -3 -1.5 -1 0 -1.5 1 0 1.5 1.5 3.5 1 0 3 -1 0.5zM318 246.5l-1.5 -0.5 0.5 -1.5 1.5 0.5 0.5 1 -1 0.5zM330 251l-1 0.5 -1 -1 -2 -0.5 -0.5 -2 0 -1 2.5 -0.5 3 -2.5 1 5 -2 2zM346 245.5l-2 -0.5 2 -0.5 1 0.5 -1 0.5zM361 246l-2 0 -0.5 -1 2.5 0 0 1zM226 249l-1.5 0 0.5 -2.5 1 1 0 1.5zM231 250l-1 0 -0.5 -3 2.5 -0.5 0.5 2.5 -1.5 1zM259 249l-1.5 0 -0.5 -2 2.5 0 -0.5 2zM286 250l-7.5 0 -0.5 -2 3 -1.5 5 0 1.5 1.5 -1.5 2zM340 251l-1 0.5 -4.5 -1.5 -0.5 -3 2 -1 3 1.5 3 -0.5 0.5 3 -2.5 1zM196 251l-2 0 2 0zM212 251l-2.5 0 2.5 0zM244 251l-0.5 0 0.5 0zM251 251.5l0.5 -0.5 -0.5 0.5zM268 251l-1 0 1 0zM315 252l-1.5 -1 2.5 0 -1 1zM354 252.5l-1.5 -1.5 0.5 -1 2 0.5 -1 2z"/><path fill="#ea3e1c" fill-rule="evenodd" d="M384 254l-2.5 0 -2.5 -2 -4 -1.5 -1 0 -2 2 -1 -0.5 -0.5 -1 1.5 -2 0 -1 -5 -2 0.5 -2 1.5 -1.5 3 1 3 -3 3 1.5 2 -1 1.5 1 -0.5 1 2 1 2 -1 1 -1.5 1.5 0.5 -0.5 1 1 0 4 0 0 -1.5 1 0 0.5 0.5 -1 1 9.5 0 1.5 2 0 4 1.5 1 1 -1 1 -5 0.5 1 -0.5 8 -5 0.5 -2 -3 -4 -0.5 0 -2 0 2 -2 2 -2 0 -1 1 -3 0.5 -2 -0.5 -2 1zM379.5 243l-1.5 -1 -1.5 1 1.5 1 1.5 -1zM183 247l-7 -1 -0.5 -1 1.5 -1.5 2 1 4 -1 1 1.5 -1 2zM193 246l-2 0 0.5 -2 2 0 0.5 1 -1 1zM220 246.5l-2 0 0 -3 2.5 0.5 0.5 1 -1 1.5zM240 250l-1.5 0 -1.5 -2 1 -0.5 1 -3 2 -1 0 5.5 -1 1zM247 246l-2 0 -0.5 -1 1.5 -1.5 1.5 0.5 -0.5 2zM268 246l-2.5 0 0 -2 2 1 0.5 1zM208 246l-2 0 -0.5 -1 2.5 -0.5 0 1.5zM330 250l-3 -0.5 -1 -1.5 3 -1 1 -2 1 1 -1 4zM355 246l-2 0 0 -1 2 -0.5 0 1.5zM285 250l-1.5 -1 0 -2 2.5 0 0.5 2 -1.5 1zM304 250l-2.5 0 0 -3 3 0 -0.5 3zM337 250l-2 0 0 -3.5 2.5 0.5 -0.5 3zM366 251l-1.5 -1 0.5 -3 2 -1 1 1 -0.5 3 -1.5 1zM216 249l0 -1.5 1 0.5 -1 1zM231 249l0 -2 0 2zM354 252l-1 -1 2 0 -1 1z"/><path fill="#e5261e" fill-rule="evenodd" d="M384 254l-2 0 -3 -2.5 -5.5 -1.5 -0.5 -3 -5.5 -1 0.5 -2 1 -1 3 1 3 -2.5 1 0.5 -0.5 1 1.5 2 1 0 2 -2 3 1.5 3 -1.5 2 1 6 0 2 -1 6 0.5 1.5 1.5 0 5 1.5 0 1 0 1 -6 0.5 1 -0.5 7.5 -5 0.5 -2 -2.5 -2.5 -0.5 -0.5 -2.5 -1 -0.5 -2 4.5 -6 1.5 -2 -0.5 -2 1.5zM220 246l-1.5 0 -0.5 -2 2 0 0 2zM246 246l-0.5 -1 0.5 -1 0.5 1 -0.5 1zM178 246l-1.5 0 -0.5 -1 1 -0.5 3 0.5 -2 1zM193 245.5l-1 0.5 -1 -1 1 -1 1 1.5zM207 245.5l-0.5 -0.5 1 0 -0.5 0.5zM240 248.5l-0.5 -3.5 1.5 -1 -1 4.5zM266 245.5l0 -1 1 0.5 -1 0.5zM304 250l-2 0 0 -3 2.5 0 -0.5 3zM367 250l-1.5 0 0 -3 1.5 0 0 3zM336 249l0 -1.5 1 0.5 -1 1zM372 252l-1 -1 1 -1 1 1 -1 1z"/><path fill="#e2161e" fill-rule="evenodd" d="M385 253l-2 0.5 -4 -2.5 -5 -1.5 -1 -3 -5 -0.5 0 -1.5 1 -1 3 1 3 -1 1 0.5 1 2 1 0 1 -0.5 1 -2 3 1 3 -1 2 1 6 0 2 -1 2 0.5 4 0 1 2 -1.5 3 3.5 1.5 1.5 -0.5 0.5 -5 0 7 -5 0.5 -2 -2.5 -2.5 0 0 -3 -1.5 -0.5 -1 0.5 -1 4 -6 1.5 -2 -0.5 -1 1zM304 249.5l-1 0.5 -1 -0.5 0 -2 2 0 0 2zM385 249l0 -2 -1.5 0 -0.5 2 1 0.5 1 -0.5z"/><path fill="#b5111b" fill-rule="evenodd" d="M370 246l-1.5 -1 0.5 -1 2 1 -1 1zM384 253l-8 -3 -1.5 -1 0 -2 4.5 -1 2 -1.5 2 1 3 -1.5 7 1 3 -1.5 7 1.5 -0.5 1 -1.5 1 -0.5 3 -2.5 0 -0.5 -3 -2.5 -0.5 -1 4 -6 1.5 -2 -1 -2 2zM405 252l-3 0 -1 -1.5 5 0 1 -5 0 6 -2 0.5zM385.5 250l0 -3 -2.5 -1 0 4 2.5 0zM303 249l-0.5 -1 0.5 -0.5 0 1.5z"/><path fill="#830c14" fill-rule="evenodd" d="M388 251.5l-1.5 -0.5 -0.5 -1 -0.5 -5 3.5 1 5 0 0 4.5 -5 0 -1 1zM397 246l-3 0 2 -2 2 1 0 1 -1 0zM384 252.5l-7.5 -2.5 -0.5 -3 6 -1 0.5 4 3.5 1 -2 1.5zM400 249l-2 0 0 -2.5 2 0 0 2.5zM407 251l0 -4.5 0 4.5zM405 251l-3 0 3 0z"/></g></g>
<rect x="14" y="14" width="1170" height="1206" fill="none" stroke="#adadad" stroke-width="4.3"/>
<line x1="599" y1="14" x2="599" y2="1220" stroke="#adadad" stroke-width="4.3"/>
<line x1="72.10" y1="951.50" x2="72.10" y2="959.50" stroke="#b4c6d6" stroke-width="1.4"/>
<line x1="121.60" y1="93.40" x2="461.50" y2="93.40" stroke="#8c8c8c" stroke-width="1.4"/>
<line x1="121.60" y1="292.60" x2="461.50" y2="292.60" stroke="#8c8c8c" stroke-width="1.4"/>
<line x1="121.60" y1="93.40" x2="121.60" y2="292.60" stroke="#8c8c8c" stroke-width="1.4"/>
<line x1="461.50" y1="93.40" x2="461.50" y2="292.60" stroke="#8c8c8c" stroke-width="1.4"/>
<line x1="121.60" y1="292.60" x2="121.60" y2="299.10" stroke="#8c8c8c" stroke-width="1.4"/>
<line x1="206.57" y1="292.60" x2="206.57" y2="299.10" stroke="#8c8c8c" stroke-width="1.4"/>
<line x1="291.55" y1="292.60" x2="291.55" y2="299.10" stroke="#8c8c8c" stroke-width="1.4"/>
<line x1="376.52" y1="292.60" x2="376.52" y2="299.10" stroke="#8c8c8c" stroke-width="1.4"/>
<line x1="461.50" y1="292.60" x2="461.50" y2="299.10" stroke="#8c8c8c" stroke-width="1.4"/>
<line x1="115.10" y1="292.60" x2="121.60" y2="292.60" stroke="#8c8c8c" stroke-width="1.4"/>
<line x1="115.10" y1="193.00" x2="121.60" y2="193.00" stroke="#8c8c8c" stroke-width="1.4"/>
<line x1="115.10" y1="93.40" x2="121.60" y2="93.40" stroke="#8c8c8c" stroke-width="1.4"/>
<line x1="121.60" y1="380.30" x2="461.50" y2="380.30" stroke="#8c8c8c" stroke-width="1.4"/>
<line x1="121.60" y1="580.60" x2="461.50" y2="580.60" stroke="#8c8c8c" stroke-width="1.4"/>
<line x1="121.60" y1="380.30" x2="121.60" y2="580.60" stroke="#8c8c8c" stroke-width="1.4"/>
<line x1="461.50" y1="380.30" x2="461.50" y2="580.60" stroke="#8c8c8c" stroke-width="1.4"/>
<line x1="121.60" y1="580.60" x2="121.60" y2="587.10" stroke="#8c8c8c" stroke-width="1.4"/>
<line x1="206.57" y1="580.60" x2="206.57" y2="587.10" stroke="#8c8c8c" stroke-width="1.4"/>
<line x1="291.55" y1="580.60" x2="291.55" y2="587.10" stroke="#8c8c8c" stroke-width="1.4"/>
<line x1="376.52" y1="580.60" x2="376.52" y2="587.10" stroke="#8c8c8c" stroke-width="1.4"/>
<line x1="461.50" y1="580.60" x2="461.50" y2="587.10" stroke="#8c8c8c" stroke-width="1.4"/>
<line x1="115.10" y1="580.60" x2="121.60" y2="580.60" stroke="#8c8c8c" stroke-width="1.4"/>
<line x1="115.10" y1="480.45" x2="121.60" y2="480.45" stroke="#8c8c8c" stroke-width="1.4"/>
<line x1="115.10" y1="380.30" x2="121.60" y2="380.30" stroke="#8c8c8c" stroke-width="1.4"/>
<line x1="121.60" y1="670.00" x2="461.50" y2="670.00" stroke="#8c8c8c" stroke-width="1.4"/>
<line x1="121.60" y1="870.40" x2="461.50" y2="870.40" stroke="#8c8c8c" stroke-width="1.4"/>
<line x1="121.60" y1="670.00" x2="121.60" y2="870.40" stroke="#8c8c8c" stroke-width="1.4"/>
<line x1="461.50" y1="670.00" x2="461.50" y2="870.40" stroke="#8c8c8c" stroke-width="1.4"/>
<line x1="121.60" y1="870.40" x2="121.60" y2="876.90" stroke="#8c8c8c" stroke-width="1.4"/>
<line x1="206.57" y1="870.40" x2="206.57" y2="876.90" stroke="#8c8c8c" stroke-width="1.4"/>
<line x1="291.55" y1="870.40" x2="291.55" y2="876.90" stroke="#8c8c8c" stroke-width="1.4"/>
<line x1="376.52" y1="870.40" x2="376.52" y2="876.90" stroke="#8c8c8c" stroke-width="1.4"/>
<line x1="461.50" y1="870.40" x2="461.50" y2="876.90" stroke="#8c8c8c" stroke-width="1.4"/>
<line x1="115.10" y1="870.40" x2="121.60" y2="870.40" stroke="#8c8c8c" stroke-width="1.4"/>
<line x1="115.10" y1="779.00" x2="121.60" y2="779.00" stroke="#8c8c8c" stroke-width="1.4"/>
<line x1="115.10" y1="687.60" x2="121.60" y2="687.60" stroke="#8c8c8c" stroke-width="1.4"/>
<path d="M121.6,870.4 L247.5,870.4 L250.1,869.9 L253.0,868.6 L254.0,867.4 L256.0,863.6 L256.9,862.4 L257.7,862.0 L261.1,860.9 L262.1,860.5 L262.7,859.8 L263.2,858.2 L264.4,851.4 L266.4,824.6 L269.5,797.1 L270.3,791.7 L271.0,788.7 L272.5,784.4 L273.2,783.3 L273.7,783.0 L274.0,783.3 L274.6,784.6 L275.4,788.6 L276.4,794.7 L277.3,802.5 L278.1,814.0 L280.0,849.7 L281.2,866.1 L281.5,869.2 L281.9,870.4 L282.2,868.4 L282.5,863.2 L283.9,832.3 L288.2,721.5 L288.7,713.2 L290.2,694.9 L290.9,689.6 L291.2,688.1 L291.5,687.6 L292.1,689.2 L292.6,693.3 L293.9,711.9 L297.3,807.0 L299.2,846.3 L299.9,855.9 L300.6,862.0 L301.4,867.9 L302.1,870.3 L302.3,870.4 L302.4,870.2 L302.6,869.8 L303.3,865.7 L305.3,843.3 L307.4,824.3 L307.7,822.9 L308.5,821.1 L309.2,820.1 L309.9,819.8 L310.4,820.4 L310.9,822.1 L312.6,830.0 L314.3,841.2 L316.9,860.4 L318.4,867.1 L318.9,868.3 L319.3,868.6 L320.3,868.2 L324.2,865.4 L325.5,864.9 L326.0,865.1 L326.6,865.6 L328.8,868.4 L331.0,870.0 L332.3,870.4 L461.5,870.4" fill="none" stroke="#2c3f98" stroke-width="2.5" stroke-linejoin="round" stroke-linecap="butt" />
<path d="M121.6,870.4 L254.2,870.4 L255.5,870.1 L258.4,868.6 L261.1,867.5 L262.3,866.7 L263.2,865.2 L264.2,861.7 L265.4,856.2 L266.2,850.1 L270.1,811.0 L270.5,808.1 L270.8,807.0 L271.2,807.2 L271.7,808.1 L272.9,811.9 L274.4,819.3 L276.6,834.7 L279.3,860.9 L280.7,868.7 L281.0,869.9 L281.4,870.4 L281.9,867.9 L282.4,861.5 L283.9,833.1 L285.9,776.0 L288.3,718.4 L290.2,694.9 L290.9,689.6 L291.2,688.1 L291.5,687.6 L292.1,689.2 L292.6,693.3 L293.9,711.9 L297.3,807.3 L299.0,842.4 L300.0,855.8 L301.1,862.9 L301.7,866.0 L302.3,866.7 L302.8,866.3 L304.1,863.1 L307.9,857.3 L310.8,850.8 L312.5,848.3 L313.3,847.7 L314.0,848.6 L315.2,851.7 L317.0,855.7 L319.3,865.8 L319.8,867.6 L320.3,868.5 L324.2,868.5 L327.2,866.9 L328.4,866.8 L330.3,867.0 L332.5,867.7 L334.7,869.9 L335.6,870.4 L342.9,870.4 L343.9,869.9 L346.4,868.0 L347.6,867.7 L348.8,868.2 L350.4,869.9" fill="none" stroke="#151515" stroke-width="2.8" stroke-linejoin="round" stroke-linecap="butt" stroke-dasharray="8,4.5" />
<line x1="253.50" y1="776.80" x2="260.50" y2="776.80" stroke="#5060b0" stroke-width="1.1"/>
<path d="M265.0,776.8 L260.0,773.4 L260.0,780.2Z" fill="#2c3f98"/>
<line x1="315.50" y1="776.80" x2="308.00" y2="776.80" stroke="#5060b0" stroke-width="1.1"/>
<path d="M303.5,776.8 L308.5,773.4 L308.5,780.2Z" fill="#2c3f98"/>
<line x1="121.60" y1="953.70" x2="461.50" y2="953.70" stroke="#8c8c8c" stroke-width="1.4"/>
<line x1="121.60" y1="1153.30" x2="461.50" y2="1153.30" stroke="#8c8c8c" stroke-width="1.4"/>
<line x1="121.60" y1="953.70" x2="121.60" y2="1153.30" stroke="#f07a7a" stroke-width="1.4"/>
<line x1="461.50" y1="953.70" x2="461.50" y2="1153.30" stroke="#8d97cf" stroke-width="1.4"/>
<line x1="121.60" y1="1153.30" x2="121.60" y2="1159.80" stroke="#8c8c8c" stroke-width="1.4"/>
<line x1="291.55" y1="1153.30" x2="291.55" y2="1159.80" stroke="#8c8c8c" stroke-width="1.4"/>
<line x1="461.50" y1="1153.30" x2="461.50" y2="1159.80" stroke="#8c8c8c" stroke-width="1.4"/>
<line x1="115.10" y1="953.70" x2="121.60" y2="953.70" stroke="#f07a7a" stroke-width="1.4"/>
<line x1="115.10" y1="1053.50" x2="121.60" y2="1053.50" stroke="#f07a7a" stroke-width="1.4"/>
<line x1="115.10" y1="1153.30" x2="121.60" y2="1153.30" stroke="#f07a7a" stroke-width="1.4"/>
<line x1="461.50" y1="1153.30" x2="468.00" y2="1153.30" stroke="#8d97cf" stroke-width="1.4"/>
<line x1="461.50" y1="1062.50" x2="468.00" y2="1062.50" stroke="#8d97cf" stroke-width="1.4"/>
<line x1="461.50" y1="971.70" x2="468.00" y2="971.70" stroke="#8d97cf" stroke-width="1.4"/>
<path d="M161.7,1140.0 L162.0,1131.0 L162.7,1127.0 L163.4,1124.5 L164.1,1122.9 L165.1,1121.2 L167.8,1118.5 L169.9,1115.2 L173.3,1107.3 L175.6,1100.5 L175.6,1111.3 L173.3,1118.2 L169.9,1126.1 L167.8,1129.4 L165.1,1132.1 L164.1,1133.8 L163.4,1135.4 L162.7,1137.9 L162.0,1141.9 L161.7,1150.9Z" fill="#c3c7e6" />
<path d="M267.8,1142.1 L270.5,1139.7 L278.3,1134.2 L282.4,1131.7 L288.5,1128.7 L291.2,1126.7 L291.2,1134.6 L288.5,1136.6 L282.4,1139.6 L278.3,1142.2 L270.5,1147.7 L267.8,1150.1Z" fill="#c3c7e6" />
<path d="M311.9,1088.3 L315.0,1084.0 L316.4,1082.5 L317.4,1081.8 L319.4,1081.3 L322.5,1080.8 L325.5,1080.7 L326.2,1080.9 L327.2,1082.0 L328.3,1083.9 L332.0,1093.5 L332.0,1102.6 L328.3,1093.0 L326.9,1090.6 L325.9,1089.8 L321.8,1090.0 L317.4,1090.9 L316.4,1091.6 L315.0,1093.1 L311.9,1097.4Z" fill="#c3c7e6" />
<path d="M214.5,1063.0 L221.0,1066.0 L226.5,1080.0 L227.5,1117.0 L223.0,1100.0 L214.5,1078.0Z" fill="#f9cdbf" />
<path d="M340.5,1051.0 L351.0,1034.0 L351.8,1068.0 L340.5,1057.0Z" fill="#f9c9b9" />
<line x1="351.00" y1="985.00" x2="351.00" y2="1124.00" stroke="#fbe3da" stroke-width="1.3"/>
<path d="M121.6,1153.3 L161.4,1153.3 L162.0,1136.4 L163.1,1131.1 L163.7,1129.1 L164.8,1127.1 L165.4,1126.2 L167.5,1124.3 L168.5,1123.0 L171.2,1117.7 L173.6,1111.8 L175.3,1107.0 L176.7,1102.4 L178.0,1096.8 L180.4,1083.6 L183.8,1059.9 L185.8,1044.0 L189.6,1009.8 L193.7,981.2 L194.7,976.3 L195.4,974.4 L196.0,973.5 L197.4,972.4 L198.4,971.9 L199.4,971.7 L201.1,971.9 L202.8,972.6 L203.9,973.9 L205.6,979.0 L206.6,983.0 L207.3,986.6 L208.6,997.6 L211.7,1029.1 L216.4,1069.8 L221.2,1107.1 L222.6,1116.1 L224.2,1125.1 L226.6,1136.0 L228.3,1141.2 L229.7,1143.5 L231.4,1145.9 L232.7,1147.4 L234.4,1148.8 L237.2,1150.4 L240.6,1151.9 L243.3,1152.8 L245.7,1153.3 L251.8,1153.1 L258.6,1152.5 L260.6,1152.1 L262.3,1151.2 L264.4,1149.5 L269.5,1144.5 L273.5,1141.5 L281.4,1136.3 L288.2,1132.8 L291.2,1130.6 L292.6,1128.9 L293.9,1126.5 L299.0,1115.7 L307.2,1100.3 L309.9,1095.8 L314.3,1089.4 L316.0,1087.4 L317.7,1086.2 L321.8,1085.4 L325.5,1085.2 L326.2,1085.4 L327.2,1086.6 L328.9,1090.0 L334.7,1105.0 L340.8,1122.7 L345.6,1134.8 L348.0,1140.3 L349.7,1143.5 L351.4,1145.9 L354.4,1149.1 L357.2,1151.1 L359.5,1151.8 L363.3,1152.7 L369.0,1153.3 L461.5,1153.3" fill="none" stroke="#2c3f98" stroke-width="2.6" stroke-linejoin="round" stroke-linecap="butt" />
<path d="M161.0,1047.8 L186.6,1054.1 L197.7,1056.6 L202.2,1058.3 L205.5,1060.4 L207.7,1062.4 L210.0,1064.7 L211.1,1066.0 L213.3,1069.6 L221.1,1085.4 L226.6,1098.0" fill="none" stroke="#e32219" stroke-width="2.6" stroke-linejoin="round" stroke-linecap="butt" />
<path d="M271.5,1046.8 L276.9,1050.3 L280.9,1052.1 L289.0,1053.8 L294.4,1054.4 L301.2,1054.4 L309.2,1054.0 L351.0,1050.5" fill="none" stroke="#e32219" stroke-width="2.6" stroke-linejoin="round" stroke-linecap="butt" />
<line x1="351.20" y1="1046.50" x2="351.20" y2="1056.50" stroke="#e32219" stroke-width="2.2"/>
<defs><linearGradient id="cb485" x1="0" y1="1" x2="0" y2="0"><stop offset="0.000" stop-color="rgb(255,255,255)"/><stop offset="0.030" stop-color="rgb(206,202,232)"/><stop offset="0.060" stop-color="rgb(122,116,186)"/><stop offset="0.090" stop-color="rgb(50,56,145)"/><stop offset="0.130" stop-color="rgb(40,58,150)"/><stop offset="0.200" stop-color="rgb(42,82,168)"/><stop offset="0.250" stop-color="rgb(45,115,195)"/><stop offset="0.300" stop-color="rgb(30,178,238)"/><stop offset="0.350" stop-color="rgb(60,182,212)"/><stop offset="0.400" stop-color="rgb(85,182,172)"/><stop offset="0.450" stop-color="rgb(115,187,130)"/><stop offset="0.500" stop-color="rgb(148,196,72)"/><stop offset="0.550" stop-color="rgb(198,212,32)"/><stop offset="0.600" stop-color="rgb(242,230,20)"/><stop offset="0.650" stop-color="rgb(250,192,12)"/><stop offset="0.700" stop-color="rgb(246,150,22)"/><stop offset="0.750" stop-color="rgb(241,110,26)"/><stop offset="0.800" stop-color="rgb(236,76,26)"/><stop offset="0.850" stop-color="rgb(230,42,30)"/><stop offset="0.900" stop-color="rgb(226,22,30)"/><stop offset="0.950" stop-color="rgb(170,16,26)"/><stop offset="1.000" stop-color="rgb(105,10,16)"/></linearGradient></defs>
<rect x="485.2" y="136.6" width="22.9" height="391.0" fill="url(#cb485)" stroke="#777" stroke-width="1.2"/>
<line x1="508.10" y1="527.60" x2="515.10" y2="527.60" stroke="#8a8a8a" stroke-width="1.3"/>
<line x1="508.10" y1="488.50" x2="515.10" y2="488.50" stroke="#8a8a8a" stroke-width="1.3"/>
<line x1="508.10" y1="449.40" x2="515.10" y2="449.40" stroke="#8a8a8a" stroke-width="1.3"/>
<line x1="508.10" y1="410.30" x2="515.10" y2="410.30" stroke="#8a8a8a" stroke-width="1.3"/>
<line x1="508.10" y1="371.20" x2="515.10" y2="371.20" stroke="#8a8a8a" stroke-width="1.3"/>
<line x1="508.10" y1="332.10" x2="515.10" y2="332.10" stroke="#8a8a8a" stroke-width="1.3"/>
<line x1="508.10" y1="293.00" x2="515.10" y2="293.00" stroke="#8a8a8a" stroke-width="1.3"/>
<line x1="508.10" y1="253.90" x2="515.10" y2="253.90" stroke="#8a8a8a" stroke-width="1.3"/>
<line x1="508.10" y1="214.80" x2="515.10" y2="214.80" stroke="#8a8a8a" stroke-width="1.3"/>
<line x1="508.10" y1="175.70" x2="515.10" y2="175.70" stroke="#8a8a8a" stroke-width="1.3"/>
<line x1="508.10" y1="136.60" x2="515.10" y2="136.60" stroke="#8a8a8a" stroke-width="1.3"/>
<line x1="712.90" y1="98.70" x2="1041.30" y2="98.70" stroke="#8c8c8c" stroke-width="1.4"/>
<line x1="712.90" y1="293.90" x2="1041.30" y2="293.90" stroke="#8c8c8c" stroke-width="1.4"/>
<line x1="712.90" y1="98.70" x2="712.90" y2="293.90" stroke="#8c8c8c" stroke-width="1.4"/>
<line x1="1041.30" y1="98.70" x2="1041.30" y2="293.90" stroke="#8c8c8c" stroke-width="1.4"/>
<line x1="740.27" y1="293.90" x2="740.27" y2="300.40" stroke="#8c8c8c" stroke-width="1.4"/>
<line x1="877.10" y1="293.90" x2="877.10" y2="300.40" stroke="#8c8c8c" stroke-width="1.4"/>
<line x1="1013.93" y1="293.90" x2="1013.93" y2="300.40" stroke="#8c8c8c" stroke-width="1.4"/>
<line x1="706.40" y1="266.01" x2="712.90" y2="266.01" stroke="#8c8c8c" stroke-width="1.4"/>
<line x1="706.40" y1="210.24" x2="712.90" y2="210.24" stroke="#8c8c8c" stroke-width="1.4"/>
<line x1="706.40" y1="154.47" x2="712.90" y2="154.47" stroke="#8c8c8c" stroke-width="1.4"/>
<line x1="706.40" y1="98.70" x2="712.90" y2="98.70" stroke="#8c8c8c" stroke-width="1.4"/>
<line x1="712.90" y1="383.00" x2="1041.30" y2="383.00" stroke="#8c8c8c" stroke-width="1.4"/>
<line x1="712.90" y1="579.70" x2="1041.30" y2="579.70" stroke="#8c8c8c" stroke-width="1.4"/>
<line x1="712.90" y1="383.00" x2="712.90" y2="579.70" stroke="#8c8c8c" stroke-width="1.4"/>
<line x1="1041.30" y1="383.00" x2="1041.30" y2="579.70" stroke="#8c8c8c" stroke-width="1.4"/>
<line x1="740.27" y1="579.70" x2="740.27" y2="586.20" stroke="#8c8c8c" stroke-width="1.4"/>
<line x1="877.10" y1="579.70" x2="877.10" y2="586.20" stroke="#8c8c8c" stroke-width="1.4"/>
<line x1="1013.93" y1="579.70" x2="1013.93" y2="586.20" stroke="#8c8c8c" stroke-width="1.4"/>
<line x1="706.40" y1="551.60" x2="712.90" y2="551.60" stroke="#8c8c8c" stroke-width="1.4"/>
<line x1="706.40" y1="495.40" x2="712.90" y2="495.40" stroke="#8c8c8c" stroke-width="1.4"/>
<line x1="706.40" y1="439.20" x2="712.90" y2="439.20" stroke="#8c8c8c" stroke-width="1.4"/>
<line x1="706.40" y1="383.00" x2="712.90" y2="383.00" stroke="#8c8c8c" stroke-width="1.4"/>
<line x1="712.90" y1="662.90" x2="1041.30" y2="662.90" stroke="#8c8c8c" stroke-width="1.4"/>
<line x1="712.90" y1="859.70" x2="1041.30" y2="859.70" stroke="#8c8c8c" stroke-width="1.4"/>
<line x1="712.90" y1="662.90" x2="712.90" y2="859.70" stroke="#8c8c8c" stroke-width="1.4"/>
<line x1="1041.30" y1="662.90" x2="1041.30" y2="859.70" stroke="#8c8c8c" stroke-width="1.4"/>
<line x1="740.27" y1="859.70" x2="740.27" y2="866.20" stroke="#8c8c8c" stroke-width="1.4"/>
<line x1="877.10" y1="859.70" x2="877.10" y2="866.20" stroke="#8c8c8c" stroke-width="1.4"/>
<line x1="1013.93" y1="859.70" x2="1013.93" y2="866.20" stroke="#8c8c8c" stroke-width="1.4"/>
<line x1="706.40" y1="859.70" x2="712.90" y2="859.70" stroke="#8c8c8c" stroke-width="1.4"/>
<line x1="706.40" y1="769.90" x2="712.90" y2="769.90" stroke="#8c8c8c" stroke-width="1.4"/>
<line x1="706.40" y1="680.10" x2="712.90" y2="680.10" stroke="#8c8c8c" stroke-width="1.4"/>
<path d="M712.9,859.7 L862.9,859.7 L865.9,859.5 L867.2,858.7 L868.1,857.4 L868.6,855.8 L869.7,849.9 L870.5,841.6 L871.4,828.7 L872.7,795.0 L875.5,704.1 L876.3,686.4 L876.8,680.8 L877.1,680.1 L877.4,680.8 L877.9,686.4 L878.7,704.1 L881.5,795.0 L882.8,828.7 L883.7,841.6 L884.5,849.9 L885.6,855.8 L886.1,857.4 L887.0,858.7 L888.3,859.5 L891.3,859.7 L1041.3,859.7" fill="none" stroke="#2c3f98" stroke-width="2.6" stroke-linejoin="round" stroke-linecap="butt" />
<line x1="852.50" y1="759.60" x2="861.00" y2="759.60" stroke="#5060b0" stroke-width="1.1"/>
<path d="M865.5,759.6 L860.5,756.2 L860.5,763.0Z" fill="#2c3f98"/>
<line x1="900.50" y1="759.60" x2="892.00" y2="759.60" stroke="#5060b0" stroke-width="1.1"/>
<path d="M887.5,759.6 L892.5,756.2 L892.5,763.0Z" fill="#2c3f98"/>
<line x1="712.90" y1="943.50" x2="1041.30" y2="943.50" stroke="#8c8c8c" stroke-width="1.4"/>
<line x1="712.90" y1="1139.00" x2="1041.30" y2="1139.00" stroke="#8c8c8c" stroke-width="1.4"/>
<line x1="712.90" y1="943.50" x2="712.90" y2="1139.00" stroke="#f07a7a" stroke-width="1.4"/>
<line x1="1041.30" y1="943.50" x2="1041.30" y2="1139.00" stroke="#8d97cf" stroke-width="1.4"/>
<line x1="759.81" y1="1139.00" x2="759.81" y2="1145.50" stroke="#8c8c8c" stroke-width="1.4"/>
<line x1="853.64" y1="1139.00" x2="853.64" y2="1145.50" stroke="#8c8c8c" stroke-width="1.4"/>
<line x1="947.47" y1="1139.00" x2="947.47" y2="1145.50" stroke="#8c8c8c" stroke-width="1.4"/>
<line x1="1041.30" y1="1139.00" x2="1041.30" y2="1145.50" stroke="#8c8c8c" stroke-width="1.4"/>
<line x1="706.40" y1="943.50" x2="712.90" y2="943.50" stroke="#f07a7a" stroke-width="1.4"/>
<line x1="706.40" y1="1041.25" x2="712.90" y2="1041.25" stroke="#f07a7a" stroke-width="1.4"/>
<line x1="706.40" y1="1139.00" x2="712.90" y2="1139.00" stroke="#f07a7a" stroke-width="1.4"/>
<line x1="1041.30" y1="1139.00" x2="1047.80" y2="1139.00" stroke="#8d97cf" stroke-width="1.4"/>
<line x1="1041.30" y1="1050.30" x2="1047.80" y2="1050.30" stroke="#8d97cf" stroke-width="1.4"/>
<line x1="1041.30" y1="961.60" x2="1047.80" y2="961.60" stroke="#8d97cf" stroke-width="1.4"/>
<path d="M749.5,1138.5 L756.2,1136.4 L767.6,1131.7 L777.6,1128.2 L782.4,1126.2 L785.8,1124.4 L788.2,1122.7 L790.1,1120.7 L792.1,1118.2 L799.1,1107.5 L803.2,1100.6 L807.3,1092.5 L810.9,1083.9 L814.1,1074.9 L818.5,1061.5 L825.7,1034.9 L828.4,1026.0 L841.7,987.9 L843.3,983.9 L844.9,980.6 L847.9,976.1 L850.8,972.7 L859.1,964.8 L862.5,962.2 L864.4,961.3 L865.9,961.1 L875.2,961.1 L877.1,961.8 L879.0,963.4 L881.4,966.1 L883.8,969.2 L885.2,971.7 L888.1,978.3 L893.5,992.7 L897.4,1004.7 L919.0,1075.6 L925.8,1096.5 L930.2,1108.4 L936.0,1121.7 L937.9,1125.4 L939.3,1127.7 L940.8,1129.4 L944.1,1132.6 L946.9,1134.8 L949.3,1136.2 L936.0,1136.1 L934.2,1134.9 L931.9,1133.2 L927.8,1129.2 L926.0,1126.6 L923.7,1122.2 L917.5,1106.6 L913.6,1094.4 L906.7,1070.1 L888.1,1000.7 L886.0,993.4 L881.6,980.2 L878.9,973.2 L876.7,968.8 L873.5,964.7 L871.7,962.7 L869.8,961.4 L868.4,961.1 L875.4,961.1 L873.1,961.8 L870.8,963.3 L868.5,965.4 L862.0,971.9 L859.7,974.5 L857.9,977.1 L856.0,980.1 L855.1,982.1 L852.9,988.7 L841.8,1026.8 L839.6,1035.9 L834.3,1060.6 L829.0,1080.3 L826.8,1087.2 L824.5,1093.0 L821.4,1100.1 L818.2,1106.3 L813.1,1114.9 L810.4,1119.2 L808.1,1122.1 L805.8,1123.9 L802.5,1125.8 L798.8,1127.5 L787.6,1131.6 L776.0,1136.5 L769.9,1138.4Z" fill="#bec2e4" />
<path d="M712.9,1139.0 L759.8,1139.0 L761.2,1138.9 L768.7,1136.6 L780.9,1131.5 L793.1,1127.1 L795.9,1125.7 L798.8,1124.1 L800.6,1122.7 L802.0,1121.3 L803.9,1118.9 L805.8,1116.1 L813.3,1103.3 L817.5,1094.6 L821.3,1085.2 L824.6,1074.9 L828.3,1061.5 L834.4,1034.9 L836.8,1026.0 L848.5,987.9 L850.8,981.6 L852.2,978.9 L854.1,976.1 L856.0,973.7 L858.3,971.2 L864.4,965.2 L866.8,963.2 L869.1,961.7 L871.5,961.1 L872.9,961.3 L874.8,962.5 L876.6,964.4 L879.4,967.9 L881.8,971.7 L884.6,978.3 L889.8,992.7 L892.1,1000.0 L912.8,1070.9 L921.7,1099.4 L925.0,1108.4 L930.1,1120.7 L932.9,1126.2 L935.3,1129.4 L940.0,1133.7 L942.3,1135.4 L944.2,1136.4 L947.5,1137.6 L951.2,1138.4 L954.5,1138.9 L1041.3,1139.0" fill="none" stroke="#2c3f98" stroke-width="2.6" stroke-linejoin="round" stroke-linecap="butt" />
<path d="M778.6,1043.2 L851.3,1041.0 L877.5,1040.8 L895.0,1041.2 L918.3,1042.2 L932.8,1043.3 L950.3,1045.2" fill="none" stroke="#e32219" stroke-width="2.6" stroke-linejoin="round" stroke-linecap="butt" />
<defs><linearGradient id="cb1076" x1="0" y1="1" x2="0" y2="0"><stop offset="0.000" stop-color="rgb(255,255,255)"/><stop offset="0.030" stop-color="rgb(206,202,232)"/><stop offset="0.060" stop-color="rgb(122,116,186)"/><stop offset="0.090" stop-color="rgb(50,56,145)"/><stop offset="0.130" stop-color="rgb(40,58,150)"/><stop offset="0.200" stop-color="rgb(42,82,168)"/><stop offset="0.250" stop-color="rgb(45,115,195)"/><stop offset="0.300" stop-color="rgb(30,178,238)"/><stop offset="0.350" stop-color="rgb(60,182,212)"/><stop offset="0.400" stop-color="rgb(85,182,172)"/><stop offset="0.450" stop-color="rgb(115,187,130)"/><stop offset="0.500" stop-color="rgb(148,196,72)"/><stop offset="0.550" stop-color="rgb(198,212,32)"/><stop offset="0.600" stop-color="rgb(242,230,20)"/><stop offset="0.650" stop-color="rgb(250,192,12)"/><stop offset="0.700" stop-color="rgb(246,150,22)"/><stop offset="0.750" stop-color="rgb(241,110,26)"/><stop offset="0.800" stop-color="rgb(236,76,26)"/><stop offset="0.850" stop-color="rgb(230,42,30)"/><stop offset="0.900" stop-color="rgb(226,22,30)"/><stop offset="0.950" stop-color="rgb(170,16,26)"/><stop offset="1.000" stop-color="rgb(105,10,16)"/></linearGradient></defs>
<rect x="1076.0" y="136.1" width="24.2" height="409.6" fill="url(#cb1076)" stroke="#777" stroke-width="1.2"/>
<line x1="1100.20" y1="545.70" x2="1107.20" y2="545.70" stroke="#8a8a8a" stroke-width="1.3"/>
<line x1="1100.20" y1="504.74" x2="1107.20" y2="504.74" stroke="#8a8a8a" stroke-width="1.3"/>
<line x1="1100.20" y1="463.78" x2="1107.20" y2="463.78" stroke="#8a8a8a" stroke-width="1.3"/>
<line x1="1100.20" y1="422.82" x2="1107.20" y2="422.82" stroke="#8a8a8a" stroke-width="1.3"/>
<line x1="1100.20" y1="381.86" x2="1107.20" y2="381.86" stroke="#8a8a8a" stroke-width="1.3"/>
<line x1="1100.20" y1="340.90" x2="1107.20" y2="340.90" stroke="#8a8a8a" stroke-width="1.3"/>
<line x1="1100.20" y1="299.94" x2="1107.20" y2="299.94" stroke="#8a8a8a" stroke-width="1.3"/>
<line x1="1100.20" y1="258.98" x2="1107.20" y2="258.98" stroke="#8a8a8a" stroke-width="1.3"/>
<line x1="1100.20" y1="218.02" x2="1107.20" y2="218.02" stroke="#8a8a8a" stroke-width="1.3"/>
<line x1="1100.20" y1="177.06" x2="1107.20" y2="177.06" stroke="#8a8a8a" stroke-width="1.3"/>
<line x1="1100.20" y1="136.10" x2="1107.20" y2="136.10" stroke="#8a8a8a" stroke-width="1.3"/>
<defs><filter id="tblur" x="-5%" y="-5%" width="110%" height="110%"><feGaussianBlur stdDeviation="0.42"/></filter></defs>
<g filter="url(#tblur)"><text transform="translate(275.22,49.72) scale(1.097,1)" font-size="27.06" fill="#111" stroke="#111" stroke-width="0">(i)</text>
<text transform="translate(850.98,49.88) scale(1.037,1)" font-size="27.70" fill="#111" stroke="#111" stroke-width="0">(ii)</text>
<text transform="translate(19.15,100.85) scale(1.006,1)" font-size="27.38" fill="#111" stroke="#111" stroke-width="0">(a)</text>
<text transform="translate(19.07,391.35) scale(1.053,1)" font-size="27.38" fill="#111" stroke="#111" stroke-width="0">(b)</text>
<text transform="translate(19.16,677.35)" font-size="27.38" fill="#111" stroke="#111" stroke-width="0">(c)</text>
<text transform="translate(17.60,962.95) scale(1.058,1)" font-size="28.34" fill="#111" stroke="#111" stroke-width="0">(d)</text>
<text transform="translate(606.80,99.88) scale(0.962,1)" font-size="27.70" fill="#111" stroke="#111" stroke-width="0">(a)</text>
<text transform="translate(606.09,391.88) scale(1.031,1)" font-size="27.70" fill="#111" stroke="#111" stroke-width="0">(b)</text>
<text transform="translate(606.75,677.50) scale(1.015,1)" font-size="27.17" fill="#111" stroke="#111" stroke-width="0">(c)</text>
<text transform="translate(605.99,962.88) scale(1.086,1)" font-size="27.70" fill="#111" stroke="#111" stroke-width="0">(d)</text>
<text transform="translate(108.81,318.13) scale(0.900,1)" font-size="16.62" fill="#434343" stroke="#434343" stroke-width="0.42">−10</text>
<text transform="translate(196.40,318.13) scale(1.050,1)" font-size="16.86" fill="#434343" stroke="#434343" stroke-width="0.42">−5</text>
<text transform="translate(286.66,318.13) scale(1.050,1)" font-size="16.62" fill="#434343" stroke="#434343" stroke-width="0.42">0</text>
<text transform="translate(371.61,318.13) scale(1.050,1)" font-size="16.86" fill="#434343" stroke="#434343" stroke-width="0.42">5</text>
<text transform="translate(452.90,318.13) scale(0.900,1)" font-size="16.62" fill="#434343" stroke="#434343" stroke-width="0.42">10</text>
<text transform="translate(91.07,298.33) scale(0.900,1)" font-size="16.86" fill="#434343" stroke="#434343" stroke-width="0.42">15</text>
<text transform="translate(88.54,198.73) scale(1.050,1)" font-size="16.62" fill="#434343" stroke="#434343" stroke-width="0.42">20</text>
<text transform="translate(88.63,99.13) scale(1.050,1)" font-size="16.62" fill="#434343" stroke="#434343" stroke-width="0.42">25</text>
<text transform="translate(261.89,341.08) scale(1.192,1)" font-size="12.94" fill="#434343" stroke="#434343" stroke-width="0.32">Time (fs)</text>
<text transform="translate(71.53,232.39) rotate(-90) scale(1.260,1)" font-size="11.76" fill="#434343" stroke="#434343" stroke-width="0.32">Energy (eV)</text>
<text transform="translate(108.81,608.33) scale(0.900,1)" font-size="16.62" fill="#434343" stroke="#434343" stroke-width="0.42">−10</text>
<text transform="translate(196.40,608.33) scale(1.050,1)" font-size="16.86" fill="#434343" stroke="#434343" stroke-width="0.42">−5</text>
<text transform="translate(286.66,608.33) scale(1.050,1)" font-size="16.62" fill="#434343" stroke="#434343" stroke-width="0.42">0</text>
<text transform="translate(371.61,608.33) scale(1.050,1)" font-size="16.86" fill="#434343" stroke="#434343" stroke-width="0.42">5</text>
<text transform="translate(452.90,608.33) scale(0.900,1)" font-size="16.62" fill="#434343" stroke="#434343" stroke-width="0.42">10</text>
<text transform="translate(91.07,586.33) scale(0.900,1)" font-size="16.86" fill="#434343" stroke="#434343" stroke-width="0.42">15</text>
<text transform="translate(88.54,486.18) scale(1.050,1)" font-size="16.62" fill="#434343" stroke="#434343" stroke-width="0.42">20</text>
<text transform="translate(88.63,386.03) scale(1.050,1)" font-size="16.62" fill="#434343" stroke="#434343" stroke-width="0.42">25</text>
<text transform="translate(261.89,630.28) scale(1.192,1)" font-size="12.94" fill="#434343" stroke="#434343" stroke-width="0.32">Time (fs)</text>
<text transform="translate(71.53,519.59) rotate(-90) scale(1.260,1)" font-size="11.76" fill="#434343" stroke="#434343" stroke-width="0.32">Energy (eV)</text>
<text transform="translate(108.81,898.03) scale(0.900,1)" font-size="16.62" fill="#434343" stroke="#434343" stroke-width="0.42">−10</text>
<text transform="translate(196.40,898.03) scale(1.050,1)" font-size="16.86" fill="#434343" stroke="#434343" stroke-width="0.42">−5</text>
<text transform="translate(286.66,898.03) scale(1.050,1)" font-size="16.62" fill="#434343" stroke="#434343" stroke-width="0.42">0</text>
<text transform="translate(371.61,898.03) scale(1.050,1)" font-size="16.86" fill="#434343" stroke="#434343" stroke-width="0.42">5</text>
<text transform="translate(452.90,898.03) scale(0.900,1)" font-size="16.62" fill="#434343" stroke="#434343" stroke-width="0.42">10</text>
<text transform="translate(83.65,876.13) scale(1.050,1)" font-size="16.62" fill="#434343" stroke="#434343" stroke-width="0.42">0.0</text>
<text transform="translate(83.74,784.73) scale(1.050,1)" font-size="16.62" fill="#434343" stroke="#434343" stroke-width="0.42">0.5</text>
<text transform="translate(87.03,693.33) scale(0.900,1)" font-size="16.62" fill="#434343" stroke="#434343" stroke-width="0.42">1.0</text>
<text transform="translate(261.89,919.48) scale(1.192,1)" font-size="12.94" fill="#434343" stroke="#434343" stroke-width="0.32">Time (fs)</text>
<text transform="translate(70.80,826.98) rotate(-90) scale(1.192,1)" font-size="14.76" fill="#434343" stroke="#434343" stroke-width="0.32">Intensity (a.u.)</text>
<text transform="translate(310.44,761.96) scale(0.982,1)" font-size="14.37" fill="#4b5db3" stroke="#4b5db3" stroke-width="0.32">576 ± 16 as</text>
<text transform="translate(112.91,1180.63) scale(0.900,1)" font-size="16.86" fill="#434343" stroke="#434343" stroke-width="0.42">15</text>
<text transform="translate(281.73,1180.63) scale(1.050,1)" font-size="16.62" fill="#434343" stroke="#434343" stroke-width="0.42">20</text>
<text transform="translate(451.73,1180.63) scale(1.050,1)" font-size="16.62" fill="#434343" stroke="#434343" stroke-width="0.42">25</text>
<text transform="translate(99.45,959.60) scale(0.900,1)" font-size="17.10" fill="#ee5050" stroke="#ee5050" stroke-width="0.42">1</text>
<text transform="translate(98.23,1059.23) scale(1.050,1)" font-size="16.62" fill="#ee5050" stroke="#ee5050" stroke-width="0.42">0</text>
<text transform="translate(90.45,1159.20) scale(0.900,1)" font-size="17.10" fill="#ee5050" stroke="#ee5050" stroke-width="0.42">−1</text>
<text transform="translate(476.30,1159.03) scale(1.050,1)" font-size="16.62" fill="#4b5db3" stroke="#4b5db3" stroke-width="0.42">0.0</text>
<text transform="translate(476.30,1068.23) scale(1.050,1)" font-size="16.62" fill="#4b5db3" stroke="#4b5db3" stroke-width="0.42">0.5</text>
<text transform="translate(475.88,977.43) scale(0.900,1)" font-size="16.62" fill="#4b5db3" stroke="#4b5db3" stroke-width="0.42">1.0</text>
<text transform="translate(251.89,1204.14) scale(1.146,1)" font-size="13.16" fill="#434343" stroke="#434343" stroke-width="0.32">Energy (eV)</text>
<text transform="translate(80.17,1086.84) rotate(-90) scale(1.135,1)" font-size="12.51" fill="#ee5050" stroke="#ee5050" stroke-width="0.32">Phase (π)</text>
<text transform="translate(514.36,1003.21) rotate(90) scale(1.177,1)" font-size="13.16" fill="#4b5db3" stroke="#4b5db3" stroke-width="0.32">Intensity (a.u.)</text>
<text transform="translate(521.30,533.33) scale(1.050,1)" font-size="16.62" fill="#434343" stroke="#434343" stroke-width="0.42">0.0</text>
<text transform="translate(521.40,494.23) scale(0.900,1)" font-size="16.62" fill="#434343" stroke="#434343" stroke-width="0.42">0.1</text>
<text transform="translate(521.30,455.13) scale(1.050,1)" font-size="16.62" fill="#434343" stroke="#434343" stroke-width="0.42">0.2</text>
<text transform="translate(521.30,416.03) scale(1.050,1)" font-size="16.62" fill="#434343" stroke="#434343" stroke-width="0.42">0.3</text>
<text transform="translate(521.30,376.93) scale(1.050,1)" font-size="16.62" fill="#434343" stroke="#434343" stroke-width="0.42">0.4</text>
<text transform="translate(521.30,337.83) scale(1.050,1)" font-size="16.62" fill="#434343" stroke="#434343" stroke-width="0.42">0.5</text>
<text transform="translate(521.30,298.73) scale(1.050,1)" font-size="16.62" fill="#434343" stroke="#434343" stroke-width="0.42">0.6</text>
<text transform="translate(521.30,259.63) scale(1.050,1)" font-size="16.62" fill="#434343" stroke="#434343" stroke-width="0.42">0.7</text>
<text transform="translate(521.30,220.53) scale(1.050,1)" font-size="16.62" fill="#434343" stroke="#434343" stroke-width="0.42">0.8</text>
<text transform="translate(521.30,181.43) scale(1.050,1)" font-size="16.62" fill="#434343" stroke="#434343" stroke-width="0.42">0.9</text>
<text transform="translate(520.88,142.33) scale(0.900,1)" font-size="16.62" fill="#434343" stroke="#434343" stroke-width="0.42">1.0</text>
<text transform="translate(561.27,282.39) rotate(90) scale(0.866,1)" font-size="17.41" fill="#434343" stroke="#434343" stroke-width="0.32">Relative counts</text>
<text transform="translate(730.09,321.03) scale(1.050,1)" font-size="16.86" fill="#434343" stroke="#434343" stroke-width="0.42">−5</text>
<text transform="translate(872.21,321.03) scale(1.050,1)" font-size="16.62" fill="#434343" stroke="#434343" stroke-width="0.42">0</text>
<text transform="translate(1009.02,321.03) scale(1.050,1)" font-size="16.86" fill="#434343" stroke="#434343" stroke-width="0.42">5</text>
<text transform="translate(679.94,271.75) scale(1.050,1)" font-size="16.62" fill="#434343" stroke="#434343" stroke-width="0.42">80</text>
<text transform="translate(679.94,215.98) scale(1.050,1)" font-size="16.62" fill="#434343" stroke="#434343" stroke-width="0.42">90</text>
<text transform="translate(674.32,160.21) scale(0.900,1)" font-size="16.62" fill="#434343" stroke="#434343" stroke-width="0.42">100</text>
<text transform="translate(675.37,104.43) scale(0.900,1)" font-size="16.62" fill="#434343" stroke="#434343" stroke-width="0.42">110</text>
<text transform="translate(845.78,344.48) scale(1.228,1)" font-size="12.94" fill="#434343" stroke="#434343" stroke-width="0.32">Time (fs)</text>
<text transform="translate(655.86,238.61) rotate(-90) scale(1.255,1)" font-size="12.09" fill="#434343" stroke="#434343" stroke-width="0.32">Energy (eV)</text>
<text transform="translate(730.09,607.23) scale(1.050,1)" font-size="16.86" fill="#434343" stroke="#434343" stroke-width="0.42">−5</text>
<text transform="translate(872.21,607.23) scale(1.050,1)" font-size="16.62" fill="#434343" stroke="#434343" stroke-width="0.42">0</text>
<text transform="translate(1009.02,607.23) scale(1.050,1)" font-size="16.86" fill="#434343" stroke="#434343" stroke-width="0.42">5</text>
<text transform="translate(679.94,557.33) scale(1.050,1)" font-size="16.62" fill="#434343" stroke="#434343" stroke-width="0.42">80</text>
<text transform="translate(679.94,501.13) scale(1.050,1)" font-size="16.62" fill="#434343" stroke="#434343" stroke-width="0.42">90</text>
<text transform="translate(674.32,444.93) scale(0.900,1)" font-size="16.62" fill="#434343" stroke="#434343" stroke-width="0.42">100</text>
<text transform="translate(675.37,388.73) scale(0.900,1)" font-size="16.62" fill="#434343" stroke="#434343" stroke-width="0.42">110</text>
<text transform="translate(845.78,630.48) scale(1.228,1)" font-size="12.94" fill="#434343" stroke="#434343" stroke-width="0.32">Time (fs)</text>
<text transform="translate(655.86,521.61) rotate(-90) scale(1.255,1)" font-size="12.09" fill="#434343" stroke="#434343" stroke-width="0.32">Energy (eV)</text>
<text transform="translate(730.09,887.63) scale(1.050,1)" font-size="16.86" fill="#434343" stroke="#434343" stroke-width="0.42">−5</text>
<text transform="translate(872.21,887.63) scale(1.050,1)" font-size="16.62" fill="#434343" stroke="#434343" stroke-width="0.42">0</text>
<text transform="translate(1009.02,887.63) scale(1.050,1)" font-size="16.86" fill="#434343" stroke="#434343" stroke-width="0.42">5</text>
<text transform="translate(675.05,865.43) scale(1.050,1)" font-size="16.62" fill="#434343" stroke="#434343" stroke-width="0.42">0.0</text>
<text transform="translate(675.14,775.63) scale(1.050,1)" font-size="16.62" fill="#434343" stroke="#434343" stroke-width="0.42">0.5</text>
<text transform="translate(678.43,685.83) scale(0.900,1)" font-size="16.62" fill="#434343" stroke="#434343" stroke-width="0.42">1.0</text>
<text transform="translate(845.78,910.48) scale(1.228,1)" font-size="12.94" fill="#434343" stroke="#434343" stroke-width="0.32">Time (fs)</text>
<text transform="translate(662.30,813.88) rotate(-90) scale(1.115,1)" font-size="14.76" fill="#434343" stroke="#434343" stroke-width="0.32">Intensity (a.u.)</text>
<text transform="translate(886.37,736.24) scale(0.915,1)" font-size="15.92" fill="#4b5db3" stroke="#4b5db3" stroke-width="0.32">257 ± 21 as</text>
<text transform="translate(750.04,1166.73) scale(1.050,1)" font-size="16.62" fill="#434343" stroke="#434343" stroke-width="0.42">80</text>
<text transform="translate(843.87,1166.73) scale(1.050,1)" font-size="16.62" fill="#434343" stroke="#434343" stroke-width="0.42">90</text>
<text transform="translate(934.72,1166.73) scale(0.900,1)" font-size="16.62" fill="#434343" stroke="#434343" stroke-width="0.42">100</text>
<text transform="translate(1029.07,1166.73) scale(0.900,1)" font-size="16.62" fill="#434343" stroke="#434343" stroke-width="0.42">110</text>
<text transform="translate(690.85,949.40) scale(0.900,1)" font-size="17.10" fill="#ee5050" stroke="#ee5050" stroke-width="0.42">1</text>
<text transform="translate(689.63,1046.98) scale(1.050,1)" font-size="16.62" fill="#ee5050" stroke="#ee5050" stroke-width="0.42">0</text>
<text transform="translate(681.85,1144.90) scale(0.900,1)" font-size="17.10" fill="#ee5050" stroke="#ee5050" stroke-width="0.42">−1</text>
<text transform="translate(1055.80,1144.73) scale(1.050,1)" font-size="16.62" fill="#4b5db3" stroke="#4b5db3" stroke-width="0.42">0.0</text>
<text transform="translate(1055.80,1056.03) scale(1.050,1)" font-size="16.62" fill="#4b5db3" stroke="#4b5db3" stroke-width="0.42">0.5</text>
<text transform="translate(1055.38,967.33) scale(0.900,1)" font-size="16.62" fill="#4b5db3" stroke="#4b5db3" stroke-width="0.42">1.0</text>
<text transform="translate(834.89,1190.64) scale(1.146,1)" font-size="13.16" fill="#434343" stroke="#434343" stroke-width="0.32">Energy (eV)</text>
<text transform="translate(669.87,1074.60) rotate(-90) scale(1.038,1)" font-size="14.44" fill="#ee5050" stroke="#ee5050" stroke-width="0.32">Phase (π)</text>
<text transform="translate(1096.13,990.16) rotate(90) scale(1.112,1)" font-size="14.44" fill="#4b5db3" stroke="#4b5db3" stroke-width="0.32">Intensity (a.u.)</text>
<text transform="translate(1113.50,551.43) scale(1.050,1)" font-size="16.62" fill="#434343" stroke="#434343" stroke-width="0.42">0.0</text>
<text transform="translate(1113.60,510.47) scale(0.900,1)" font-size="16.62" fill="#434343" stroke="#434343" stroke-width="0.42">0.1</text>
<text transform="translate(1113.50,469.51) scale(1.050,1)" font-size="16.62" fill="#434343" stroke="#434343" stroke-width="0.42">0.2</text>
<text transform="translate(1113.50,428.55) scale(1.050,1)" font-size="16.62" fill="#434343" stroke="#434343" stroke-width="0.42">0.3</text>
<text transform="translate(1113.50,387.59) scale(1.050,1)" font-size="16.62" fill="#434343" stroke="#434343" stroke-width="0.42">0.4</text>
<text transform="translate(1113.50,346.63) scale(1.050,1)" font-size="16.62" fill="#434343" stroke="#434343" stroke-width="0.42">0.5</text>
<text transform="translate(1113.50,305.67) scale(1.050,1)" font-size="16.62" fill="#434343" stroke="#434343" stroke-width="0.42">0.6</text>
<text transform="translate(1113.50,264.71) scale(1.050,1)" font-size="16.62" fill="#434343" stroke="#434343" stroke-width="0.42">0.7</text>
<text transform="translate(1113.50,223.75) scale(1.050,1)" font-size="16.62" fill="#434343" stroke="#434343" stroke-width="0.42">0.8</text>
<text transform="translate(1113.50,182.79) scale(1.050,1)" font-size="16.62" fill="#434343" stroke="#434343" stroke-width="0.42">0.9</text>
<text transform="translate(1113.08,141.83) scale(0.900,1)" font-size="16.62" fill="#434343" stroke="#434343" stroke-width="0.42">1.0</text>
<text transform="translate(1156.27,289.97) rotate(90) scale(0.882,1)" font-size="17.41" fill="#434343" stroke="#434343" stroke-width="0.32">Relative counts</text></g>
</svg></body></html>
